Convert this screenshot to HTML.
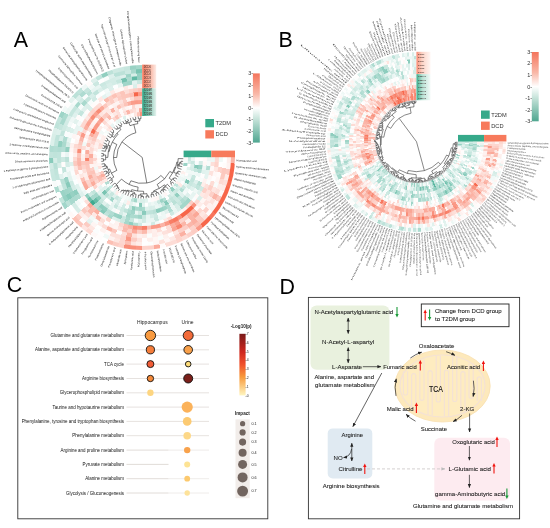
<!DOCTYPE html>
<html><head><meta charset="utf-8">
<style>
html,body{margin:0;padding:0;background:#fff;}
body{width:550px;height:528px;position:relative;overflow:hidden;font-family:"Liberation Sans",Arial,sans-serif;}
.rg{position:absolute;border-radius:50%;}
svg{position:absolute;left:0;top:0;}
</style></head><body>
<div class="rg" style="left:49.40px;top:64.60px;width:185.60px;height:185.60px;background:conic-gradient(#fff0 0deg 90.00deg,#fbb5a7 90.00deg 93.75deg,#f7664a 93.75deg 97.50deg,#f7664a 97.50deg 101.25deg,#f7664a 101.25deg 105.00deg,#f76e53 105.00deg 108.75deg,#f7664a 108.75deg 112.50deg,#f7664a 112.50deg 116.25deg,#f7674c 116.25deg 120.00deg,#f7664a 120.00deg 123.75deg,#f7664a 123.75deg 127.50deg,#f8765d 127.50deg 131.25deg,#f7664a 131.25deg 135.00deg,#f7664a 135.00deg 138.75deg,#fa9987 138.75deg 142.50deg,#fcccc3 142.50deg 146.25deg,#fdd0c8 146.25deg 150.00deg,#fddcd6 150.00deg 153.75deg,#fdd4cc 153.75deg 157.50deg,#fddcd6 157.50deg 161.25deg,#fddcd5 161.25deg 165.00deg,#fffbfa 165.00deg 168.75deg,#fbab9c 168.75deg 172.50deg,#fdd3cb 172.50deg 176.25deg,#fdd4cc 176.25deg 180.00deg,#fa9683 180.00deg 183.75deg,#f98f7b 183.75deg 187.50deg,#f98e79 187.50deg 191.25deg,#fdd3cb 191.25deg 195.00deg,#fcccc3 195.00deg 198.75deg,#fcbfb3 198.75deg 202.50deg,#ffffff 202.50deg 206.25deg,#fffdfc 206.25deg 210.00deg,#fff8f7 210.00deg 213.75deg,#fdd9d2 213.75deg 217.50deg,#fee5e1 217.50deg 221.25deg,#fcc7bd 221.25deg 225.00deg,#fcc1b5 225.00deg 228.75deg,#fff8f7 228.75deg 232.50deg,#f9fcfc 232.50deg 236.25deg,#a2d6ca 236.25deg 240.00deg,#c3e5dc 240.00deg 243.75deg,#fcfefe 243.75deg 247.50deg,#aedbd0 247.50deg 251.25deg,#f7fbfa 251.25deg 255.00deg,#c7e7df 255.00deg 258.75deg,#c9e7e0 258.75deg 262.50deg,#d2ebe5 262.50deg 266.25deg,#89cbbb 266.25deg 270.00deg,#c2e4dc 270.00deg 273.75deg,#b0dcd2 273.75deg 277.50deg,#dcf0eb 277.50deg 281.25deg,#d8eee8 281.25deg 285.00deg,#dbefea 285.00deg 288.75deg,#bfe3da 288.75deg 292.50deg,#c4e5dd 292.50deg 296.25deg,#9dd4c7 296.25deg 300.00deg,#f1f9f7 300.00deg 303.75deg,#fffdfd 303.75deg 307.50deg,#e4f3ef 307.50deg 311.25deg,#bbe1d8 311.25deg 315.00deg,#c0e3db 315.00deg 318.75deg,#eff8f6 318.75deg 322.50deg,#fffbfa 322.50deg 326.25deg,#def0ec 326.25deg 330.00deg,#c2e4dc 330.00deg 333.75deg,#91cfc0 333.75deg 337.50deg,#bde2d9 337.50deg 341.25deg,#cfeae3 341.25deg 345.00deg,#cde9e2 345.00deg 348.75deg,#c6e6de 348.75deg 352.50deg,#99d2c4 352.50deg 356.25deg,#a4d7ca 356.25deg 360.00deg)"></div>
<div class="rg" style="left:53.35px;top:68.55px;width:177.69px;height:177.69px;background:conic-gradient(#fff0 0deg 90.00deg,#feeeeb 90.00deg 93.75deg,#fef3f1 93.75deg 97.50deg,#fccbc2 97.50deg 101.25deg,#feebe7 101.25deg 105.00deg,#fddfda 105.00deg 108.75deg,#feeae7 108.75deg 112.50deg,#fff8f7 112.50deg 116.25deg,#fcc9c0 116.25deg 120.00deg,#fef4f2 120.00deg 123.75deg,#fef0ed 123.75deg 127.50deg,#fffbfb 127.50deg 131.25deg,#fddfda 131.25deg 135.00deg,#fcc8be 135.00deg 138.75deg,#fcc0b4 138.75deg 142.50deg,#fdd3cb 142.50deg 146.25deg,#fef1ef 146.25deg 150.00deg,#fbb0a2 150.00deg 153.75deg,#fdd2ca 153.75deg 157.50deg,#fee9e5 157.50deg 161.25deg,#fff6f5 161.25deg 165.00deg,#fde2dc 165.00deg 168.75deg,#fff6f4 168.75deg 172.50deg,#fcfefd 172.50deg 176.25deg,#fffefe 176.25deg 180.00deg,#feede9 180.00deg 183.75deg,#fee4df 183.75deg 187.50deg,#fcbfb3 187.50deg 191.25deg,#fdd7d0 191.25deg 195.00deg,#fee6e1 195.00deg 198.75deg,#fef2f0 198.75deg 202.50deg,#f1f9f7 202.50deg 206.25deg,#fffefe 206.25deg 210.00deg,#fbfdfd 210.00deg 213.75deg,#fee6e1 213.75deg 217.50deg,#fcccc3 217.50deg 221.25deg,#fffcfc 221.25deg 225.00deg,#fccec5 225.00deg 228.75deg,#fffdfd 228.75deg 232.50deg,#ffffff 232.50deg 236.25deg,#bce1d8 236.25deg 240.00deg,#96d1c3 240.00deg 243.75deg,#9bd3c6 243.75deg 247.50deg,#e5f4f0 247.50deg 251.25deg,#fbfdfd 251.25deg 255.00deg,#c3e5dd 255.00deg 258.75deg,#c1e4db 258.75deg 262.50deg,#b9e0d7 262.50deg 266.25deg,#d6ede7 266.25deg 270.00deg,#bfe3da 270.00deg 273.75deg,#b4ded4 273.75deg 277.50deg,#c3e5dd 277.50deg 281.25deg,#c0e3db 281.25deg 285.00deg,#ddf0ec 285.00deg 288.75deg,#c6e6de 288.75deg 292.50deg,#a9d9ce 292.50deg 296.25deg,#acdbcf 296.25deg 300.00deg,#ebf6f3 300.00deg 303.75deg,#eff8f6 303.75deg 307.50deg,#f6fbfa 307.50deg 311.25deg,#dcf0eb 311.25deg 315.00deg,#aedbd1 315.00deg 318.75deg,#c7e6df 318.75deg 322.50deg,#f1f9f7 322.50deg 326.25deg,#cce8e1 326.25deg 330.00deg,#fffefe 330.00deg 333.75deg,#f9fcfb 333.75deg 337.50deg,#ddf0ec 337.50deg 341.25deg,#bae1d8 341.25deg 345.00deg,#bce1d8 345.00deg 348.75deg,#cce9e2 348.75deg 352.50deg,#a9d9cd 352.50deg 356.25deg,#7ac4b2 356.25deg 360.00deg)"></div>
<div class="rg" style="left:57.31px;top:72.51px;width:169.78px;height:169.78px;background:conic-gradient(#fff0 0deg 90.00deg,#ffffff 90.00deg 93.75deg,#fffcfb 93.75deg 97.50deg,#fcc8be 97.50deg 101.25deg,#fccac0 101.25deg 105.00deg,#fdd9d2 105.00deg 108.75deg,#feece8 108.75deg 112.50deg,#fddfd9 112.50deg 116.25deg,#fbb5a8 116.25deg 120.00deg,#fde1dc 120.00deg 123.75deg,#fef1ef 123.75deg 127.50deg,#fdd1c9 127.50deg 131.25deg,#fee7e2 131.25deg 135.00deg,#fcccc3 135.00deg 138.75deg,#fbafa0 138.75deg 142.50deg,#fbb7aa 142.50deg 146.25deg,#fccec6 146.25deg 150.00deg,#fdcfc7 150.00deg 153.75deg,#fee5e0 153.75deg 157.50deg,#fffefe 157.50deg 161.25deg,#fef1ee 161.25deg 165.00deg,#f9fdfc 165.00deg 168.75deg,#fff7f5 168.75deg 172.50deg,#feefec 172.50deg 176.25deg,#fffdfd 176.25deg 180.00deg,#fde2dd 180.00deg 183.75deg,#fcccc3 183.75deg 187.50deg,#fa9885 187.50deg 191.25deg,#fdd7d0 191.25deg 195.00deg,#fde0da 195.00deg 198.75deg,#fde0db 198.75deg 202.50deg,#fffaf9 202.50deg 206.25deg,#fef3f0 206.25deg 210.00deg,#fefffe 210.00deg 213.75deg,#fef5f3 213.75deg 217.50deg,#e4f3f0 217.50deg 221.25deg,#fef3f1 221.25deg 225.00deg,#feeeeb 225.00deg 228.75deg,#d7ede8 228.75deg 232.50deg,#d4ece6 232.50deg 236.25deg,#a9d9ce 236.25deg 240.00deg,#86caba 240.00deg 243.75deg,#a0d5c8 243.75deg 247.50deg,#c0e3db 247.50deg 251.25deg,#bbe1d8 251.25deg 255.00deg,#e1f2ee 255.00deg 258.75deg,#feffff 258.75deg 262.50deg,#d6ede7 262.50deg 266.25deg,#c1e4db 266.25deg 270.00deg,#c1e4dc 270.00deg 273.75deg,#b0dcd2 273.75deg 277.50deg,#93d0c1 277.50deg 281.25deg,#d6ede8 281.25deg 285.00deg,#c2e4dc 285.00deg 288.75deg,#cfeae3 288.75deg 292.50deg,#d3ece6 292.50deg 296.25deg,#d7ede8 296.25deg 300.00deg,#c6e6de 300.00deg 303.75deg,#c5e6de 303.75deg 307.50deg,#a8d9cd 307.50deg 311.25deg,#d1ebe5 311.25deg 315.00deg,#f9fcfc 315.00deg 318.75deg,#bbe1d8 318.75deg 322.50deg,#e6f4f1 322.50deg 326.25deg,#e8f5f2 326.25deg 330.00deg,#cbe8e1 330.00deg 333.75deg,#d2ebe5 333.75deg 337.50deg,#d4ece6 337.50deg 341.25deg,#d6ede8 341.25deg 345.00deg,#def0ec 345.00deg 348.75deg,#9ed4c7 348.75deg 352.50deg,#d7eee8 352.50deg 356.25deg,#95d0c2 356.25deg 360.00deg)"></div>
<div class="rg" style="left:61.26px;top:76.46px;width:161.88px;height:161.88px;background:conic-gradient(#fff0 0deg 90.00deg,#f0f8f6 90.00deg 93.75deg,#ffffff 93.75deg 97.50deg,#fdd2ca 97.50deg 101.25deg,#fffbfa 101.25deg 105.00deg,#fff6f4 105.00deg 108.75deg,#f8fcfb 108.75deg 112.50deg,#fee5e1 112.50deg 116.25deg,#fdd0c8 116.25deg 120.00deg,#feedea 120.00deg 123.75deg,#fde2dd 123.75deg 127.50deg,#fffbfa 127.50deg 131.25deg,#fdd9d2 131.25deg 135.00deg,#faa797 135.00deg 138.75deg,#fbb4a6 138.75deg 142.50deg,#feeeeb 142.50deg 146.25deg,#fbb6a8 146.25deg 150.00deg,#f9856f 150.00deg 153.75deg,#faa493 153.75deg 157.50deg,#fdddd7 157.50deg 161.25deg,#fde1dc 161.25deg 165.00deg,#fef4f2 165.00deg 168.75deg,#feedea 168.75deg 172.50deg,#fbfdfc 172.50deg 176.25deg,#feebe7 176.25deg 180.00deg,#fef0ee 180.00deg 183.75deg,#fee3dd 183.75deg 187.50deg,#fbb2a4 187.50deg 191.25deg,#fddfda 191.25deg 195.00deg,#fdfefe 195.00deg 198.75deg,#fcc7bd 198.75deg 202.50deg,#fbb3a5 202.50deg 206.25deg,#fddcd6 206.25deg 210.00deg,#feebe7 210.00deg 213.75deg,#f9fcfb 213.75deg 217.50deg,#f1f9f7 217.50deg 221.25deg,#fdded8 221.25deg 225.00deg,#fcc9bf 225.00deg 228.75deg,#f8fcfb 228.75deg 232.50deg,#f0f9f7 232.50deg 236.25deg,#abdacf 236.25deg 240.00deg,#97d1c3 240.00deg 243.75deg,#a3d6ca 243.75deg 247.50deg,#87caba 247.50deg 251.25deg,#9bd3c6 251.25deg 255.00deg,#f0f9f7 255.00deg 258.75deg,#c4e5dd 258.75deg 262.50deg,#fffcfb 262.50deg 266.25deg,#cce9e2 266.25deg 270.00deg,#f6fbfa 270.00deg 273.75deg,#b5ded5 273.75deg 277.50deg,#abdace 277.50deg 281.25deg,#b0dcd2 281.25deg 285.00deg,#f9fcfc 285.00deg 288.75deg,#d7eee8 288.75deg 292.50deg,#f4faf9 292.50deg 296.25deg,#eef7f5 296.25deg 300.00deg,#dff1ed 300.00deg 303.75deg,#d8eee9 303.75deg 307.50deg,#f7fbfa 307.50deg 311.25deg,#a9d9cd 311.25deg 315.00deg,#c5e5dd 315.00deg 318.75deg,#d8eee9 318.75deg 322.50deg,#c2e4dc 322.50deg 326.25deg,#dbefea 326.25deg 330.00deg,#d0eae4 330.00deg 333.75deg,#d9eee9 333.75deg 337.50deg,#d3ece6 337.50deg 341.25deg,#c6e6de 341.25deg 345.00deg,#75c2b0 345.00deg 348.75deg,#addbd0 348.75deg 352.50deg,#62baa5 352.50deg 356.25deg,#93cfc1 356.25deg 360.00deg)"></div>
<div class="rg" style="left:65.22px;top:80.42px;width:153.97px;height:153.97px;background:conic-gradient(#fff0 0deg 90.00deg,#fddad3 90.00deg 93.75deg,#fdd3cb 93.75deg 97.50deg,#fee7e2 97.50deg 101.25deg,#fff8f7 101.25deg 105.00deg,#fffdfd 105.00deg 108.75deg,#fddcd5 108.75deg 112.50deg,#fdcfc6 112.50deg 116.25deg,#fee3de 116.25deg 120.00deg,#fee4df 120.00deg 123.75deg,#fff6f4 123.75deg 127.50deg,#feedea 127.50deg 131.25deg,#fff7f6 131.25deg 135.00deg,#fcbfb3 135.00deg 138.75deg,#fbb5a8 138.75deg 142.50deg,#fdd0c7 142.50deg 146.25deg,#fdd3cb 146.25deg 150.00deg,#fa9f8e 150.00deg 153.75deg,#fbafa0 153.75deg 157.50deg,#fdddd7 157.50deg 161.25deg,#fff8f6 161.25deg 165.00deg,#fdddd7 165.00deg 168.75deg,#feefec 168.75deg 172.50deg,#fee8e4 172.50deg 176.25deg,#fbb9ac 176.25deg 180.00deg,#fccec5 180.00deg 183.75deg,#fba99a 183.75deg 187.50deg,#fccec5 187.50deg 191.25deg,#fbb9ad 191.25deg 195.00deg,#fee3de 195.00deg 198.75deg,#fef4f2 198.75deg 202.50deg,#fef2f0 202.50deg 206.25deg,#fefefe 206.25deg 210.00deg,#fdddd6 210.00deg 213.75deg,#fbb7aa 213.75deg 217.50deg,#fee9e5 217.50deg 221.25deg,#fbbbae 221.25deg 225.00deg,#fdd8d1 225.00deg 228.75deg,#feffff 228.75deg 232.50deg,#fafdfc 232.50deg 236.25deg,#aedbd0 236.25deg 240.00deg,#8fcebf 240.00deg 243.75deg,#d4ece6 243.75deg 247.50deg,#ceeae3 247.50deg 251.25deg,#e3f3ef 251.25deg 255.00deg,#e6f4f0 255.00deg 258.75deg,#f4faf9 258.75deg 262.50deg,#d3ece6 262.50deg 266.25deg,#bce1d8 266.25deg 270.00deg,#e9f5f3 270.00deg 273.75deg,#94d0c1 273.75deg 277.50deg,#d8eee8 277.50deg 281.25deg,#e5f4f0 281.25deg 285.00deg,#f8fcfb 285.00deg 288.75deg,#dcf0eb 288.75deg 292.50deg,#fffefe 292.50deg 296.25deg,#e2f2ee 296.25deg 300.00deg,#fffbfa 300.00deg 303.75deg,#c4e5dd 303.75deg 307.50deg,#e0f1ed 307.50deg 311.25deg,#dbefea 311.25deg 315.00deg,#f7fcfb 315.00deg 318.75deg,#d0eae4 318.75deg 322.50deg,#fbfdfd 322.50deg 326.25deg,#fefffe 326.25deg 330.00deg,#f3faf8 330.00deg 333.75deg,#ddf0ec 333.75deg 337.50deg,#fdfefe 337.50deg 341.25deg,#e9f5f2 341.25deg 345.00deg,#a2d6ca 345.00deg 348.75deg,#9fd5c8 348.75deg 352.50deg,#e2f2ef 352.50deg 356.25deg,#c9e7e0 356.25deg 360.00deg)"></div>
<div class="rg" style="left:69.17px;top:84.37px;width:146.06px;height:146.06px;background:conic-gradient(#fff0 0deg 90.00deg,#eef7f5 90.00deg 93.75deg,#fddfd9 93.75deg 97.50deg,#fff8f7 97.50deg 101.25deg,#fde2dd 101.25deg 105.00deg,#fff7f6 105.00deg 108.75deg,#fafdfc 108.75deg 112.50deg,#fde0da 112.50deg 116.25deg,#fdd0c7 116.25deg 120.00deg,#fee9e5 120.00deg 123.75deg,#daefea 123.75deg 127.50deg,#fdd9d2 127.50deg 131.25deg,#f9927e 131.25deg 135.00deg,#f7664a 135.00deg 138.75deg,#f7664a 138.75deg 142.50deg,#f7664a 142.50deg 146.25deg,#f98b76 146.25deg 150.00deg,#f8775e 150.00deg 153.75deg,#f87e66 153.75deg 157.50deg,#fa9885 157.50deg 161.25deg,#fbb3a6 161.25deg 165.00deg,#fa9a87 165.00deg 168.75deg,#fa9a88 168.75deg 172.50deg,#fbbcb0 172.50deg 176.25deg,#f87e67 176.25deg 180.00deg,#f99682 180.00deg 183.75deg,#f98973 183.75deg 187.50deg,#fbafa0 187.50deg 191.25deg,#fcbfb3 191.25deg 195.00deg,#fdd6cf 195.00deg 198.75deg,#fef2ef 198.75deg 202.50deg,#fffdfd 202.50deg 206.25deg,#fdd4cc 206.25deg 210.00deg,#fef1ee 210.00deg 213.75deg,#fef2f0 213.75deg 217.50deg,#fbafa0 217.50deg 221.25deg,#fcbdb0 221.25deg 225.00deg,#fba999 225.00deg 228.75deg,#fdded8 228.75deg 232.50deg,#fef3f1 232.50deg 236.25deg,#def0ec 236.25deg 240.00deg,#e4f3f0 240.00deg 243.75deg,#e1f2ee 243.75deg 247.50deg,#fcfefe 247.50deg 251.25deg,#f6fbfa 251.25deg 255.00deg,#fbfdfd 255.00deg 258.75deg,#f8fcfb 258.75deg 262.50deg,#def1ec 262.50deg 266.25deg,#fafdfc 266.25deg 270.00deg,#fffcfb 270.00deg 273.75deg,#fff6f5 273.75deg 277.50deg,#fef1ef 277.50deg 281.25deg,#ffffff 281.25deg 285.00deg,#fef5f4 285.00deg 288.75deg,#e8f5f2 288.75deg 292.50deg,#e7f4f1 292.50deg 296.25deg,#f4faf9 296.25deg 300.00deg,#fdfefe 300.00deg 303.75deg,#f6fbfa 303.75deg 307.50deg,#fffcfb 307.50deg 311.25deg,#daefea 311.25deg 315.00deg,#fffbfa 315.00deg 318.75deg,#fffcfb 318.75deg 322.50deg,#fee8e4 322.50deg 326.25deg,#e4f3f0 326.25deg 330.00deg,#edf7f5 330.00deg 333.75deg,#fee9e5 333.75deg 337.50deg,#fff7f5 337.50deg 341.25deg,#fff9f7 341.25deg 345.00deg,#feeae6 345.00deg 348.75deg,#fff6f5 348.75deg 352.50deg,#daefea 352.50deg 356.25deg,#feedea 356.25deg 360.00deg)"></div>
<div class="rg" style="left:73.12px;top:88.32px;width:138.15px;height:138.15px;background:conic-gradient(#fff0 0deg 90.00deg,#ecf6f4 90.00deg 93.75deg,#f7fbfa 93.75deg 97.50deg,#b3ddd3 97.50deg 101.25deg,#e3f3ef 101.25deg 105.00deg,#e5f3f0 105.00deg 108.75deg,#fef2f0 108.75deg 112.50deg,#feeeea 112.50deg 116.25deg,#cfeae4 116.25deg 120.00deg,#e0f1ed 120.00deg 123.75deg,#fff9f8 123.75deg 127.50deg,#fbfdfd 127.50deg 131.25deg,#fccec5 131.25deg 135.00deg,#fddfd9 135.00deg 138.75deg,#fef0ed 138.75deg 142.50deg,#fff8f7 142.50deg 146.25deg,#fff6f4 146.25deg 150.00deg,#fbfdfd 150.00deg 153.75deg,#fdd9d2 153.75deg 157.50deg,#fee8e3 157.50deg 161.25deg,#ffffff 161.25deg 165.00deg,#f3faf8 165.00deg 168.75deg,#d2ebe5 168.75deg 172.50deg,#f2f9f8 172.50deg 176.25deg,#f6fbfa 176.25deg 180.00deg,#d0eae4 180.00deg 183.75deg,#b3ded3 183.75deg 187.50deg,#8fcebf 187.50deg 191.25deg,#a4d7cb 191.25deg 195.00deg,#cde9e2 195.00deg 198.75deg,#dbefea 198.75deg 202.50deg,#dff1ed 202.50deg 206.25deg,#a8d9cd 206.25deg 210.00deg,#c0e3db 210.00deg 213.75deg,#84c9b9 213.75deg 217.50deg,#a4d7cb 217.50deg 221.25deg,#b4ded4 221.25deg 225.00deg,#3eaa90 225.00deg 228.75deg,#6cbeaa 228.75deg 232.50deg,#90cebf 232.50deg 236.25deg,#edf7f5 236.25deg 240.00deg,#f3faf8 240.00deg 243.75deg,#fafdfc 243.75deg 247.50deg,#fff9f8 247.50deg 251.25deg,#fff6f4 251.25deg 255.00deg,#fdd7cf 255.00deg 258.75deg,#fee3de 258.75deg 262.50deg,#fccac0 262.50deg 266.25deg,#fdd9d2 266.25deg 270.00deg,#feefec 270.00deg 273.75deg,#fde2dd 273.75deg 277.50deg,#fdd8d1 277.50deg 281.25deg,#fef3f1 281.25deg 285.00deg,#fff8f7 285.00deg 288.75deg,#fdd4cc 288.75deg 292.50deg,#eaf6f3 292.50deg 296.25deg,#fdd8d1 296.25deg 300.00deg,#fdd9d2 300.00deg 303.75deg,#fee8e3 303.75deg 307.50deg,#fdd8d1 307.50deg 311.25deg,#fdd4cc 311.25deg 315.00deg,#fddbd4 315.00deg 318.75deg,#fdded8 318.75deg 322.50deg,#fffaf9 322.50deg 326.25deg,#fbbcaf 326.25deg 330.00deg,#fcccc3 330.00deg 333.75deg,#fcc2b6 333.75deg 337.50deg,#fdd0c7 337.50deg 341.25deg,#fcc5ba 341.25deg 345.00deg,#fddfd9 345.00deg 348.75deg,#fdd4cc 348.75deg 352.50deg,#fcccc3 352.50deg 356.25deg,#fcc2b7 356.25deg 360.00deg)"></div>
<div class="rg" style="left:77.08px;top:92.28px;width:130.25px;height:130.25px;background:conic-gradient(#fff0 0deg 90.00deg,#fffaf9 90.00deg 93.75deg,#fff7f6 93.75deg 97.50deg,#ecf6f4 97.50deg 101.25deg,#e1f2ee 101.25deg 105.00deg,#fffdfd 105.00deg 108.75deg,#f8fcfb 108.75deg 112.50deg,#b5ded4 112.50deg 116.25deg,#c1e4db 116.25deg 120.00deg,#f0f8f6 120.00deg 123.75deg,#e6f4f1 123.75deg 127.50deg,#e8f5f2 127.50deg 131.25deg,#a1d6c9 131.25deg 135.00deg,#a4d7ca 135.00deg 138.75deg,#a4d7ca 138.75deg 142.50deg,#d9eee9 142.50deg 146.25deg,#e8f5f2 146.25deg 150.00deg,#cee9e3 150.00deg 153.75deg,#fff8f7 153.75deg 157.50deg,#eff8f6 157.50deg 161.25deg,#ecf7f4 161.25deg 165.00deg,#c9e7e0 165.00deg 168.75deg,#eaf6f3 168.75deg 172.50deg,#eaf6f3 172.50deg 176.25deg,#d2ebe5 176.25deg 180.00deg,#e3f3ef 180.00deg 183.75deg,#f3faf8 183.75deg 187.50deg,#c8e7df 187.50deg 191.25deg,#aadace 191.25deg 195.00deg,#c9e7e0 195.00deg 198.75deg,#96d1c3 198.75deg 202.50deg,#9bd3c5 202.50deg 206.25deg,#b0dcd2 206.25deg 210.00deg,#b7dfd6 210.00deg 213.75deg,#91cec0 213.75deg 217.50deg,#8ecdbe 217.50deg 221.25deg,#b2ddd3 221.25deg 225.00deg,#66bca7 225.00deg 228.75deg,#a8d9cd 228.75deg 232.50deg,#cde9e2 232.50deg 236.25deg,#fffcfb 236.25deg 240.00deg,#faa898 240.00deg 243.75deg,#fbab9b 243.75deg 247.50deg,#fcbfb4 247.50deg 251.25deg,#fee7e2 251.25deg 255.00deg,#fff8f7 255.00deg 258.75deg,#fcc2b7 258.75deg 262.50deg,#fbb4a7 262.50deg 266.25deg,#fbb7aa 266.25deg 270.00deg,#fcc4b9 270.00deg 273.75deg,#f98b75 273.75deg 277.50deg,#fdd0c7 277.50deg 281.25deg,#fcc8bd 281.25deg 285.00deg,#fbb4a7 285.00deg 288.75deg,#fa9987 288.75deg 292.50deg,#fdd6cf 292.50deg 296.25deg,#fbae9f 296.25deg 300.00deg,#faa291 300.00deg 303.75deg,#faa999 303.75deg 307.50deg,#f98d78 307.50deg 311.25deg,#faa190 311.25deg 315.00deg,#f98c77 315.00deg 318.75deg,#fba999 318.75deg 322.50deg,#fcc8be 322.50deg 326.25deg,#fdd8d0 326.25deg 330.00deg,#fcccc2 330.00deg 333.75deg,#fee2dd 333.75deg 337.50deg,#fccbc2 337.50deg 341.25deg,#fcc6bb 341.25deg 345.00deg,#fcc6bb 345.00deg 348.75deg,#fcc1b6 348.75deg 352.50deg,#f7664a 352.50deg 356.25deg,#fa9a87 356.25deg 360.00deg)"></div>
<div class="rg" style="left:81.03px;top:96.23px;width:122.34px;height:122.34px;background:conic-gradient(#fff0 0deg 90.00deg,#fefefe 90.00deg 93.75deg,#d5ece7 93.75deg 97.50deg,#99d2c5 97.50deg 101.25deg,#b7dfd6 101.25deg 105.00deg,#eff8f6 105.00deg 108.75deg,#fcfefd 108.75deg 112.50deg,#dff1ed 112.50deg 116.25deg,#d0eae4 116.25deg 120.00deg,#e1f2ee 120.00deg 123.75deg,#fcfefd 123.75deg 127.50deg,#def0ec 127.50deg 131.25deg,#bce1d8 131.25deg 135.00deg,#b0dcd1 135.00deg 138.75deg,#c6e6de 138.75deg 142.50deg,#d7eee8 142.50deg 146.25deg,#edf7f4 146.25deg 150.00deg,#b2ddd3 150.00deg 153.75deg,#e0f1ed 153.75deg 157.50deg,#ecf7f4 157.50deg 161.25deg,#f6fbfa 161.25deg 165.00deg,#cee9e3 165.00deg 168.75deg,#d6ede8 168.75deg 172.50deg,#e9f5f2 172.50deg 176.25deg,#c8e7df 176.25deg 180.00deg,#9fd5c8 180.00deg 183.75deg,#aadace 183.75deg 187.50deg,#acdbcf 187.50deg 191.25deg,#a1d6c9 191.25deg 195.00deg,#e7f4f1 195.00deg 198.75deg,#d3ece6 198.75deg 202.50deg,#fffaf9 202.50deg 206.25deg,#f4faf9 206.25deg 210.00deg,#e5f4f0 210.00deg 213.75deg,#d0eae4 213.75deg 217.50deg,#e0f1ed 217.50deg 221.25deg,#c6e6de 221.25deg 225.00deg,#88cbba 225.00deg 228.75deg,#a6d8cc 228.75deg 232.50deg,#c1e4db 232.50deg 236.25deg,#f8fcfb 236.25deg 240.00deg,#fdd2c9 240.00deg 243.75deg,#fdd6cf 243.75deg 247.50deg,#feebe7 247.50deg 251.25deg,#feefec 251.25deg 255.00deg,#fddfd9 255.00deg 258.75deg,#fdd3cb 258.75deg 262.50deg,#fcc7bd 262.50deg 266.25deg,#feedea 266.25deg 270.00deg,#fef0ed 270.00deg 273.75deg,#fdfefe 273.75deg 277.50deg,#fdddd7 277.50deg 281.25deg,#f1f9f7 281.25deg 285.00deg,#fffafa 285.00deg 288.75deg,#feeeeb 288.75deg 292.50deg,#fffafa 292.50deg 296.25deg,#fde0da 296.25deg 300.00deg,#feefed 300.00deg 303.75deg,#fef2f0 303.75deg 307.50deg,#fff7f5 307.50deg 311.25deg,#fcccc2 311.25deg 315.00deg,#fee4df 315.00deg 318.75deg,#feebe7 318.75deg 322.50deg,#fee9e5 322.50deg 326.25deg,#fff9f8 326.25deg 330.00deg,#fef2f0 330.00deg 333.75deg,#fef4f2 333.75deg 337.50deg,#fde1dc 337.50deg 341.25deg,#fccdc4 341.25deg 345.00deg,#fef1ee 345.00deg 348.75deg,#fdddd6 348.75deg 352.50deg,#fcc4b9 352.50deg 356.25deg,#fcc5bb 356.25deg 360.00deg)"></div>
<div class="rg" style="left:84.98px;top:100.18px;width:114.43px;height:114.43px;background:conic-gradient(#fff0 0deg 90.00deg,#fffefe 90.00deg 93.75deg,#f9fcfc 93.75deg 97.50deg,#88caba 97.50deg 101.25deg,#c5e6de 101.25deg 105.00deg,#f1f9f7 105.00deg 108.75deg,#c8e7df 108.75deg 112.50deg,#c2e4dc 112.50deg 116.25deg,#c8e7df 116.25deg 120.00deg,#d6ede7 120.00deg 123.75deg,#f1f9f7 123.75deg 127.50deg,#f5faf9 127.50deg 131.25deg,#e0f1ed 131.25deg 135.00deg,#c2e4dc 135.00deg 138.75deg,#cde9e2 138.75deg 142.50deg,#bae1d7 142.50deg 146.25deg,#ebf6f4 146.25deg 150.00deg,#addbd0 150.00deg 153.75deg,#9dd4c7 153.75deg 157.50deg,#96d1c3 157.50deg 161.25deg,#8accbc 161.25deg 165.00deg,#bae0d7 165.00deg 168.75deg,#c0e3db 168.75deg 172.50deg,#c2e4dc 172.50deg 176.25deg,#8acbbc 176.25deg 180.00deg,#d3ebe5 180.00deg 183.75deg,#ebf6f3 183.75deg 187.50deg,#a2d6ca 187.50deg 191.25deg,#addbd0 191.25deg 195.00deg,#bfe3da 195.00deg 198.75deg,#ceeae3 198.75deg 202.50deg,#e0f1ed 202.50deg 206.25deg,#c4e5dd 206.25deg 210.00deg,#e7f4f1 210.00deg 213.75deg,#f9fdfc 213.75deg 217.50deg,#ffffff 217.50deg 221.25deg,#d3ece6 221.25deg 225.00deg,#d1ebe5 225.00deg 228.75deg,#e4f3ef 228.75deg 232.50deg,#fff7f6 232.50deg 236.25deg,#fdd3ca 236.25deg 240.00deg,#fbac9c 240.00deg 243.75deg,#fcc3b8 243.75deg 247.50deg,#fbac9d 247.50deg 251.25deg,#fcc5ba 251.25deg 255.00deg,#fcc9bf 255.00deg 258.75deg,#fcc7bd 258.75deg 262.50deg,#fcc3b8 262.50deg 266.25deg,#f8826b 266.25deg 270.00deg,#fccdc4 270.00deg 273.75deg,#fbad9e 273.75deg 277.50deg,#fef0ee 277.50deg 281.25deg,#fcc7bd 281.25deg 285.00deg,#fde1db 285.00deg 288.75deg,#fdd4cc 288.75deg 292.50deg,#fbab9b 292.50deg 296.25deg,#f76e54 296.25deg 300.00deg,#fa9a87 300.00deg 303.75deg,#fa9986 303.75deg 307.50deg,#faa696 307.50deg 311.25deg,#fa9986 311.25deg 315.00deg,#fccdc4 315.00deg 318.75deg,#fcc9bf 318.75deg 322.50deg,#feeae6 322.50deg 326.25deg,#fbb1a3 326.25deg 330.00deg,#fee9e5 330.00deg 333.75deg,#fcc1b5 333.75deg 337.50deg,#fdd6ce 337.50deg 341.25deg,#fcc4b9 341.25deg 345.00deg,#fbae9f 345.00deg 348.75deg,#fa9d8b 348.75deg 352.50deg,#fa9a88 352.50deg 356.25deg,#fa9e8c 356.25deg 360.00deg)"></div>
<div class="rg" style="left:88.94px;top:104.14px;width:106.52px;height:106.52px;background:conic-gradient(#fff0 0deg 90.00deg,#e9f5f2 90.00deg 93.75deg,#c9e7e0 93.75deg 97.50deg,#daefea 97.50deg 101.25deg,#d8eee9 101.25deg 105.00deg,#f1f9f7 105.00deg 108.75deg,#ebf6f4 108.75deg 112.50deg,#eff8f6 112.50deg 116.25deg,#80c7b6 116.25deg 120.00deg,#e6f4f0 120.00deg 123.75deg,#cbe8e1 123.75deg 127.50deg,#b1ddd2 127.50deg 131.25deg,#e1f2ee 131.25deg 135.00deg,#92cfc0 135.00deg 138.75deg,#cbe8e1 138.75deg 142.50deg,#c3e4dc 142.50deg 146.25deg,#cde9e2 146.25deg 150.00deg,#84c9b9 150.00deg 153.75deg,#c9e7e0 153.75deg 157.50deg,#e6f4f1 157.50deg 161.25deg,#ecf7f4 161.25deg 165.00deg,#dbefea 165.00deg 168.75deg,#d8eee9 168.75deg 172.50deg,#def1ec 172.50deg 176.25deg,#aadace 176.25deg 180.00deg,#a4d7cb 180.00deg 183.75deg,#aadace 183.75deg 187.50deg,#8fcebe 187.50deg 191.25deg,#c6e6de 191.25deg 195.00deg,#f8fcfb 195.00deg 198.75deg,#d2ebe5 198.75deg 202.50deg,#f2f9f8 202.50deg 206.25deg,#d7ede8 206.25deg 210.00deg,#e9f5f2 210.00deg 213.75deg,#a0d5c9 213.75deg 217.50deg,#cce9e2 217.50deg 221.25deg,#b8e0d6 221.25deg 225.00deg,#79c4b2 225.00deg 228.75deg,#def1ec 228.75deg 232.50deg,#e6f4f1 232.50deg 236.25deg,#fef3f1 236.25deg 240.00deg,#fdd5cd 240.00deg 243.75deg,#fccbc2 243.75deg 247.50deg,#fccdc4 247.50deg 251.25deg,#fcc3b8 251.25deg 255.00deg,#fdcfc7 255.00deg 258.75deg,#fef5f3 258.75deg 262.50deg,#fcc9bf 262.50deg 266.25deg,#fcc8be 266.25deg 270.00deg,#fbad9e 270.00deg 273.75deg,#fdddd6 273.75deg 277.50deg,#fdd9d2 277.50deg 281.25deg,#fee6e2 281.25deg 285.00deg,#fdd5ce 285.00deg 288.75deg,#fcc8be 288.75deg 292.50deg,#fcc2b7 292.50deg 296.25deg,#fcbeb2 296.25deg 300.00deg,#feeae6 300.00deg 303.75deg,#feede9 303.75deg 307.50deg,#ffffff 307.50deg 311.25deg,#fddad4 311.25deg 315.00deg,#feedea 315.00deg 318.75deg,#fbbaad 318.75deg 322.50deg,#fef4f2 322.50deg 326.25deg,#fee9e5 326.25deg 330.00deg,#fde0db 330.00deg 333.75deg,#fffaf9 333.75deg 337.50deg,#feebe7 337.50deg 341.25deg,#fef5f3 341.25deg 345.00deg,#fffafa 345.00deg 348.75deg,#fdd6cf 348.75deg 352.50deg,#feefec 352.50deg 356.25deg,#feefec 356.25deg 360.00deg)"></div>
<div class="rg" style="left:92.89px;top:108.09px;width:98.62px;height:98.62px;background:conic-gradient(#fff0 0deg 90.00deg,#c7e6df 90.00deg 93.75deg,#d7ede8 93.75deg 97.50deg,#fffefe 97.50deg 101.25deg,#e3f3ef 101.25deg 105.00deg,#f3faf8 105.00deg 108.75deg,#fffcfc 108.75deg 112.50deg,#f0f8f6 112.50deg 116.25deg,#eaf6f3 116.25deg 120.00deg,#fbfdfd 120.00deg 123.75deg,#fee9e5 123.75deg 127.50deg,#daefea 127.50deg 131.25deg,#cfeae3 131.25deg 135.00deg,#cfeae3 135.00deg 138.75deg,#daefea 138.75deg 142.50deg,#cde9e2 142.50deg 146.25deg,#fcfefd 146.25deg 150.00deg,#b4ded4 150.00deg 153.75deg,#9ed4c7 153.75deg 157.50deg,#c9e7e0 157.50deg 161.25deg,#e6f4f1 161.25deg 165.00deg,#eef8f5 165.00deg 168.75deg,#e6f4f1 168.75deg 172.50deg,#fefffe 172.50deg 176.25deg,#e6f4f1 176.25deg 180.00deg,#8accbc 180.00deg 183.75deg,#fafdfc 183.75deg 187.50deg,#f0f8f6 187.50deg 191.25deg,#e2f2ee 191.25deg 195.00deg,#feece8 195.00deg 198.75deg,#eef7f5 198.75deg 202.50deg,#fbfdfd 202.50deg 206.25deg,#d5ede7 206.25deg 210.00deg,#c9e7e0 210.00deg 213.75deg,#dff1ed 213.75deg 217.50deg,#c7e6df 217.50deg 221.25deg,#ddf0eb 221.25deg 225.00deg,#abdacf 225.00deg 228.75deg,#def0ec 228.75deg 232.50deg,#fffefd 232.50deg 236.25deg,#fee6e2 236.25deg 240.00deg,#fcbfb4 240.00deg 243.75deg,#fbbcaf 243.75deg 247.50deg,#fde2dd 247.50deg 251.25deg,#fef2f0 251.25deg 255.00deg,#f0f8f6 255.00deg 258.75deg,#fef3f1 258.75deg 262.50deg,#feede9 262.50deg 266.25deg,#fdd4cd 266.25deg 270.00deg,#fef1ee 270.00deg 273.75deg,#fffefe 273.75deg 277.50deg,#feece9 277.50deg 281.25deg,#fef3f1 281.25deg 285.00deg,#fef0ee 285.00deg 288.75deg,#fee8e3 288.75deg 292.50deg,#f9fcfc 292.50deg 296.25deg,#fef5f3 296.25deg 300.00deg,#f2f9f7 300.00deg 303.75deg,#ffffff 303.75deg 307.50deg,#fef4f2 307.50deg 311.25deg,#fee6e1 311.25deg 315.00deg,#fff7f5 315.00deg 318.75deg,#fffcfc 318.75deg 322.50deg,#fdd6cf 322.50deg 326.25deg,#fcc3b8 326.25deg 330.00deg,#fdded8 330.00deg 333.75deg,#fffaf9 333.75deg 337.50deg,#fddfda 337.50deg 341.25deg,#fbb4a7 341.25deg 345.00deg,#fdd7d0 345.00deg 348.75deg,#fddfd9 348.75deg 352.50deg,#feedea 352.50deg 356.25deg,#fbad9e 356.25deg 360.00deg)"></div>
<div class="rg" style="left:96.85px;top:112.05px;width:90.71px;height:90.71px;background:conic-gradient(#fff0 0deg 90.00deg,#fff9f8 90.00deg 93.75deg,#f6fbfa 93.75deg 97.50deg,#9bd3c6 97.50deg 101.25deg,#fdfefe 101.25deg 105.00deg,#fafdfc 105.00deg 108.75deg,#fef0ed 108.75deg 112.50deg,#f6fbfa 112.50deg 116.25deg,#eef7f5 116.25deg 120.00deg,#f0f8f6 120.00deg 123.75deg,#fef0ed 123.75deg 127.50deg,#c2e4dc 127.50deg 131.25deg,#ecf7f4 131.25deg 135.00deg,#92cfc0 135.00deg 138.75deg,#d7ede8 138.75deg 142.50deg,#fefefe 142.50deg 146.25deg,#fff6f5 146.25deg 150.00deg,#f5fbfa 150.00deg 153.75deg,#dcefeb 153.75deg 157.50deg,#fef5f3 157.50deg 161.25deg,#fff8f7 161.25deg 165.00deg,#fffaf9 165.00deg 168.75deg,#fbfdfd 168.75deg 172.50deg,#e4f3ef 172.50deg 176.25deg,#daefea 176.25deg 180.00deg,#dbefea 180.00deg 183.75deg,#e4f3f0 183.75deg 187.50deg,#a4d7ca 187.50deg 191.25deg,#bfe3da 191.25deg 195.00deg,#eef8f5 195.00deg 198.75deg,#f3faf8 198.75deg 202.50deg,#f7fcfb 202.50deg 206.25deg,#edf7f5 206.25deg 210.00deg,#fffcfb 210.00deg 213.75deg,#feeeeb 213.75deg 217.50deg,#edf7f5 217.50deg 221.25deg,#fffcfc 221.25deg 225.00deg,#c6e6de 225.00deg 228.75deg,#f8fcfb 228.75deg 232.50deg,#b3ddd3 232.50deg 236.25deg,#feece8 236.25deg 240.00deg,#fccdc4 240.00deg 243.75deg,#fbae9f 243.75deg 247.50deg,#fccbc2 247.50deg 251.25deg,#fcfefd 251.25deg 255.00deg,#fee3de 255.00deg 258.75deg,#fff6f4 258.75deg 262.50deg,#fffcfb 262.50deg 266.25deg,#fff9f7 266.25deg 270.00deg,#fdfefe 270.00deg 273.75deg,#fefffe 273.75deg 277.50deg,#f7fcfa 277.50deg 281.25deg,#fde0da 281.25deg 285.00deg,#fddad3 285.00deg 288.75deg,#feece9 288.75deg 292.50deg,#feeeeb 292.50deg 296.25deg,#feeeeb 296.25deg 300.00deg,#fcfefd 300.00deg 303.75deg,#f5fbf9 303.75deg 307.50deg,#fee9e5 307.50deg 311.25deg,#fddbd4 311.25deg 315.00deg,#e9f5f3 315.00deg 318.75deg,#feffff 318.75deg 322.50deg,#eef8f5 322.50deg 326.25deg,#e7f5f1 326.25deg 330.00deg,#ffffff 330.00deg 333.75deg,#dff1ed 333.75deg 337.50deg,#fefffe 337.50deg 341.25deg,#fef5f3 341.25deg 345.00deg,#fffcfb 345.00deg 348.75deg,#fee6e1 348.75deg 352.50deg,#fcc4b9 352.50deg 356.25deg,#f9917c 356.25deg 360.00deg)"></div>
<div class="rg" style="left:100.80px;top:116.00px;width:82.80px;height:82.80px;background:#fff"></div>
<div class="rg" style="left:326.60px;top:51.80px;width:179.80px;height:179.80px;background:conic-gradient(#fff0 0deg 90.00deg,#feeae6 90.00deg 91.59deg,#fffbfb 91.59deg 93.18deg,#fef4f2 93.18deg 94.76deg,#fdded8 94.76deg 96.35deg,#fee8e4 96.35deg 97.94deg,#fffefe 97.94deg 99.53deg,#feffff 99.53deg 101.12deg,#fff9f8 101.12deg 102.71deg,#fef4f2 102.71deg 104.29deg,#e7f4f1 104.29deg 105.88deg,#feeeea 105.88deg 107.47deg,#fffefe 107.47deg 109.06deg,#edf7f4 109.06deg 110.65deg,#fef3f1 110.65deg 112.24deg,#eaf6f3 112.24deg 113.82deg,#f7fbfa 113.82deg 115.41deg,#fef4f2 115.41deg 117.00deg,#f5fbf9 117.00deg 118.59deg,#fffaf9 118.59deg 120.18deg,#edf7f5 120.18deg 121.76deg,#feedea 121.76deg 123.35deg,#fff7f6 123.35deg 124.94deg,#feeae7 124.94deg 126.53deg,#fffbfa 126.53deg 128.12deg,#fddad3 128.12deg 129.71deg,#fcccc3 129.71deg 131.29deg,#fddad3 131.29deg 132.88deg,#feebe7 132.88deg 134.47deg,#fffdfd 134.47deg 136.06deg,#fffbfa 136.06deg 137.65deg,#f8fcfb 137.65deg 139.24deg,#fefefe 139.24deg 140.82deg,#d6ede7 140.82deg 142.41deg,#f9fcfc 142.41deg 144.00deg,#fee6e1 144.00deg 145.59deg,#fafdfc 145.59deg 147.18deg,#fff9f8 147.18deg 148.76deg,#fff9f8 148.76deg 150.35deg,#fde0da 150.35deg 151.94deg,#fefefe 151.94deg 153.53deg,#f7fbfa 153.53deg 155.12deg,#eef8f5 155.12deg 156.71deg,#fffdfd 156.71deg 158.29deg,#f8fcfb 158.29deg 159.88deg,#e3f3ef 159.88deg 161.47deg,#fbfdfd 161.47deg 163.06deg,#d1ebe5 163.06deg 164.65deg,#f9fcfc 164.65deg 166.24deg,#fafdfc 166.24deg 167.82deg,#fffefe 167.82deg 169.41deg,#e0f1ed 169.41deg 171.00deg,#eaf6f3 171.00deg 172.59deg,#def0ec 172.59deg 174.18deg,#f5fbf9 174.18deg 175.76deg,#f6fbfa 175.76deg 177.35deg,#acdbd0 177.35deg 178.94deg,#e7f4f1 178.94deg 180.53deg,#c5e5de 180.53deg 182.12deg,#f5faf9 182.12deg 183.71deg,#cce9e2 183.71deg 185.29deg,#f7fcfb 185.29deg 186.88deg,#d8eee9 186.88deg 188.47deg,#b2ddd3 188.47deg 190.06deg,#bee2da 190.06deg 191.65deg,#fafdfc 191.65deg 193.24deg,#edf7f5 193.24deg 194.82deg,#e3f2ef 194.82deg 196.41deg,#bde2d9 196.41deg 198.00deg,#d8eee8 198.00deg 199.59deg,#d0eae4 199.59deg 201.18deg,#bee2da 201.18deg 202.76deg,#cce8e1 202.76deg 204.35deg,#b0dcd1 204.35deg 205.94deg,#f0f8f6 205.94deg 207.53deg,#eef8f5 207.53deg 209.12deg,#e6f4f1 209.12deg 210.71deg,#c6e6de 210.71deg 212.29deg,#fefefe 212.29deg 213.88deg,#d7ede8 213.88deg 215.47deg,#f0f8f6 215.47deg 217.06deg,#e2f2ee 217.06deg 218.65deg,#f9fcfc 218.65deg 220.24deg,#f3faf8 220.24deg 221.82deg,#e6f4f1 221.82deg 223.41deg,#ddf0ec 223.41deg 225.00deg,#fffdfc 225.00deg 226.59deg,#fafdfc 226.59deg 228.18deg,#fffbfa 228.18deg 229.76deg,#c0e3db 229.76deg 231.35deg,#c1e4dc 231.35deg 232.94deg,#e7f4f1 232.94deg 234.53deg,#fdfefe 234.53deg 236.12deg,#d2ebe5 236.12deg 237.71deg,#e9f6f3 237.71deg 239.29deg,#fffefd 239.29deg 240.88deg,#ebf6f3 240.88deg 242.47deg,#f8fcfb 242.47deg 244.06deg,#e7f4f1 244.06deg 245.65deg,#eef8f5 245.65deg 247.24deg,#e7f5f1 247.24deg 248.82deg,#fff7f5 248.82deg 250.41deg,#fcfefd 250.41deg 252.00deg,#fff8f7 252.00deg 253.59deg,#ebf6f3 253.59deg 255.18deg,#fff7f6 255.18deg 256.76deg,#feeae6 256.76deg 258.35deg,#fef2f0 258.35deg 259.94deg,#f8fcfb 259.94deg 261.53deg,#fff6f4 261.53deg 263.12deg,#fee7e2 263.12deg 264.71deg,#ebf6f3 264.71deg 266.29deg,#fff8f6 266.29deg 267.88deg,#e7f5f1 267.88deg 269.47deg,#fff7f5 269.47deg 271.06deg,#fff8f7 271.06deg 272.65deg,#fafdfc 272.65deg 274.24deg,#f5fbf9 274.24deg 275.82deg,#fdfefe 275.82deg 277.41deg,#feefec 277.41deg 279.00deg,#fefffe 279.00deg 280.59deg,#fdfefe 280.59deg 282.18deg,#fef1ee 282.18deg 283.76deg,#fddcd5 283.76deg 285.35deg,#f8fcfb 285.35deg 286.94deg,#fffdfd 286.94deg 288.53deg,#fff9f8 288.53deg 290.12deg,#fafdfc 290.12deg 291.71deg,#e3f3ef 291.71deg 293.29deg,#f3faf8 293.29deg 294.88deg,#fdfefe 294.88deg 296.47deg,#ecf7f4 296.47deg 298.06deg,#ffffff 298.06deg 299.65deg,#fff6f5 299.65deg 301.24deg,#f6fbfa 301.24deg 302.82deg,#eff8f6 302.82deg 304.41deg,#fefefe 304.41deg 306.00deg,#f2f9f8 306.00deg 307.59deg,#fffefe 307.59deg 309.18deg,#feebe8 309.18deg 310.76deg,#f4faf9 310.76deg 312.35deg,#fef4f2 312.35deg 313.94deg,#f4faf9 313.94deg 315.53deg,#fcfefd 315.53deg 317.12deg,#fffdfd 317.12deg 318.71deg,#d8eee9 318.71deg 320.29deg,#e8f5f2 320.29deg 321.88deg,#e1f2ee 321.88deg 323.47deg,#dff1ec 323.47deg 325.06deg,#ecf6f4 325.06deg 326.65deg,#f2f9f8 326.65deg 328.24deg,#cee9e3 328.24deg 329.82deg,#aedbd0 329.82deg 331.41deg,#e5f3f0 331.41deg 333.00deg,#b9e0d7 333.00deg 334.59deg,#b7dfd6 334.59deg 336.18deg,#d9eee9 336.18deg 337.76deg,#f0f9f7 337.76deg 339.35deg,#f1f9f7 339.35deg 340.94deg,#e7f5f1 340.94deg 342.53deg,#e8f5f2 342.53deg 344.12deg,#bde2d9 344.12deg 345.71deg,#dcefeb 345.71deg 347.29deg,#d9eee9 347.29deg 348.88deg,#fefffe 348.88deg 350.47deg,#dff1ed 350.47deg 352.06deg,#eef8f5 352.06deg 353.65deg,#d2ebe5 353.65deg 355.24deg,#fafdfc 355.24deg 356.82deg,#d9eee9 356.82deg 358.41deg,#f7fbfa 358.41deg 360.00deg)"></div>
<div class="rg" style="left:330.32px;top:55.52px;width:172.35px;height:172.35px;background:conic-gradient(#fff0 0deg 90.00deg,#fdd8d0 90.00deg 91.59deg,#fddfd9 91.59deg 93.18deg,#fee5e0 93.18deg 94.76deg,#fffaf9 94.76deg 96.35deg,#fffdfd 96.35deg 97.94deg,#fef0ee 97.94deg 99.53deg,#feefec 99.53deg 101.12deg,#fbfdfd 101.12deg 102.71deg,#fffcfb 102.71deg 104.29deg,#fef0ed 104.29deg 105.88deg,#fffbfa 105.88deg 107.47deg,#fef0ee 107.47deg 109.06deg,#fbfdfd 109.06deg 110.65deg,#d5ede7 110.65deg 112.24deg,#dbefea 112.24deg 113.82deg,#f0f9f7 113.82deg 115.41deg,#f2f9f8 115.41deg 117.00deg,#fff8f7 117.00deg 118.59deg,#fdd3cb 118.59deg 120.18deg,#feede9 120.18deg 121.76deg,#fdd1c8 121.76deg 123.35deg,#feece8 123.35deg 124.94deg,#fdd4cc 124.94deg 126.53deg,#feefec 126.53deg 128.12deg,#fccfc6 128.12deg 129.71deg,#feece8 129.71deg 131.29deg,#fdded8 131.29deg 132.88deg,#fddfd9 132.88deg 134.47deg,#fef5f3 134.47deg 136.06deg,#fff9f8 136.06deg 137.65deg,#daefea 137.65deg 139.24deg,#fffbfa 139.24deg 140.82deg,#fdddd6 140.82deg 142.41deg,#fee6e1 142.41deg 144.00deg,#feffff 144.00deg 145.59deg,#fff7f6 145.59deg 147.18deg,#fef2f0 147.18deg 148.76deg,#def0ec 148.76deg 150.35deg,#fff9f8 150.35deg 151.94deg,#feedea 151.94deg 153.53deg,#f9fcfb 153.53deg 155.12deg,#feefec 155.12deg 156.71deg,#feeae6 156.71deg 158.29deg,#fffefe 158.29deg 159.88deg,#e1f2ee 159.88deg 161.47deg,#ffffff 161.47deg 163.06deg,#f0f8f6 163.06deg 164.65deg,#ffffff 164.65deg 166.24deg,#fef2f0 166.24deg 167.82deg,#e0f1ed 167.82deg 169.41deg,#f6fbfa 169.41deg 171.00deg,#fee9e4 171.00deg 172.59deg,#f6fbfa 172.59deg 174.18deg,#fffefe 174.18deg 175.76deg,#f0f8f6 175.76deg 177.35deg,#e6f4f1 177.35deg 178.94deg,#fdfefe 178.94deg 180.53deg,#e3f3ef 180.53deg 182.12deg,#fee5e0 182.12deg 183.71deg,#fffcfc 183.71deg 185.29deg,#fff8f6 185.29deg 186.88deg,#feedea 186.88deg 188.47deg,#ffffff 188.47deg 190.06deg,#fdddd6 190.06deg 191.65deg,#fef0ed 191.65deg 193.24deg,#f5fbf9 193.24deg 194.82deg,#fffefd 194.82deg 196.41deg,#fffefe 196.41deg 198.00deg,#fef1ee 198.00deg 199.59deg,#fee8e4 199.59deg 201.18deg,#fbfdfd 201.18deg 202.76deg,#eef7f5 202.76deg 204.35deg,#fff5f4 204.35deg 205.94deg,#feefec 205.94deg 207.53deg,#fdd3cb 207.53deg 209.12deg,#f9fdfc 209.12deg 210.71deg,#d1ebe5 210.71deg 212.29deg,#fffefe 212.29deg 213.88deg,#fffefe 213.88deg 215.47deg,#fffcfb 215.47deg 217.06deg,#fffcfc 217.06deg 218.65deg,#feffff 218.65deg 220.24deg,#eef7f5 220.24deg 221.82deg,#f5fbf9 221.82deg 223.41deg,#fef5f3 223.41deg 225.00deg,#e9f5f2 225.00deg 226.59deg,#eef8f5 226.59deg 228.18deg,#fffbfa 228.18deg 229.76deg,#fdfefe 229.76deg 231.35deg,#f3faf8 231.35deg 232.94deg,#fff7f6 232.94deg 234.53deg,#fef3f1 234.53deg 236.12deg,#f5faf9 236.12deg 237.71deg,#fffdfd 237.71deg 239.29deg,#fee4df 239.29deg 240.88deg,#fef5f3 240.88deg 242.47deg,#ffffff 242.47deg 244.06deg,#9fd5c8 244.06deg 245.65deg,#a1d6c9 245.65deg 247.24deg,#b9e0d7 247.24deg 248.82deg,#a7d8cc 248.82deg 250.41deg,#bbe1d8 250.41deg 252.00deg,#cde9e2 252.00deg 253.59deg,#f2f9f7 253.59deg 255.18deg,#ebf6f4 255.18deg 256.76deg,#fafdfc 256.76deg 258.35deg,#c7e6df 258.35deg 259.94deg,#e5f4f0 259.94deg 261.53deg,#f2f9f7 261.53deg 263.12deg,#e8f5f2 263.12deg 264.71deg,#ecf6f4 264.71deg 266.29deg,#bbe1d8 266.29deg 267.88deg,#c3e5dd 267.88deg 269.47deg,#c0e3db 269.47deg 271.06deg,#cee9e3 271.06deg 272.65deg,#aedbd0 272.65deg 274.24deg,#8fcdbe 274.24deg 275.82deg,#f3faf8 275.82deg 277.41deg,#fffdfc 277.41deg 279.00deg,#f1f9f7 279.00deg 280.59deg,#fffdfd 280.59deg 282.18deg,#f8fcfb 282.18deg 283.76deg,#fcfefd 283.76deg 285.35deg,#eef7f5 285.35deg 286.94deg,#fff6f4 286.94deg 288.53deg,#fdfefe 288.53deg 290.12deg,#f7fbfa 290.12deg 291.71deg,#e6f4f1 291.71deg 293.29deg,#cfeae3 293.29deg 294.88deg,#cbe8e1 294.88deg 296.47deg,#bee2da 296.47deg 298.06deg,#e6f4f1 298.06deg 299.65deg,#c9e7e0 299.65deg 301.24deg,#dbefea 301.24deg 302.82deg,#fefefe 302.82deg 304.41deg,#f4faf9 304.41deg 306.00deg,#fcfefd 306.00deg 307.59deg,#ffffff 307.59deg 309.18deg,#e2f2ee 309.18deg 310.76deg,#fef1ee 310.76deg 312.35deg,#f3faf8 312.35deg 313.94deg,#d7eee8 313.94deg 315.53deg,#f6fbfa 315.53deg 317.12deg,#f0f8f6 317.12deg 318.71deg,#fffefe 318.71deg 320.29deg,#f2f9f7 320.29deg 321.88deg,#fef2f0 321.88deg 323.47deg,#f9fcfb 323.47deg 325.06deg,#fff9f8 325.06deg 326.65deg,#feedea 326.65deg 328.24deg,#dcf0eb 328.24deg 329.82deg,#eff8f6 329.82deg 331.41deg,#fffdfd 331.41deg 333.00deg,#e9f5f2 333.00deg 334.59deg,#fafdfc 334.59deg 336.18deg,#f6fbfa 336.18deg 337.76deg,#fff7f5 337.76deg 339.35deg,#fee4df 339.35deg 340.94deg,#f7fbfa 340.94deg 342.53deg,#e5f4f0 342.53deg 344.12deg,#f3faf8 344.12deg 345.71deg,#dcefeb 345.71deg 347.29deg,#fffbfa 347.29deg 348.88deg,#fffbfa 348.88deg 350.47deg,#ffffff 350.47deg 352.06deg,#e5f3f0 352.06deg 353.65deg,#eff8f6 353.65deg 355.24deg,#edf7f5 355.24deg 356.82deg,#e7f5f1 356.82deg 358.41deg,#bee2d9 358.41deg 360.00deg)"></div>
<div class="rg" style="left:334.05px;top:59.25px;width:164.91px;height:164.91px;background:conic-gradient(#fff0 0deg 90.00deg,#fef2ef 90.00deg 91.59deg,#fdd6cf 91.59deg 93.18deg,#fccdc4 93.18deg 94.76deg,#fcbdb1 94.76deg 96.35deg,#fee8e4 96.35deg 97.94deg,#fcbfb3 97.94deg 99.53deg,#fbbcb0 99.53deg 101.12deg,#fff7f5 101.12deg 102.71deg,#fbae9f 102.71deg 104.29deg,#fde0da 104.29deg 105.88deg,#fbad9e 105.88deg 107.47deg,#fddbd5 107.47deg 109.06deg,#feedea 109.06deg 110.65deg,#fffbfb 110.65deg 112.24deg,#fff9f8 112.24deg 113.82deg,#fdd8d1 113.82deg 115.41deg,#fcbeb2 115.41deg 117.00deg,#feefec 117.00deg 118.59deg,#fbb9ac 118.59deg 120.18deg,#fbb0a2 120.18deg 121.76deg,#fdd9d2 121.76deg 123.35deg,#fdded8 123.35deg 124.94deg,#fdd1c9 124.94deg 126.53deg,#fcc0b4 126.53deg 128.12deg,#fa9885 128.12deg 129.71deg,#fcc8be 129.71deg 131.29deg,#fcc6bc 131.29deg 132.88deg,#fbb8ab 132.88deg 134.47deg,#fcbfb4 134.47deg 136.06deg,#fffefd 136.06deg 137.65deg,#fdd2ca 137.65deg 139.24deg,#fcbfb3 139.24deg 140.82deg,#fbbcb0 140.82deg 142.41deg,#fbbaad 142.41deg 144.00deg,#fdd4cc 144.00deg 145.59deg,#fee3de 145.59deg 147.18deg,#fcc7bc 147.18deg 148.76deg,#fcc0b4 148.76deg 150.35deg,#fde0da 150.35deg 151.94deg,#fdded8 151.94deg 153.53deg,#fdd7d0 153.53deg 155.12deg,#fccbc1 155.12deg 156.71deg,#fee3dd 156.71deg 158.29deg,#fbae9f 158.29deg 159.88deg,#fdd1c9 159.88deg 161.47deg,#feece9 161.47deg 163.06deg,#fee2dd 163.06deg 164.65deg,#fdd9d2 164.65deg 166.24deg,#fcc0b4 166.24deg 167.82deg,#fff6f4 167.82deg 169.41deg,#fef0ed 169.41deg 171.00deg,#fccdc4 171.00deg 172.59deg,#fdd4cc 172.59deg 174.18deg,#fbab9b 174.18deg 175.76deg,#fdd6ce 175.76deg 177.35deg,#fbac9d 177.35deg 178.94deg,#fdd9d2 178.94deg 180.53deg,#fee6e2 180.53deg 182.12deg,#fcbeb2 182.12deg 183.71deg,#faa493 183.71deg 185.29deg,#fef4f2 185.29deg 186.88deg,#fcc7bd 186.88deg 188.47deg,#fcc9bf 188.47deg 190.06deg,#fee4df 190.06deg 191.65deg,#fcbdb1 191.65deg 193.24deg,#fddbd5 193.24deg 194.82deg,#fee3dd 194.82deg 196.41deg,#fddad3 196.41deg 198.00deg,#fef2f0 198.00deg 199.59deg,#feefec 199.59deg 201.18deg,#ffffff 201.18deg 202.76deg,#f0f8f6 202.76deg 204.35deg,#fffaf9 204.35deg 205.94deg,#fbb9ac 205.94deg 207.53deg,#fde1dc 207.53deg 209.12deg,#fee5e0 209.12deg 210.71deg,#fdd1c9 210.71deg 212.29deg,#fee9e5 212.29deg 213.88deg,#fee9e5 213.88deg 215.47deg,#fcc0b4 215.47deg 217.06deg,#fcc1b6 217.06deg 218.65deg,#fee4e0 218.65deg 220.24deg,#fafdfc 220.24deg 221.82deg,#fddad3 221.82deg 223.41deg,#fee7e3 223.41deg 225.00deg,#fee3de 225.00deg 226.59deg,#fddfd9 226.59deg 228.18deg,#fee9e5 228.18deg 229.76deg,#feebe7 229.76deg 231.35deg,#fff7f6 231.35deg 232.94deg,#fcc9bf 232.94deg 234.53deg,#fde0da 234.53deg 236.12deg,#fee2dd 236.12deg 237.71deg,#fba99a 237.71deg 239.29deg,#fee4df 239.29deg 240.88deg,#feebe8 240.88deg 242.47deg,#fde2dd 242.47deg 244.06deg,#feffff 244.06deg 245.65deg,#c4e5dd 245.65deg 247.24deg,#acdacf 247.24deg 248.82deg,#c2e4dc 248.82deg 250.41deg,#c9e7e0 250.41deg 252.00deg,#b2ddd3 252.00deg 253.59deg,#b6dfd5 253.59deg 255.18deg,#9dd4c6 255.18deg 256.76deg,#b5dfd5 256.76deg 258.35deg,#b0dcd1 258.35deg 259.94deg,#e4f3f0 259.94deg 261.53deg,#f1f9f7 261.53deg 263.12deg,#e4f3ef 263.12deg 264.71deg,#fafdfc 264.71deg 266.29deg,#9ad2c5 266.29deg 267.88deg,#cfeae3 267.88deg 269.47deg,#bde2d9 269.47deg 271.06deg,#bee2d9 271.06deg 272.65deg,#92cfc0 272.65deg 274.24deg,#c5e5de 274.24deg 275.82deg,#d2ebe5 275.82deg 277.41deg,#cbe8e1 277.41deg 279.00deg,#f0f8f6 279.00deg 280.59deg,#f6fbfa 280.59deg 282.18deg,#e4f3f0 282.18deg 283.76deg,#b8e0d6 283.76deg 285.35deg,#bae1d7 285.35deg 286.94deg,#d1ebe4 286.94deg 288.53deg,#d4ece6 288.53deg 290.12deg,#a3d7ca 290.12deg 291.71deg,#eef7f5 291.71deg 293.29deg,#e9f5f3 293.29deg 294.88deg,#f2f9f7 294.88deg 296.47deg,#eaf6f3 296.47deg 298.06deg,#cbe8e1 298.06deg 299.65deg,#c2e4dc 299.65deg 301.24deg,#c6e6de 301.24deg 302.82deg,#fbfdfd 302.82deg 304.41deg,#f1f9f7 304.41deg 306.00deg,#d0eae4 306.00deg 307.59deg,#e2f2ee 307.59deg 309.18deg,#cfeae3 309.18deg 310.76deg,#d3ece6 310.76deg 312.35deg,#def0ec 312.35deg 313.94deg,#dbefea 313.94deg 315.53deg,#fbfdfd 315.53deg 317.12deg,#b7dfd6 317.12deg 318.71deg,#d3ece6 318.71deg 320.29deg,#f6fbfa 320.29deg 321.88deg,#c9e7e0 321.88deg 323.47deg,#ddf0ec 323.47deg 325.06deg,#e7f4f1 325.06deg 326.65deg,#e3f3ef 326.65deg 328.24deg,#d0eae4 328.24deg 329.82deg,#cde9e2 329.82deg 331.41deg,#b3ded3 331.41deg 333.00deg,#a3d6ca 333.00deg 334.59deg,#8ecdbe 334.59deg 336.18deg,#c6e6de 336.18deg 337.76deg,#c9e7e0 337.76deg 339.35deg,#fcfefd 339.35deg 340.94deg,#f1f9f7 340.94deg 342.53deg,#fffcfc 342.53deg 344.12deg,#eaf6f3 344.12deg 345.71deg,#d1ebe5 345.71deg 347.29deg,#e5f4f0 347.29deg 348.88deg,#fefefe 348.88deg 350.47deg,#fff8f6 350.47deg 352.06deg,#fafdfc 352.06deg 353.65deg,#8accbc 353.65deg 355.24deg,#f7fcfb 355.24deg 356.82deg,#e5f4f0 356.82deg 358.41deg,#e4f3f0 358.41deg 360.00deg)"></div>
<div class="rg" style="left:337.77px;top:62.97px;width:157.46px;height:157.46px;background:conic-gradient(#fff0 0deg 90.00deg,#fddfda 90.00deg 91.59deg,#fdd7d0 91.59deg 93.18deg,#fdd1c9 93.18deg 94.76deg,#fcc1b6 94.76deg 96.35deg,#fcc0b4 96.35deg 97.94deg,#fba999 97.94deg 99.53deg,#feedea 99.53deg 101.12deg,#fde0da 101.12deg 102.71deg,#fee9e5 102.71deg 104.29deg,#feeeeb 104.29deg 105.88deg,#fcccc3 105.88deg 107.47deg,#faa594 107.47deg 109.06deg,#fffbfa 109.06deg 110.65deg,#fffcfc 110.65deg 112.24deg,#fdddd6 112.24deg 113.82deg,#fdded8 113.82deg 115.41deg,#fdd2c9 115.41deg 117.00deg,#fde1dc 117.00deg 118.59deg,#fdddd7 118.59deg 120.18deg,#fdded8 120.18deg 121.76deg,#fdd0c7 121.76deg 123.35deg,#fdd4cd 123.35deg 124.94deg,#fef3f1 124.94deg 126.53deg,#fccdc4 126.53deg 128.12deg,#fa9d8b 128.12deg 129.71deg,#fccdc3 129.71deg 131.29deg,#fcbdb0 131.29deg 132.88deg,#fbb2a4 132.88deg 134.47deg,#fbb2a4 134.47deg 136.06deg,#faa797 136.06deg 137.65deg,#faa08e 137.65deg 139.24deg,#fbb5a7 139.24deg 140.82deg,#faa393 140.82deg 142.41deg,#fbb3a5 142.41deg 144.00deg,#fcbeb2 144.00deg 145.59deg,#fee5e0 145.59deg 147.18deg,#faa291 147.18deg 148.76deg,#f98f7b 148.76deg 150.35deg,#fbafa0 150.35deg 151.94deg,#fbb1a3 151.94deg 153.53deg,#f98f7a 153.53deg 155.12deg,#f8826b 155.12deg 156.71deg,#f87e66 156.71deg 158.29deg,#fa9c8a 158.29deg 159.88deg,#f98d78 159.88deg 161.47deg,#f98772 161.47deg 163.06deg,#faa999 163.06deg 164.65deg,#f98d79 164.65deg 166.24deg,#f88069 166.24deg 167.82deg,#faa190 167.82deg 169.41deg,#fcc3b8 169.41deg 171.00deg,#fa9f8d 171.00deg 172.59deg,#fa9f8e 172.59deg 174.18deg,#f87258 174.18deg 175.76deg,#faa898 175.76deg 177.35deg,#f8816a 177.35deg 178.94deg,#faa08e 178.94deg 180.53deg,#fbad9f 180.53deg 182.12deg,#fbae9f 182.12deg 183.71deg,#fbac9d 183.71deg 185.29deg,#fdd7d0 185.29deg 186.88deg,#fcc1b6 186.88deg 188.47deg,#fbbaae 188.47deg 190.06deg,#fbbaad 190.06deg 191.65deg,#fbac9d 191.65deg 193.24deg,#fdd5cd 193.24deg 194.82deg,#fbb8ab 194.82deg 196.41deg,#fcccc2 196.41deg 198.00deg,#fdd0c8 198.00deg 199.59deg,#fde2dd 199.59deg 201.18deg,#fbb4a6 201.18deg 202.76deg,#fcc4b9 202.76deg 204.35deg,#fba99a 204.35deg 205.94deg,#faa898 205.94deg 207.53deg,#faa696 207.53deg 209.12deg,#fbaa9b 209.12deg 210.71deg,#faa999 210.71deg 212.29deg,#f98b76 212.29deg 213.88deg,#f98e7a 213.88deg 215.47deg,#faa898 215.47deg 217.06deg,#f9917d 217.06deg 218.65deg,#f9846e 218.65deg 220.24deg,#fcc3b8 220.24deg 221.82deg,#fdd2ca 221.82deg 223.41deg,#fbac9d 223.41deg 225.00deg,#faa898 225.00deg 226.59deg,#faa190 226.59deg 228.18deg,#faa695 228.18deg 229.76deg,#fcc5ba 229.76deg 231.35deg,#fcc7bd 231.35deg 232.94deg,#fcc1b6 232.94deg 234.53deg,#faa898 234.53deg 236.12deg,#fccec5 236.12deg 237.71deg,#fa9d8b 237.71deg 239.29deg,#fcc7bd 239.29deg 240.88deg,#fef4f2 240.88deg 242.47deg,#fef2ef 242.47deg 244.06deg,#fcfefd 244.06deg 245.65deg,#e1f2ee 245.65deg 247.24deg,#d4ece6 247.24deg 248.82deg,#fafdfc 248.82deg 250.41deg,#e8f5f2 250.41deg 252.00deg,#d0eae4 252.00deg 253.59deg,#f2f9f7 253.59deg 255.18deg,#fffefe 255.18deg 256.76deg,#eff8f6 256.76deg 258.35deg,#fbfdfc 258.35deg 259.94deg,#e1f2ee 259.94deg 261.53deg,#f1f9f7 261.53deg 263.12deg,#fee5e1 263.12deg 264.71deg,#fefefe 264.71deg 266.29deg,#e1f2ee 266.29deg 267.88deg,#e3f3ef 267.88deg 269.47deg,#d8eee9 269.47deg 271.06deg,#cae8e1 271.06deg 272.65deg,#d1ebe4 272.65deg 274.24deg,#d2ebe5 274.24deg 275.82deg,#daefea 275.82deg 277.41deg,#d7ede8 277.41deg 279.00deg,#bae1d7 279.00deg 280.59deg,#d0eae4 280.59deg 282.18deg,#ffffff 282.18deg 283.76deg,#d2ebe5 283.76deg 285.35deg,#e7f5f1 285.35deg 286.94deg,#fffbfb 286.94deg 288.53deg,#e4f3f0 288.53deg 290.12deg,#c2e4dc 290.12deg 291.71deg,#c9e7e0 291.71deg 293.29deg,#afdcd1 293.29deg 294.88deg,#e2f2ee 294.88deg 296.47deg,#86cab9 296.47deg 298.06deg,#c4e5dd 298.06deg 299.65deg,#a1d6c9 299.65deg 301.24deg,#e9f5f2 301.24deg 302.82deg,#b1ddd2 302.82deg 304.41deg,#aedbd1 304.41deg 306.00deg,#dcf0eb 306.00deg 307.59deg,#e6f4f1 307.59deg 309.18deg,#f8fcfb 309.18deg 310.76deg,#e6f4f1 310.76deg 312.35deg,#cde9e2 312.35deg 313.94deg,#c3e5dd 313.94deg 315.53deg,#dff1ec 315.53deg 317.12deg,#ebf6f3 317.12deg 318.71deg,#edf7f5 318.71deg 320.29deg,#c9e7e0 320.29deg 321.88deg,#9dd4c7 321.88deg 323.47deg,#daefea 323.47deg 325.06deg,#c0e3db 325.06deg 326.65deg,#9bd3c5 326.65deg 328.24deg,#abdacf 328.24deg 329.82deg,#a1d5c9 329.82deg 331.41deg,#dff1ec 331.41deg 333.00deg,#c1e4db 333.00deg 334.59deg,#8ecdbe 334.59deg 336.18deg,#8accbc 336.18deg 337.76deg,#c1e4db 337.76deg 339.35deg,#e7f4f1 339.35deg 340.94deg,#ceeae3 340.94deg 342.53deg,#fffefe 342.53deg 344.12deg,#e1f2ee 344.12deg 345.71deg,#e8f5f2 345.71deg 347.29deg,#fef5f3 347.29deg 348.88deg,#e5f4f0 348.88deg 350.47deg,#fafdfc 350.47deg 352.06deg,#e1f2ee 352.06deg 353.65deg,#dbefea 353.65deg 355.24deg,#fcfefe 355.24deg 356.82deg,#ddf0ec 356.82deg 358.41deg,#e4f3f0 358.41deg 360.00deg)"></div>
<div class="rg" style="left:341.49px;top:66.69px;width:150.02px;height:150.02px;background:conic-gradient(#fff0 0deg 90.00deg,#fee8e3 90.00deg 91.59deg,#fdd0c7 91.59deg 93.18deg,#fa9886 93.18deg 94.76deg,#fcc8be 94.76deg 96.35deg,#fcbfb4 96.35deg 97.94deg,#fbad9e 97.94deg 99.53deg,#fdd0c7 99.53deg 101.12deg,#feece9 101.12deg 102.71deg,#fa9885 102.71deg 104.29deg,#fdd3cb 104.29deg 105.88deg,#fcc2b7 105.88deg 107.47deg,#fdd9d2 107.47deg 109.06deg,#fff6f4 109.06deg 110.65deg,#fee7e3 110.65deg 112.24deg,#fcc0b5 112.24deg 113.82deg,#fde1db 113.82deg 115.41deg,#fddcd5 115.41deg 117.00deg,#fcc9c0 117.00deg 118.59deg,#fddcd5 118.59deg 120.18deg,#fbac9d 120.18deg 121.76deg,#fcc3b9 121.76deg 123.35deg,#fcc8be 123.35deg 124.94deg,#f76b50 124.94deg 126.53deg,#f99682 126.53deg 128.12deg,#f99581 128.12deg 129.71deg,#fbb2a4 129.71deg 131.29deg,#fbb4a6 131.29deg 132.88deg,#fcc8be 132.88deg 134.47deg,#fbab9c 134.47deg 136.06deg,#fcc9bf 136.06deg 137.65deg,#fcc0b5 137.65deg 139.24deg,#fdd2c9 139.24deg 140.82deg,#fee8e4 140.82deg 142.41deg,#fbac9d 142.41deg 144.00deg,#fbb6a8 144.00deg 145.59deg,#fee3de 145.59deg 147.18deg,#fa9986 147.18deg 148.76deg,#fa9784 148.76deg 150.35deg,#fddad3 150.35deg 151.94deg,#fdd9d2 151.94deg 153.53deg,#fdd3cb 153.53deg 155.12deg,#fef4f1 155.12deg 156.71deg,#fbad9e 156.71deg 158.29deg,#fbad9e 158.29deg 159.88deg,#fdd6ce 159.88deg 161.47deg,#fdd6cf 161.47deg 163.06deg,#fffdfd 163.06deg 164.65deg,#fcbcb0 164.65deg 166.24deg,#f9917d 166.24deg 167.82deg,#fdd2ca 167.82deg 169.41deg,#fccdc4 169.41deg 171.00deg,#fdd0c8 171.00deg 172.59deg,#fdd5cd 172.59deg 174.18deg,#fbb1a2 174.18deg 175.76deg,#fcc7bc 175.76deg 177.35deg,#fbb2a4 177.35deg 178.94deg,#fcc5bb 178.94deg 180.53deg,#fef2ef 180.53deg 182.12deg,#fccac0 182.12deg 183.71deg,#fbb2a4 183.71deg 185.29deg,#fbb1a3 185.29deg 186.88deg,#f98f7b 186.88deg 188.47deg,#fee8e3 188.47deg 190.06deg,#feece9 190.06deg 191.65deg,#fbb3a5 191.65deg 193.24deg,#fff8f6 193.24deg 194.82deg,#fee7e2 194.82deg 196.41deg,#fddcd5 196.41deg 198.00deg,#fdd7d0 198.00deg 199.59deg,#feedea 199.59deg 201.18deg,#fee8e4 201.18deg 202.76deg,#fccec5 202.76deg 204.35deg,#fccfc6 204.35deg 205.94deg,#fbaa9b 205.94deg 207.53deg,#fcbeb2 207.53deg 209.12deg,#fddbd4 209.12deg 210.71deg,#fff9f8 210.71deg 212.29deg,#fdd6cf 212.29deg 213.88deg,#fdd3ca 213.88deg 215.47deg,#fccec5 215.47deg 217.06deg,#fcc3b8 217.06deg 218.65deg,#fdd7d0 218.65deg 220.24deg,#fbac9d 220.24deg 221.82deg,#fcc0b4 221.82deg 223.41deg,#fbbcaf 223.41deg 225.00deg,#fdd1c9 225.00deg 226.59deg,#faa796 226.59deg 228.18deg,#feeeeb 228.18deg 229.76deg,#fcbfb3 229.76deg 231.35deg,#fdddd7 231.35deg 232.94deg,#fbb6a9 232.94deg 234.53deg,#faa392 234.53deg 236.12deg,#fcbdb1 236.12deg 237.71deg,#fbb3a5 237.71deg 239.29deg,#fcc7bc 239.29deg 240.88deg,#fefefe 240.88deg 242.47deg,#fdded8 242.47deg 244.06deg,#f7fbfa 244.06deg 245.65deg,#e6f4f1 245.65deg 247.24deg,#cfeae3 247.24deg 248.82deg,#bde2d9 248.82deg 250.41deg,#e7f5f1 250.41deg 252.00deg,#bee2da 252.00deg 253.59deg,#a8d9cd 253.59deg 255.18deg,#cee9e3 255.18deg 256.76deg,#fef4f2 256.76deg 258.35deg,#c4e5dd 258.35deg 259.94deg,#e2f2ee 259.94deg 261.53deg,#edf7f4 261.53deg 263.12deg,#f4faf9 263.12deg 264.71deg,#ddf0ec 264.71deg 266.29deg,#fbfdfd 266.29deg 267.88deg,#f9fdfc 267.88deg 269.47deg,#fafdfc 269.47deg 271.06deg,#fef5f3 271.06deg 272.65deg,#d6ede8 272.65deg 274.24deg,#b5dfd5 274.24deg 275.82deg,#f2f9f7 275.82deg 277.41deg,#ecf7f4 277.41deg 279.00deg,#d4ece6 279.00deg 280.59deg,#ecf6f4 280.59deg 282.18deg,#aadace 282.18deg 283.76deg,#cde9e2 283.76deg 285.35deg,#d6ede7 285.35deg 286.94deg,#dbefea 286.94deg 288.53deg,#f1f9f7 288.53deg 290.12deg,#f4faf9 290.12deg 291.71deg,#cce9e2 291.71deg 293.29deg,#d9eee9 293.29deg 294.88deg,#e5f4f0 294.88deg 296.47deg,#f8fcfb 296.47deg 298.06deg,#def0ec 298.06deg 299.65deg,#fefefe 299.65deg 301.24deg,#edf7f5 301.24deg 302.82deg,#fff9f8 302.82deg 304.41deg,#dbefea 304.41deg 306.00deg,#bee3da 306.00deg 307.59deg,#f6fbfa 307.59deg 309.18deg,#dff1ec 309.18deg 310.76deg,#b0dcd2 310.76deg 312.35deg,#b6dfd5 312.35deg 313.94deg,#d7ede8 313.94deg 315.53deg,#e0f1ed 315.53deg 317.12deg,#bfe3da 317.12deg 318.71deg,#d5ede7 318.71deg 320.29deg,#bee3da 320.29deg 321.88deg,#abdacf 321.88deg 323.47deg,#f0f8f6 323.47deg 325.06deg,#cde9e2 325.06deg 326.65deg,#eaf6f3 326.65deg 328.24deg,#aedbd0 328.24deg 329.82deg,#a3d7ca 329.82deg 331.41deg,#b7dfd6 331.41deg 333.00deg,#cde9e2 333.00deg 334.59deg,#ddf0ec 334.59deg 336.18deg,#e3f3ef 336.18deg 337.76deg,#eef7f5 337.76deg 339.35deg,#c7e6df 339.35deg 340.94deg,#cce8e1 340.94deg 342.53deg,#eaf6f3 342.53deg 344.12deg,#a8d9cd 344.12deg 345.71deg,#cce9e2 345.71deg 347.29deg,#fffefd 347.29deg 348.88deg,#ebf6f3 348.88deg 350.47deg,#e9f5f2 350.47deg 352.06deg,#ffffff 352.06deg 353.65deg,#dbefeb 353.65deg 355.24deg,#fffbfa 355.24deg 356.82deg,#f2f9f8 356.82deg 358.41deg,#d3ece6 358.41deg 360.00deg)"></div>
<div class="rg" style="left:345.22px;top:70.42px;width:142.57px;height:142.57px;background:conic-gradient(#fff0 0deg 90.00deg,#fde1dc 90.00deg 91.59deg,#fff8f7 91.59deg 93.18deg,#fcc2b7 93.18deg 94.76deg,#fee8e4 94.76deg 96.35deg,#fccbc2 96.35deg 97.94deg,#fef0ee 97.94deg 99.53deg,#fef1ef 99.53deg 101.12deg,#fee9e5 101.12deg 102.71deg,#fff9f8 102.71deg 104.29deg,#fef5f3 104.29deg 105.88deg,#feece9 105.88deg 107.47deg,#fff8f7 107.47deg 109.06deg,#fef0ee 109.06deg 110.65deg,#fee5e1 110.65deg 112.24deg,#fdd2c9 112.24deg 113.82deg,#fef4f2 113.82deg 115.41deg,#fef1ee 115.41deg 117.00deg,#fddfd9 117.00deg 118.59deg,#faa797 118.59deg 120.18deg,#fdd8d1 120.18deg 121.76deg,#fccdc4 121.76deg 123.35deg,#fdd5cd 123.35deg 124.94deg,#fcc9bf 124.94deg 126.53deg,#fff7f5 126.53deg 128.12deg,#fcbeb2 128.12deg 129.71deg,#fde2dc 129.71deg 131.29deg,#fddfd9 131.29deg 132.88deg,#fdd4cc 132.88deg 134.47deg,#fff7f5 134.47deg 136.06deg,#ffffff 136.06deg 137.65deg,#fee9e5 137.65deg 139.24deg,#fde0db 139.24deg 140.82deg,#fee3de 140.82deg 142.41deg,#fcc8be 142.41deg 144.00deg,#fddad3 144.00deg 145.59deg,#fccac1 145.59deg 147.18deg,#fbb8ab 147.18deg 148.76deg,#faa797 148.76deg 150.35deg,#fee3dd 150.35deg 151.94deg,#fbad9e 151.94deg 153.53deg,#fcbeb3 153.53deg 155.12deg,#fbafa0 155.12deg 156.71deg,#f87359 156.71deg 158.29deg,#fcc4b9 158.29deg 159.88deg,#faa898 159.88deg 161.47deg,#fcc8be 161.47deg 163.06deg,#fcfefe 163.06deg 164.65deg,#fbb0a1 164.65deg 166.24deg,#fbad9e 166.24deg 167.82deg,#faa898 167.82deg 169.41deg,#fcbfb3 169.41deg 171.00deg,#fbab9c 171.00deg 172.59deg,#fba99a 172.59deg 174.18deg,#fdd6cf 174.18deg 175.76deg,#fdd2ca 175.76deg 177.35deg,#fdd1c8 177.35deg 178.94deg,#fccdc4 178.94deg 180.53deg,#fdd5cd 180.53deg 182.12deg,#fcbdb0 182.12deg 183.71deg,#faa695 183.71deg 185.29deg,#fbaa9b 185.29deg 186.88deg,#faa18f 186.88deg 188.47deg,#fcc9bf 188.47deg 190.06deg,#fbaea0 190.06deg 191.65deg,#fbab9b 191.65deg 193.24deg,#faa291 193.24deg 194.82deg,#faa18f 194.82deg 196.41deg,#faa190 196.41deg 198.00deg,#fcc3b8 198.00deg 199.59deg,#fbb9ad 199.59deg 201.18deg,#fccac0 201.18deg 202.76deg,#fccec5 202.76deg 204.35deg,#feefec 204.35deg 205.94deg,#f98c76 205.94deg 207.53deg,#faa291 207.53deg 209.12deg,#f87960 209.12deg 210.71deg,#fcc9bf 210.71deg 212.29deg,#faa594 212.29deg 213.88deg,#faa696 213.88deg 215.47deg,#fbb4a6 215.47deg 217.06deg,#faa695 217.06deg 218.65deg,#f98a75 218.65deg 220.24deg,#faa595 220.24deg 221.82deg,#f99682 221.82deg 223.41deg,#faa898 223.41deg 225.00deg,#fcc4b9 225.00deg 226.59deg,#fbb2a4 226.59deg 228.18deg,#fee5e0 228.18deg 229.76deg,#feedea 229.76deg 231.35deg,#fdd3cb 231.35deg 232.94deg,#fcbdb1 232.94deg 234.53deg,#fcc9c0 234.53deg 236.12deg,#fddfd9 236.12deg 237.71deg,#fbb3a6 237.71deg 239.29deg,#faa797 239.29deg 240.88deg,#fddfd9 240.88deg 242.47deg,#fddad3 242.47deg 244.06deg,#ffffff 244.06deg 245.65deg,#fafdfc 245.65deg 247.24deg,#d8eee8 247.24deg 248.82deg,#def1ec 248.82deg 250.41deg,#edf7f5 250.41deg 252.00deg,#e6f4f1 252.00deg 253.59deg,#c5e5dd 253.59deg 255.18deg,#eff8f6 255.18deg 256.76deg,#e1f2ee 256.76deg 258.35deg,#eaf6f3 258.35deg 259.94deg,#fefefe 259.94deg 261.53deg,#fef2f0 261.53deg 263.12deg,#f1f9f7 263.12deg 264.71deg,#d8eee9 264.71deg 266.29deg,#e3f3ef 266.29deg 267.88deg,#addbd0 267.88deg 269.47deg,#9ed4c7 269.47deg 271.06deg,#fdfefe 271.06deg 272.65deg,#e5f3f0 272.65deg 274.24deg,#fffdfd 274.24deg 275.82deg,#e4f3f0 275.82deg 277.41deg,#bde2d9 277.41deg 279.00deg,#cfeae4 279.00deg 280.59deg,#b3ddd3 280.59deg 282.18deg,#cfeae3 282.18deg 283.76deg,#d8eee8 283.76deg 285.35deg,#fefffe 285.35deg 286.94deg,#fff8f6 286.94deg 288.53deg,#d1ebe5 288.53deg 290.12deg,#d9eee9 290.12deg 291.71deg,#c4e5dd 291.71deg 293.29deg,#d0ebe4 293.29deg 294.88deg,#d4ece6 294.88deg 296.47deg,#ceeae3 296.47deg 298.06deg,#daefea 298.06deg 299.65deg,#c4e5dd 299.65deg 301.24deg,#d5ede7 301.24deg 302.82deg,#e1f2ee 302.82deg 304.41deg,#e7f5f1 304.41deg 306.00deg,#d6ede7 306.00deg 307.59deg,#e5f4f0 307.59deg 309.18deg,#c0e3db 309.18deg 310.76deg,#bde2d9 310.76deg 312.35deg,#eff8f6 312.35deg 313.94deg,#b0dcd2 313.94deg 315.53deg,#8dcdbe 315.53deg 317.12deg,#edf7f5 317.12deg 318.71deg,#f4faf9 318.71deg 320.29deg,#edf7f5 320.29deg 321.88deg,#dbefea 321.88deg 323.47deg,#eef7f5 323.47deg 325.06deg,#f4faf9 325.06deg 326.65deg,#edf7f5 326.65deg 328.24deg,#bde2d9 328.24deg 329.82deg,#a4d7ca 329.82deg 331.41deg,#9cd3c6 331.41deg 333.00deg,#bbe1d8 333.00deg 334.59deg,#b4ded4 334.59deg 336.18deg,#daefea 336.18deg 337.76deg,#cfeae3 337.76deg 339.35deg,#e9f5f3 339.35deg 340.94deg,#edf7f5 340.94deg 342.53deg,#d3ece6 342.53deg 344.12deg,#c3e5dc 344.12deg 345.71deg,#f5fbf9 345.71deg 347.29deg,#b7dfd6 347.29deg 348.88deg,#f5fbf9 348.88deg 350.47deg,#fffdfd 350.47deg 352.06deg,#e7f5f1 352.06deg 353.65deg,#fbfdfd 353.65deg 355.24deg,#fff7f5 355.24deg 356.82deg,#d4ece6 356.82deg 358.41deg,#d3ece6 358.41deg 360.00deg)"></div>
<div class="rg" style="left:348.94px;top:74.14px;width:135.12px;height:135.12px;background:conic-gradient(#fff0 0deg 90.00deg,#fff6f4 90.00deg 91.59deg,#eaf6f3 91.59deg 93.18deg,#d5ede7 93.18deg 94.76deg,#fff6f5 94.76deg 96.35deg,#eff8f6 96.35deg 97.94deg,#fefffe 97.94deg 99.53deg,#fff7f5 99.53deg 101.12deg,#ffffff 101.12deg 102.71deg,#fffefd 102.71deg 104.29deg,#ffffff 104.29deg 105.88deg,#f7fcfb 105.88deg 107.47deg,#eff8f6 107.47deg 109.06deg,#f3faf8 109.06deg 110.65deg,#fef4f2 110.65deg 112.24deg,#fffefe 112.24deg 113.82deg,#ffffff 113.82deg 115.41deg,#def0ec 115.41deg 117.00deg,#d8eee8 117.00deg 118.59deg,#e5f4f0 118.59deg 120.18deg,#ffffff 120.18deg 121.76deg,#fcfefd 121.76deg 123.35deg,#e7f4f1 123.35deg 124.94deg,#d4ece6 124.94deg 126.53deg,#e7f4f1 126.53deg 128.12deg,#ddf0eb 128.12deg 129.71deg,#f3faf8 129.71deg 131.29deg,#abdacf 131.29deg 132.88deg,#dbefea 132.88deg 134.47deg,#e9f5f2 134.47deg 136.06deg,#fef4f2 136.06deg 137.65deg,#feeae6 137.65deg 139.24deg,#e5f4f0 139.24deg 140.82deg,#fcfefd 140.82deg 142.41deg,#fffcfc 142.41deg 144.00deg,#feefec 144.00deg 145.59deg,#fffdfc 145.59deg 147.18deg,#fbfdfc 147.18deg 148.76deg,#ffffff 148.76deg 150.35deg,#fbfdfd 150.35deg 151.94deg,#feece8 151.94deg 153.53deg,#fefffe 153.53deg 155.12deg,#fcfefd 155.12deg 156.71deg,#ddf0eb 156.71deg 158.29deg,#ddf0ec 158.29deg 159.88deg,#fff8f7 159.88deg 161.47deg,#f9fcfc 161.47deg 163.06deg,#feefec 163.06deg 164.65deg,#fff9f8 164.65deg 166.24deg,#f7fbfa 166.24deg 167.82deg,#feece9 167.82deg 169.41deg,#fccdc4 169.41deg 171.00deg,#fdded8 171.00deg 172.59deg,#feefec 172.59deg 174.18deg,#fffbfb 174.18deg 175.76deg,#fffffe 175.76deg 177.35deg,#fdddd7 177.35deg 178.94deg,#fef1ef 178.94deg 180.53deg,#feebe8 180.53deg 182.12deg,#fcfefd 182.12deg 183.71deg,#f1f9f7 183.71deg 185.29deg,#fdfefe 185.29deg 186.88deg,#f2f9f8 186.88deg 188.47deg,#fee5e1 188.47deg 190.06deg,#f8fcfb 190.06deg 191.65deg,#e1f2ee 191.65deg 193.24deg,#fffaf9 193.24deg 194.82deg,#feeae6 194.82deg 196.41deg,#feede9 196.41deg 198.00deg,#fff7f5 198.00deg 199.59deg,#fdd5ce 199.59deg 201.18deg,#fffcfb 201.18deg 202.76deg,#fee4de 202.76deg 204.35deg,#feedea 204.35deg 205.94deg,#fbfdfd 205.94deg 207.53deg,#f5fbf9 207.53deg 209.12deg,#fffcfc 209.12deg 210.71deg,#fee9e5 210.71deg 212.29deg,#fffaf9 212.29deg 213.88deg,#fef3f1 213.88deg 215.47deg,#fdd8d1 215.47deg 217.06deg,#fee6e1 217.06deg 218.65deg,#fcccc3 218.65deg 220.24deg,#fef0ed 220.24deg 221.82deg,#fee3dd 221.82deg 223.41deg,#f5fbf9 223.41deg 225.00deg,#e6f4f1 225.00deg 226.59deg,#fef3f1 226.59deg 228.18deg,#fee7e2 228.18deg 229.76deg,#fef3f1 229.76deg 231.35deg,#feeae6 231.35deg 232.94deg,#f5fbf9 232.94deg 234.53deg,#feeeeb 234.53deg 236.12deg,#fffefd 236.12deg 237.71deg,#eaf6f3 237.71deg 239.29deg,#fffefe 239.29deg 240.88deg,#ffffff 240.88deg 242.47deg,#fffefe 242.47deg 244.06deg,#ffffff 244.06deg 245.65deg,#e8f5f2 245.65deg 247.24deg,#fdd8d1 247.24deg 248.82deg,#fee5e0 248.82deg 250.41deg,#fef4f1 250.41deg 252.00deg,#fffafa 252.00deg 253.59deg,#fdd8d1 253.59deg 255.18deg,#fef5f3 255.18deg 256.76deg,#fee4df 256.76deg 258.35deg,#fddcd6 258.35deg 259.94deg,#fdddd7 259.94deg 261.53deg,#fff6f4 261.53deg 263.12deg,#fee5e0 263.12deg 264.71deg,#feefec 264.71deg 266.29deg,#fdd0c7 266.29deg 267.88deg,#fff7f6 267.88deg 269.47deg,#feedea 269.47deg 271.06deg,#fddcd6 271.06deg 272.65deg,#fffcfc 272.65deg 274.24deg,#fddad3 274.24deg 275.82deg,#e5f4f0 275.82deg 277.41deg,#fdfefe 277.41deg 279.00deg,#fdfefe 279.00deg 280.59deg,#fff6f4 280.59deg 282.18deg,#fbfdfd 282.18deg 283.76deg,#fddbd4 283.76deg 285.35deg,#fef4f2 285.35deg 286.94deg,#f8fcfb 286.94deg 288.53deg,#fee5e0 288.53deg 290.12deg,#fef4f1 290.12deg 291.71deg,#fcfefd 291.71deg 293.29deg,#fffbfa 293.29deg 294.88deg,#fee5e0 294.88deg 296.47deg,#fcc8be 296.47deg 298.06deg,#fdded8 298.06deg 299.65deg,#fcc0b5 299.65deg 301.24deg,#fee4e0 301.24deg 302.82deg,#fcc7bd 302.82deg 304.41deg,#ffffff 304.41deg 306.00deg,#fffbfb 306.00deg 307.59deg,#feebe8 307.59deg 309.18deg,#fffcfc 309.18deg 310.76deg,#fef5f3 310.76deg 312.35deg,#fffffe 312.35deg 313.94deg,#fdd8d1 313.94deg 315.53deg,#fffefe 315.53deg 317.12deg,#fee7e2 317.12deg 318.71deg,#e8f5f2 318.71deg 320.29deg,#f6fbfa 320.29deg 321.88deg,#fff9f8 321.88deg 323.47deg,#fffaf9 323.47deg 325.06deg,#fcfefd 325.06deg 326.65deg,#eef8f5 326.65deg 328.24deg,#fffaf9 328.24deg 329.82deg,#fffbfa 329.82deg 331.41deg,#fbfdfd 331.41deg 333.00deg,#f5fbf9 333.00deg 334.59deg,#fffdfd 334.59deg 336.18deg,#f9fcfc 336.18deg 337.76deg,#ffffff 337.76deg 339.35deg,#fbfdfd 339.35deg 340.94deg,#fffcfc 340.94deg 342.53deg,#ffffff 342.53deg 344.12deg,#ecf7f4 344.12deg 345.71deg,#dbefea 345.71deg 347.29deg,#b7dfd6 347.29deg 348.88deg,#eaf6f3 348.88deg 350.47deg,#e9f5f3 350.47deg 352.06deg,#fffefe 352.06deg 353.65deg,#fef5f3 353.65deg 355.24deg,#eff8f6 355.24deg 356.82deg,#eef8f5 356.82deg 358.41deg,#eaf6f3 358.41deg 360.00deg)"></div>
<div class="rg" style="left:352.66px;top:77.86px;width:127.68px;height:127.68px;background:conic-gradient(#fff0 0deg 90.00deg,#fef1ee 90.00deg 91.59deg,#f0f8f6 91.59deg 93.18deg,#b8e0d6 93.18deg 94.76deg,#f5fbf9 94.76deg 96.35deg,#fffcfb 96.35deg 97.94deg,#e3f3ef 97.94deg 99.53deg,#fefefe 99.53deg 101.12deg,#f5fbf9 101.12deg 102.71deg,#f2f9f8 102.71deg 104.29deg,#d8eee9 104.29deg 105.88deg,#daefea 105.88deg 107.47deg,#bee2d9 107.47deg 109.06deg,#f5fbfa 109.06deg 110.65deg,#e6f4f1 110.65deg 112.24deg,#fdfefe 112.24deg 113.82deg,#9fd5c8 113.82deg 115.41deg,#ffffff 115.41deg 117.00deg,#d3ece6 117.00deg 118.59deg,#b6dfd5 118.59deg 120.18deg,#c7e6df 120.18deg 121.76deg,#f3faf8 121.76deg 123.35deg,#def1ec 123.35deg 124.94deg,#afdcd1 124.94deg 126.53deg,#ddf0ec 126.53deg 128.12deg,#f3faf8 128.12deg 129.71deg,#f2f9f8 129.71deg 131.29deg,#ebf6f4 131.29deg 132.88deg,#e3f3ef 132.88deg 134.47deg,#fffaf9 134.47deg 136.06deg,#feeeea 136.06deg 137.65deg,#fefffe 137.65deg 139.24deg,#fef5f4 139.24deg 140.82deg,#fef1ee 140.82deg 142.41deg,#ffffff 142.41deg 144.00deg,#d6ede8 144.00deg 145.59deg,#eff8f6 145.59deg 147.18deg,#dff1ed 147.18deg 148.76deg,#dff1ed 148.76deg 150.35deg,#fff6f5 150.35deg 151.94deg,#fff6f4 151.94deg 153.53deg,#eef7f5 153.53deg 155.12deg,#d1ebe4 155.12deg 156.71deg,#c3e5dd 156.71deg 158.29deg,#d6ede8 158.29deg 159.88deg,#feffff 159.88deg 161.47deg,#fef0ee 161.47deg 163.06deg,#fffdfd 163.06deg 164.65deg,#fafdfc 164.65deg 166.24deg,#e6f4f0 166.24deg 167.82deg,#fef1ef 167.82deg 169.41deg,#fcbdb1 169.41deg 171.00deg,#fff9f7 171.00deg 172.59deg,#feeeeb 172.59deg 174.18deg,#fcfefd 174.18deg 175.76deg,#fffefd 175.76deg 177.35deg,#f6fbfa 177.35deg 178.94deg,#feefed 178.94deg 180.53deg,#fffcfc 180.53deg 182.12deg,#e8f5f2 182.12deg 183.71deg,#9fd5c8 183.71deg 185.29deg,#f6fbfa 185.29deg 186.88deg,#fdfefe 186.88deg 188.47deg,#c7e6df 188.47deg 190.06deg,#f2f9f8 190.06deg 191.65deg,#d6ede7 191.65deg 193.24deg,#eef8f5 193.24deg 194.82deg,#f2f9f8 194.82deg 196.41deg,#fdd6cf 196.41deg 198.00deg,#ffffff 198.00deg 199.59deg,#fffdfd 199.59deg 201.18deg,#fffefe 201.18deg 202.76deg,#fffefe 202.76deg 204.35deg,#fbfdfd 204.35deg 205.94deg,#e6f4f1 205.94deg 207.53deg,#fffcfb 207.53deg 209.12deg,#cde9e2 209.12deg 210.71deg,#fff5f4 210.71deg 212.29deg,#f4faf9 212.29deg 213.88deg,#eaf6f3 213.88deg 215.47deg,#fcfefd 215.47deg 217.06deg,#e8f5f2 217.06deg 218.65deg,#eff8f6 218.65deg 220.24deg,#fff7f5 220.24deg 221.82deg,#fbfdfd 221.82deg 223.41deg,#ffffff 223.41deg 225.00deg,#ffffff 225.00deg 226.59deg,#fef2f0 226.59deg 228.18deg,#fee8e4 228.18deg 229.76deg,#fff9f8 229.76deg 231.35deg,#fddcd5 231.35deg 232.94deg,#d0eae4 232.94deg 234.53deg,#eef8f5 234.53deg 236.12deg,#fdfefe 236.12deg 237.71deg,#c3e5dd 237.71deg 239.29deg,#daefea 239.29deg 240.88deg,#fff7f6 240.88deg 242.47deg,#feedea 242.47deg 244.06deg,#fddfd9 244.06deg 245.65deg,#fcc3b8 245.65deg 247.24deg,#fde1dc 247.24deg 248.82deg,#fef1ee 248.82deg 250.41deg,#ffffff 250.41deg 252.00deg,#fdfefe 252.00deg 253.59deg,#fde1dc 253.59deg 255.18deg,#fccfc6 255.18deg 256.76deg,#feedea 256.76deg 258.35deg,#fdd3cb 258.35deg 259.94deg,#fef0ed 259.94deg 261.53deg,#f8fcfb 261.53deg 263.12deg,#fdfefe 263.12deg 264.71deg,#feece9 264.71deg 266.29deg,#fee8e3 266.29deg 267.88deg,#fef4f2 267.88deg 269.47deg,#fdd0c7 269.47deg 271.06deg,#fffaf9 271.06deg 272.65deg,#fffefe 272.65deg 274.24deg,#fee8e3 274.24deg 275.82deg,#ffffff 275.82deg 277.41deg,#fde0da 277.41deg 279.00deg,#fddfda 279.00deg 280.59deg,#fccac0 280.59deg 282.18deg,#fde2dc 282.18deg 283.76deg,#feedea 283.76deg 285.35deg,#fee6e1 285.35deg 286.94deg,#fde2dd 286.94deg 288.53deg,#fddad4 288.53deg 290.12deg,#fdd5cd 290.12deg 291.71deg,#fee8e4 291.71deg 293.29deg,#fdd2ca 293.29deg 294.88deg,#fdd1c9 294.88deg 296.47deg,#fcc1b5 296.47deg 298.06deg,#fddbd5 298.06deg 299.65deg,#fcc2b7 299.65deg 301.24deg,#fcc8be 301.24deg 302.82deg,#fcc7bd 302.82deg 304.41deg,#fee9e6 304.41deg 306.00deg,#fee5e0 306.00deg 307.59deg,#fff9f8 307.59deg 309.18deg,#fde2dd 309.18deg 310.76deg,#fddfd9 310.76deg 312.35deg,#fbb7aa 312.35deg 313.94deg,#fddad3 313.94deg 315.53deg,#e6f4f1 315.53deg 317.12deg,#feece9 317.12deg 318.71deg,#fef4f2 318.71deg 320.29deg,#fff6f5 320.29deg 321.88deg,#fee9e6 321.88deg 323.47deg,#fee2dd 323.47deg 325.06deg,#fff7f5 325.06deg 326.65deg,#fafdfc 326.65deg 328.24deg,#fef1ee 328.24deg 329.82deg,#fddfd9 329.82deg 331.41deg,#fffdfd 331.41deg 333.00deg,#fffdfd 333.00deg 334.59deg,#fef4f3 334.59deg 336.18deg,#fee9e5 336.18deg 337.76deg,#f2f9f7 337.76deg 339.35deg,#e4f3ef 339.35deg 340.94deg,#fffaf9 340.94deg 342.53deg,#ecf7f4 342.53deg 344.12deg,#fffbfb 344.12deg 345.71deg,#fef1ee 345.71deg 347.29deg,#fff8f7 347.29deg 348.88deg,#fef4f2 348.88deg 350.47deg,#f1f9f7 350.47deg 352.06deg,#ffffff 352.06deg 353.65deg,#fcc0b4 353.65deg 355.24deg,#fccec5 355.24deg 356.82deg,#fde2dd 356.82deg 358.41deg,#fdd5cd 358.41deg 360.00deg)"></div>
<div class="rg" style="left:356.38px;top:81.58px;width:120.23px;height:120.23px;background:conic-gradient(#fff0 0deg 90.00deg,#d3ece6 90.00deg 91.59deg,#9fd5c8 91.59deg 93.18deg,#b9e0d7 93.18deg 94.76deg,#abdacf 94.76deg 96.35deg,#a1d5c9 96.35deg 97.94deg,#cce8e2 97.94deg 99.53deg,#e9f5f2 99.53deg 101.12deg,#e9f5f2 101.12deg 102.71deg,#d6ede8 102.71deg 104.29deg,#eff8f6 104.29deg 105.88deg,#e0f2ed 105.88deg 107.47deg,#d2ebe5 107.47deg 109.06deg,#e1f2ee 109.06deg 110.65deg,#fffffe 110.65deg 112.24deg,#fffcfb 112.24deg 113.82deg,#feece8 113.82deg 115.41deg,#fffdfc 115.41deg 117.00deg,#d2ebe5 117.00deg 118.59deg,#cbe8e1 118.59deg 120.18deg,#cfeae4 120.18deg 121.76deg,#9cd3c6 121.76deg 123.35deg,#8bccbd 123.35deg 124.94deg,#e2f2ee 124.94deg 126.53deg,#def1ec 126.53deg 128.12deg,#daefea 128.12deg 129.71deg,#f8fcfb 129.71deg 131.29deg,#e9f6f3 131.29deg 132.88deg,#bee2da 132.88deg 134.47deg,#d8eee8 134.47deg 136.06deg,#f1f9f7 136.06deg 137.65deg,#e7f5f1 137.65deg 139.24deg,#b5ded4 139.24deg 140.82deg,#d4ece6 140.82deg 142.41deg,#a4d7cb 142.41deg 144.00deg,#7fc7b6 144.00deg 145.59deg,#b1ddd2 145.59deg 147.18deg,#9fd5c8 147.18deg 148.76deg,#7bc5b3 148.76deg 150.35deg,#a2d6ca 150.35deg 151.94deg,#bee3da 151.94deg 153.53deg,#b4ded4 153.53deg 155.12deg,#a6d8cc 155.12deg 156.71deg,#a0d5c9 156.71deg 158.29deg,#e7f5f1 158.29deg 159.88deg,#f6fbfa 159.88deg 161.47deg,#e2f2ee 161.47deg 163.06deg,#feffff 163.06deg 164.65deg,#bce1d8 164.65deg 166.24deg,#daefea 166.24deg 167.82deg,#b0dcd1 167.82deg 169.41deg,#c2e4dc 169.41deg 171.00deg,#acdbcf 171.00deg 172.59deg,#b1ddd2 172.59deg 174.18deg,#c0e3db 174.18deg 175.76deg,#a4d7cb 175.76deg 177.35deg,#b0dcd2 177.35deg 178.94deg,#fefffe 178.94deg 180.53deg,#fffbfa 180.53deg 182.12deg,#ebf6f3 182.12deg 183.71deg,#d2ebe5 183.71deg 185.29deg,#e7f4f1 185.29deg 186.88deg,#bae1d7 186.88deg 188.47deg,#f3faf8 188.47deg 190.06deg,#bce2d9 190.06deg 191.65deg,#a4d7ca 191.65deg 193.24deg,#95d0c2 193.24deg 194.82deg,#cfeae3 194.82deg 196.41deg,#d2ebe5 196.41deg 198.00deg,#def0ec 198.00deg 199.59deg,#f0f8f6 199.59deg 201.18deg,#edf7f5 201.18deg 202.76deg,#f4faf9 202.76deg 204.35deg,#f2f9f7 204.35deg 205.94deg,#fbfdfd 205.94deg 207.53deg,#c9e7e0 207.53deg 209.12deg,#cde9e2 209.12deg 210.71deg,#fafdfc 210.71deg 212.29deg,#f9fcfc 212.29deg 213.88deg,#aedbd0 213.88deg 215.47deg,#cde9e2 215.47deg 217.06deg,#bee3da 217.06deg 218.65deg,#fef4f2 218.65deg 220.24deg,#fffbfa 220.24deg 221.82deg,#e4f3ef 221.82deg 223.41deg,#fef4f2 223.41deg 225.00deg,#e2f2ef 225.00deg 226.59deg,#eef8f5 226.59deg 228.18deg,#e9f5f2 228.18deg 229.76deg,#e7f4f1 229.76deg 231.35deg,#c4e5dd 231.35deg 232.94deg,#a9d9ce 232.94deg 234.53deg,#9bd3c5 234.53deg 236.12deg,#cbe8e1 236.12deg 237.71deg,#c1e4dc 237.71deg 239.29deg,#daefea 239.29deg 240.88deg,#ceeae3 240.88deg 242.47deg,#fafdfc 242.47deg 244.06deg,#ecf7f4 244.06deg 245.65deg,#ffffff 245.65deg 247.24deg,#fffcfc 247.24deg 248.82deg,#feebe8 248.82deg 250.41deg,#feedea 250.41deg 252.00deg,#fff5f4 252.00deg 253.59deg,#fdd7cf 253.59deg 255.18deg,#fcc4b9 255.18deg 256.76deg,#fdd9d2 256.76deg 258.35deg,#fee9e5 258.35deg 259.94deg,#feebe7 259.94deg 261.53deg,#fdded8 261.53deg 263.12deg,#f7fcfa 263.12deg 264.71deg,#fdd1c8 264.71deg 266.29deg,#fdd6ce 266.29deg 267.88deg,#fff9f8 267.88deg 269.47deg,#feebe7 269.47deg 271.06deg,#feece8 271.06deg 272.65deg,#fee9e5 272.65deg 274.24deg,#fef2ef 274.24deg 275.82deg,#fdd6ce 275.82deg 277.41deg,#feeeeb 277.41deg 279.00deg,#feebe7 279.00deg 280.59deg,#fbb5a8 280.59deg 282.18deg,#fee6e2 282.18deg 283.76deg,#fee5e0 283.76deg 285.35deg,#fffcfb 285.35deg 286.94deg,#fffffe 286.94deg 288.53deg,#f9fcfb 288.53deg 290.12deg,#e9f5f2 290.12deg 291.71deg,#fffcfc 291.71deg 293.29deg,#feeae6 293.29deg 294.88deg,#fafdfc 294.88deg 296.47deg,#f0f8f6 296.47deg 298.06deg,#fffbfa 298.06deg 299.65deg,#feebe7 299.65deg 301.24deg,#fbb0a2 301.24deg 302.82deg,#feebe8 302.82deg 304.41deg,#fee4df 304.41deg 306.00deg,#fdd8d1 306.00deg 307.59deg,#feece8 307.59deg 309.18deg,#fdd1c8 309.18deg 310.76deg,#fdd7d0 310.76deg 312.35deg,#fee5e1 312.35deg 313.94deg,#fcccc2 313.94deg 315.53deg,#feeae6 315.53deg 317.12deg,#feece8 317.12deg 318.71deg,#fbb2a4 318.71deg 320.29deg,#fddfd9 320.29deg 321.88deg,#feedea 321.88deg 323.47deg,#fff8f6 323.47deg 325.06deg,#feedea 325.06deg 326.65deg,#fddfd9 326.65deg 328.24deg,#fddbd5 328.24deg 329.82deg,#fdd0c8 329.82deg 331.41deg,#fccbc1 331.41deg 333.00deg,#fccbc2 333.00deg 334.59deg,#fde2dd 334.59deg 336.18deg,#fccbc2 336.18deg 337.76deg,#fdd4cc 337.76deg 339.35deg,#fffefe 339.35deg 340.94deg,#fef2f0 340.94deg 342.53deg,#fffbfb 342.53deg 344.12deg,#fef1ee 344.12deg 345.71deg,#fee3de 345.71deg 347.29deg,#fef1ee 347.29deg 348.88deg,#fffaf9 348.88deg 350.47deg,#ddf0eb 350.47deg 352.06deg,#fff7f6 352.06deg 353.65deg,#fddad3 353.65deg 355.24deg,#fffaf9 355.24deg 356.82deg,#fef3f1 356.82deg 358.41deg,#f3faf8 358.41deg 360.00deg)"></div>
<div class="rg" style="left:360.11px;top:85.31px;width:112.78px;height:112.78px;background:conic-gradient(#fff0 0deg 90.00deg,#d2ebe5 90.00deg 91.59deg,#bbe1d8 91.59deg 93.18deg,#97d1c3 93.18deg 94.76deg,#cfeae3 94.76deg 96.35deg,#c3e5dc 96.35deg 97.94deg,#d7ede8 97.94deg 99.53deg,#d1ebe5 99.53deg 101.12deg,#c7e6df 101.12deg 102.71deg,#c3e5dd 102.71deg 104.29deg,#a8d9cd 104.29deg 105.88deg,#c9e7e0 105.88deg 107.47deg,#ddf0eb 107.47deg 109.06deg,#fcfefd 109.06deg 110.65deg,#daefea 110.65deg 112.24deg,#f0f8f6 112.24deg 113.82deg,#fefffe 113.82deg 115.41deg,#c3e5dd 115.41deg 117.00deg,#f6fbfa 117.00deg 118.59deg,#bde2d9 118.59deg 120.18deg,#fbfdfc 120.18deg 121.76deg,#fffaf9 121.76deg 123.35deg,#c7e6df 123.35deg 124.94deg,#a6d8cc 124.94deg 126.53deg,#fff7f6 126.53deg 128.12deg,#d5ede7 128.12deg 129.71deg,#ffffff 129.71deg 131.29deg,#e6f4f0 131.29deg 132.88deg,#e6f4f0 132.88deg 134.47deg,#c4e5dd 134.47deg 136.06deg,#bfe3da 136.06deg 137.65deg,#ebf6f3 137.65deg 139.24deg,#aadace 139.24deg 140.82deg,#88cbba 140.82deg 142.41deg,#c1e4dc 142.41deg 144.00deg,#9dd4c7 144.00deg 145.59deg,#c6e6de 145.59deg 147.18deg,#bde2d9 147.18deg 148.76deg,#dcf0eb 148.76deg 150.35deg,#c7e6df 150.35deg 151.94deg,#d7ede8 151.94deg 153.53deg,#c9e7e0 153.53deg 155.12deg,#c4e5dd 155.12deg 156.71deg,#c8e7df 156.71deg 158.29deg,#d9eee9 158.29deg 159.88deg,#eff8f6 159.88deg 161.47deg,#f1f9f7 161.47deg 163.06deg,#fffbfa 163.06deg 164.65deg,#d1ebe5 164.65deg 166.24deg,#d3ebe6 166.24deg 167.82deg,#d5ece7 167.82deg 169.41deg,#f7fbfa 169.41deg 171.00deg,#b5dfd5 171.00deg 172.59deg,#d0eae4 172.59deg 174.18deg,#a6d8cc 174.18deg 175.76deg,#d6ede7 175.76deg 177.35deg,#bee2d9 177.35deg 178.94deg,#bae1d7 178.94deg 180.53deg,#c3e4dc 180.53deg 182.12deg,#a5d7cb 182.12deg 183.71deg,#96d1c3 183.71deg 185.29deg,#ebf6f3 185.29deg 186.88deg,#ecf6f4 186.88deg 188.47deg,#d8eee9 188.47deg 190.06deg,#c1e4dc 190.06deg 191.65deg,#d3ece6 191.65deg 193.24deg,#fbfdfd 193.24deg 194.82deg,#d5ece7 194.82deg 196.41deg,#d2ebe5 196.41deg 198.00deg,#addbd0 198.00deg 199.59deg,#a5d7cb 199.59deg 201.18deg,#85c9b9 201.18deg 202.76deg,#c1e4db 202.76deg 204.35deg,#cde9e2 204.35deg 205.94deg,#b8e0d6 205.94deg 207.53deg,#9dd4c7 207.53deg 209.12deg,#ebf6f3 209.12deg 210.71deg,#eff8f6 210.71deg 212.29deg,#fafdfc 212.29deg 213.88deg,#c1e4db 213.88deg 215.47deg,#c3e5dd 215.47deg 217.06deg,#d3ece6 217.06deg 218.65deg,#c1e4db 218.65deg 220.24deg,#eff8f6 220.24deg 221.82deg,#a8d9cd 221.82deg 223.41deg,#b1dcd2 223.41deg 225.00deg,#fafdfc 225.00deg 226.59deg,#f1f9f7 226.59deg 228.18deg,#f2f9f8 228.18deg 229.76deg,#f2f9f7 229.76deg 231.35deg,#c4e5dd 231.35deg 232.94deg,#bfe3da 232.94deg 234.53deg,#eff8f6 234.53deg 236.12deg,#f1f9f7 236.12deg 237.71deg,#e3f3ef 237.71deg 239.29deg,#cbe8e1 239.29deg 240.88deg,#f9fcfb 240.88deg 242.47deg,#fffefe 242.47deg 244.06deg,#fcc8be 244.06deg 245.65deg,#fbac9d 245.65deg 247.24deg,#fbbcb0 247.24deg 248.82deg,#fdddd7 248.82deg 250.41deg,#fcc5ba 250.41deg 252.00deg,#fbbaae 252.00deg 253.59deg,#faa898 253.59deg 255.18deg,#fbafa0 255.18deg 256.76deg,#fcc9c0 256.76deg 258.35deg,#fbab9b 258.35deg 259.94deg,#fcc4b9 259.94deg 261.53deg,#fde1db 261.53deg 263.12deg,#fee3de 263.12deg 264.71deg,#fde0db 264.71deg 266.29deg,#fddad4 266.29deg 267.88deg,#fffafa 267.88deg 269.47deg,#fee5e1 269.47deg 271.06deg,#fffffe 271.06deg 272.65deg,#fee2dd 272.65deg 274.24deg,#fccbc1 274.24deg 275.82deg,#fef1ee 275.82deg 277.41deg,#fcc0b5 277.41deg 279.00deg,#faa898 279.00deg 280.59deg,#fdd1c8 280.59deg 282.18deg,#fcc6bc 282.18deg 283.76deg,#fdddd6 283.76deg 285.35deg,#fbb3a5 285.35deg 286.94deg,#fcc0b4 286.94deg 288.53deg,#fbb6a9 288.53deg 290.12deg,#fbb4a6 290.12deg 291.71deg,#fbad9e 291.71deg 293.29deg,#fbb7aa 293.29deg 294.88deg,#fddfd9 294.88deg 296.47deg,#fba99a 296.47deg 298.06deg,#feede9 298.06deg 299.65deg,#fff9f8 299.65deg 301.24deg,#fddcd5 301.24deg 302.82deg,#feebe7 302.82deg 304.41deg,#fdddd7 304.41deg 306.00deg,#fdd0c7 306.00deg 307.59deg,#fcc2b7 307.59deg 309.18deg,#fef4f2 309.18deg 310.76deg,#fccac0 310.76deg 312.35deg,#fddcd6 312.35deg 313.94deg,#fbb7aa 313.94deg 315.53deg,#fbbaad 315.53deg 317.12deg,#fddcd5 317.12deg 318.71deg,#fbb9ac 318.71deg 320.29deg,#faa190 320.29deg 321.88deg,#fccdc3 321.88deg 323.47deg,#fcccc3 323.47deg 325.06deg,#fdd9d3 325.06deg 326.65deg,#fee6e1 326.65deg 328.24deg,#fee5e0 328.24deg 329.82deg,#fcc1b5 329.82deg 331.41deg,#fcc2b7 331.41deg 333.00deg,#fcc1b6 333.00deg 334.59deg,#fddbd5 334.59deg 336.18deg,#faa999 336.18deg 337.76deg,#fcc0b5 337.76deg 339.35deg,#fbb9ac 339.35deg 340.94deg,#fcbdb1 340.94deg 342.53deg,#fdd4cc 342.53deg 344.12deg,#fcccc3 344.12deg 345.71deg,#fdd1c8 345.71deg 347.29deg,#fcc7bc 347.29deg 348.88deg,#fef4f2 348.88deg 350.47deg,#feeae6 350.47deg 352.06deg,#fbb8ab 352.06deg 353.65deg,#fee9e5 353.65deg 355.24deg,#fbb0a1 355.24deg 356.82deg,#fdd9d2 356.82deg 358.41deg,#fdd6ce 358.41deg 360.00deg)"></div>
<div class="rg" style="left:363.83px;top:89.03px;width:105.34px;height:105.34px;background:conic-gradient(#fff0 0deg 90.00deg,#c5e5dd 90.00deg 91.59deg,#fdfefe 91.59deg 93.18deg,#c7e6df 93.18deg 94.76deg,#cfeae4 94.76deg 96.35deg,#c1e4db 96.35deg 97.94deg,#f4faf9 97.94deg 99.53deg,#e8f5f2 99.53deg 101.12deg,#d4ece6 101.12deg 102.71deg,#e0f2ed 102.71deg 104.29deg,#ffffff 104.29deg 105.88deg,#c0e3db 105.88deg 107.47deg,#d5ece7 107.47deg 109.06deg,#fcfefd 109.06deg 110.65deg,#fffdfd 110.65deg 112.24deg,#edf7f5 112.24deg 113.82deg,#e8f5f2 113.82deg 115.41deg,#d8eee9 115.41deg 117.00deg,#c0e3db 117.00deg 118.59deg,#e5f4f0 118.59deg 120.18deg,#e4f3ef 120.18deg 121.76deg,#daefea 121.76deg 123.35deg,#bae1d7 123.35deg 124.94deg,#d7ede8 124.94deg 126.53deg,#ecf7f4 126.53deg 128.12deg,#e1f2ee 128.12deg 129.71deg,#eff8f6 129.71deg 131.29deg,#cce9e2 131.29deg 132.88deg,#b7dfd6 132.88deg 134.47deg,#e8f5f2 134.47deg 136.06deg,#f6fbfa 136.06deg 137.65deg,#e4f3f0 137.65deg 139.24deg,#b2ddd3 139.24deg 140.82deg,#b8e0d6 140.82deg 142.41deg,#87caba 142.41deg 144.00deg,#74c2af 144.00deg 145.59deg,#d6ede8 145.59deg 147.18deg,#99d2c5 147.18deg 148.76deg,#abdacf 148.76deg 150.35deg,#b7dfd6 150.35deg 151.94deg,#81c8b7 151.94deg 153.53deg,#b1ddd2 153.53deg 155.12deg,#acdacf 155.12deg 156.71deg,#8bccbc 156.71deg 158.29deg,#8fcebf 158.29deg 159.88deg,#9fd5c8 159.88deg 161.47deg,#daefea 161.47deg 163.06deg,#cce9e2 163.06deg 164.65deg,#a7d8cc 164.65deg 166.24deg,#a0d5c8 166.24deg 167.82deg,#f1f9f7 167.82deg 169.41deg,#e3f3ef 169.41deg 171.00deg,#e3f3ef 171.00deg 172.59deg,#e2f2ee 172.59deg 174.18deg,#e6f4f1 174.18deg 175.76deg,#f8fcfb 175.76deg 177.35deg,#c7e6df 177.35deg 178.94deg,#fff8f6 178.94deg 180.53deg,#fafdfc 180.53deg 182.12deg,#eff8f6 182.12deg 183.71deg,#9fd5c8 183.71deg 185.29deg,#b8e0d6 185.29deg 186.88deg,#daefea 186.88deg 188.47deg,#e2f2ee 188.47deg 190.06deg,#d5ece7 190.06deg 191.65deg,#e2f2ef 191.65deg 193.24deg,#f7fbfa 193.24deg 194.82deg,#fafdfc 194.82deg 196.41deg,#fffefe 196.41deg 198.00deg,#d9eee9 198.00deg 199.59deg,#e5f3f0 199.59deg 201.18deg,#f7fcfb 201.18deg 202.76deg,#d3ece6 202.76deg 204.35deg,#d8eee9 204.35deg 205.94deg,#bae1d8 205.94deg 207.53deg,#aad9ce 207.53deg 209.12deg,#cde9e2 209.12deg 210.71deg,#b0dcd1 210.71deg 212.29deg,#e0f2ed 212.29deg 213.88deg,#daefea 213.88deg 215.47deg,#f5fbf9 215.47deg 217.06deg,#d6ede8 217.06deg 218.65deg,#afdcd1 218.65deg 220.24deg,#aadace 220.24deg 221.82deg,#d1ebe4 221.82deg 223.41deg,#a6d8cc 223.41deg 225.00deg,#bae1d7 225.00deg 226.59deg,#dbefea 226.59deg 228.18deg,#aedbd0 228.18deg 229.76deg,#d9eee9 229.76deg 231.35deg,#e2f2ee 231.35deg 232.94deg,#cee9e3 232.94deg 234.53deg,#e5f4f0 234.53deg 236.12deg,#d9eee9 236.12deg 237.71deg,#ecf6f4 237.71deg 239.29deg,#c7e6df 239.29deg 240.88deg,#fef2f0 240.88deg 242.47deg,#feeae6 242.47deg 244.06deg,#fccdc3 244.06deg 245.65deg,#f9927e 245.65deg 247.24deg,#fcc0b4 247.24deg 248.82deg,#fbb9ad 248.82deg 250.41deg,#f98872 250.41deg 252.00deg,#f98a74 252.00deg 253.59deg,#fbafa0 253.59deg 255.18deg,#f98a75 255.18deg 256.76deg,#fde0db 256.76deg 258.35deg,#fdd0c8 258.35deg 259.94deg,#fbb4a7 259.94deg 261.53deg,#feffff 261.53deg 263.12deg,#fde2dd 263.12deg 264.71deg,#fcbeb2 264.71deg 266.29deg,#fdddd7 266.29deg 267.88deg,#faa594 267.88deg 269.47deg,#fbb9ac 269.47deg 271.06deg,#f99581 271.06deg 272.65deg,#f87b63 272.65deg 274.24deg,#f98e7a 274.24deg 275.82deg,#f87b63 275.82deg 277.41deg,#fbad9e 277.41deg 279.00deg,#fbbcaf 279.00deg 280.59deg,#fcbcb0 280.59deg 282.18deg,#fba99a 282.18deg 283.76deg,#fdd3cb 283.76deg 285.35deg,#fcc8be 285.35deg 286.94deg,#fbaa9b 286.94deg 288.53deg,#fccfc6 288.53deg 290.12deg,#fbae9f 290.12deg 291.71deg,#fa9b89 291.71deg 293.29deg,#f98b76 293.29deg 294.88deg,#fdd8d1 294.88deg 296.47deg,#faa392 296.47deg 298.06deg,#faa291 298.06deg 299.65deg,#f9927e 299.65deg 301.24deg,#faa08e 301.24deg 302.82deg,#fdd7cf 302.82deg 304.41deg,#fbab9b 304.41deg 306.00deg,#fbb4a7 306.00deg 307.59deg,#fccbc1 307.59deg 309.18deg,#faa696 309.18deg 310.76deg,#f8755b 310.76deg 312.35deg,#fcc6bb 312.35deg 313.94deg,#fcc1b6 313.94deg 315.53deg,#fbbcaf 315.53deg 317.12deg,#fbb4a6 317.12deg 318.71deg,#fbafa0 318.71deg 320.29deg,#fcc1b5 320.29deg 321.88deg,#fbb8ab 321.88deg 323.47deg,#fcc3b9 323.47deg 325.06deg,#fa9d8b 325.06deg 326.65deg,#fbbaad 326.65deg 328.24deg,#fa9e8c 328.24deg 329.82deg,#f87860 329.82deg 331.41deg,#f9937f 331.41deg 333.00deg,#f98a75 333.00deg 334.59deg,#f88169 334.59deg 336.18deg,#f9917d 336.18deg 337.76deg,#faa190 337.76deg 339.35deg,#f98f7a 339.35deg 340.94deg,#f9917d 340.94deg 342.53deg,#f98973 342.53deg 344.12deg,#f7694e 344.12deg 345.71deg,#fa9683 345.71deg 347.29deg,#f98d78 347.29deg 348.88deg,#fcc0b4 348.88deg 350.47deg,#fcc3b8 350.47deg 352.06deg,#fbbcb0 352.06deg 353.65deg,#fa9e8c 353.65deg 355.24deg,#faa595 355.24deg 356.82deg,#f98d78 356.82deg 358.41deg,#faa392 358.41deg 360.00deg)"></div>
<div class="rg" style="left:367.55px;top:92.75px;width:97.89px;height:97.89px;background:conic-gradient(#fff0 0deg 90.00deg,#d1ebe4 90.00deg 91.59deg,#d3ece6 91.59deg 93.18deg,#e3f2ef 93.18deg 94.76deg,#dcf0eb 94.76deg 96.35deg,#cee9e3 96.35deg 97.94deg,#e2f2ef 97.94deg 99.53deg,#fffbfa 99.53deg 101.12deg,#fffdfd 101.12deg 102.71deg,#fcfefd 102.71deg 104.29deg,#fffbfa 104.29deg 105.88deg,#f3faf8 105.88deg 107.47deg,#fff8f6 107.47deg 109.06deg,#fff9f8 109.06deg 110.65deg,#f7fcfa 110.65deg 112.24deg,#fefffe 112.24deg 113.82deg,#fef1ee 113.82deg 115.41deg,#f9fdfc 115.41deg 117.00deg,#fde1dc 117.00deg 118.59deg,#f8fcfb 118.59deg 120.18deg,#fcfefd 120.18deg 121.76deg,#fffcfc 121.76deg 123.35deg,#e0f1ed 123.35deg 124.94deg,#c5e6de 124.94deg 126.53deg,#cfeae3 126.53deg 128.12deg,#ebf6f3 128.12deg 129.71deg,#d8eee8 129.71deg 131.29deg,#aedbd0 131.29deg 132.88deg,#d9eee9 132.88deg 134.47deg,#c7e6df 134.47deg 136.06deg,#f3f9f8 136.06deg 137.65deg,#edf7f5 137.65deg 139.24deg,#d9eee9 139.24deg 140.82deg,#fffefe 140.82deg 142.41deg,#cbe8e1 142.41deg 144.00deg,#8dcdbe 144.00deg 145.59deg,#dff1ed 145.59deg 147.18deg,#c1e4db 147.18deg 148.76deg,#c7e6df 148.76deg 150.35deg,#b5dfd5 150.35deg 151.94deg,#d5ede7 151.94deg 153.53deg,#a9d9ce 153.53deg 155.12deg,#bae1d7 155.12deg 156.71deg,#5bb7a1 156.71deg 158.29deg,#acdacf 158.29deg 159.88deg,#d4ece7 159.88deg 161.47deg,#cfeae3 161.47deg 163.06deg,#fffefe 163.06deg 164.65deg,#bde2d9 164.65deg 166.24deg,#90cebf 166.24deg 167.82deg,#b0dcd2 167.82deg 169.41deg,#c5e6de 169.41deg 171.00deg,#80c7b6 171.00deg 172.59deg,#a1d5c9 172.59deg 174.18deg,#71c1ad 174.18deg 175.76deg,#aadace 175.76deg 177.35deg,#c0e3db 177.35deg 178.94deg,#a8d9cd 178.94deg 180.53deg,#e1f2ee 180.53deg 182.12deg,#cbe8e1 182.12deg 183.71deg,#e8f5f2 183.71deg 185.29deg,#dff1ed 185.29deg 186.88deg,#e9f5f2 186.88deg 188.47deg,#f7fbfa 188.47deg 190.06deg,#fef3f1 190.06deg 191.65deg,#8acbbc 191.65deg 193.24deg,#b3ddd3 193.24deg 194.82deg,#dbefea 194.82deg 196.41deg,#e4f3ef 196.41deg 198.00deg,#def0ec 198.00deg 199.59deg,#d6ede7 199.59deg 201.18deg,#fafdfc 201.18deg 202.76deg,#d7ede8 202.76deg 204.35deg,#c6e6de 204.35deg 205.94deg,#b2ddd3 205.94deg 207.53deg,#daefea 207.53deg 209.12deg,#e7f4f1 209.12deg 210.71deg,#fdfefe 210.71deg 212.29deg,#fef2ef 212.29deg 213.88deg,#c6e6de 213.88deg 215.47deg,#dbefea 215.47deg 217.06deg,#edf7f4 217.06deg 218.65deg,#e0f1ed 218.65deg 220.24deg,#daefe9 220.24deg 221.82deg,#fdfefe 221.82deg 223.41deg,#d0eae4 223.41deg 225.00deg,#d7eee8 225.00deg 226.59deg,#d1ebe5 226.59deg 228.18deg,#dcefeb 228.18deg 229.76deg,#daefea 229.76deg 231.35deg,#c1e4db 231.35deg 232.94deg,#8cccbd 232.94deg 234.53deg,#e5f4f0 234.53deg 236.12deg,#f1f9f7 236.12deg 237.71deg,#cae8e1 237.71deg 239.29deg,#e8f5f1 239.29deg 240.88deg,#fdfefe 240.88deg 242.47deg,#fff7f6 242.47deg 244.06deg,#fddcd6 244.06deg 245.65deg,#fee3de 245.65deg 247.24deg,#fcccc2 247.24deg 248.82deg,#fbb4a7 248.82deg 250.41deg,#fcc5ba 250.41deg 252.00deg,#fcc2b7 252.00deg 253.59deg,#fa9986 253.59deg 255.18deg,#fdd0c7 255.18deg 256.76deg,#fcccc2 256.76deg 258.35deg,#fdd0c8 258.35deg 259.94deg,#fef2f0 259.94deg 261.53deg,#fccac1 261.53deg 263.12deg,#fff6f4 263.12deg 264.71deg,#fef1ee 264.71deg 266.29deg,#fccfc6 266.29deg 267.88deg,#fcc8be 267.88deg 269.47deg,#fddbd5 269.47deg 271.06deg,#fba999 271.06deg 272.65deg,#fcc6bc 272.65deg 274.24deg,#fbb7aa 274.24deg 275.82deg,#fdded8 275.82deg 277.41deg,#fdd7d0 277.41deg 279.00deg,#fbbcaf 279.00deg 280.59deg,#fccfc6 280.59deg 282.18deg,#fddad4 282.18deg 283.76deg,#fee8e3 283.76deg 285.35deg,#fdd0c7 285.35deg 286.94deg,#ffffff 286.94deg 288.53deg,#feffff 288.53deg 290.12deg,#fef2f0 290.12deg 291.71deg,#fccac1 291.71deg 293.29deg,#feedea 293.29deg 294.88deg,#feeeeb 294.88deg 296.47deg,#fef1ee 296.47deg 298.06deg,#feedea 298.06deg 299.65deg,#fff6f4 299.65deg 301.24deg,#fdd3cb 301.24deg 302.82deg,#feeae6 302.82deg 304.41deg,#fee8e4 304.41deg 306.00deg,#fbb1a3 306.00deg 307.59deg,#fdd6cf 307.59deg 309.18deg,#fcccc3 309.18deg 310.76deg,#fddbd4 310.76deg 312.35deg,#fbae9f 312.35deg 313.94deg,#faa393 313.94deg 315.53deg,#fa9c8a 315.53deg 317.12deg,#fbae9f 317.12deg 318.71deg,#fbb8ab 318.71deg 320.29deg,#fde1dc 320.29deg 321.88deg,#fcc5bb 321.88deg 323.47deg,#fcbdb1 323.47deg 325.06deg,#fbb9ac 325.06deg 326.65deg,#fbb1a2 326.65deg 328.24deg,#fbb0a1 328.24deg 329.82deg,#f9907b 329.82deg 331.41deg,#fbb0a2 331.41deg 333.00deg,#fa9e8c 333.00deg 334.59deg,#fbb8ac 334.59deg 336.18deg,#f76c51 336.18deg 337.76deg,#f87b62 337.76deg 339.35deg,#f9927f 339.35deg 340.94deg,#fa9e8c 340.94deg 342.53deg,#fbbbae 342.53deg 344.12deg,#faa08e 344.12deg 345.71deg,#f98974 345.71deg 347.29deg,#f99682 347.29deg 348.88deg,#faa696 348.88deg 350.47deg,#fcc6bb 350.47deg 352.06deg,#fbb5a7 352.06deg 353.65deg,#f98973 353.65deg 355.24deg,#fdd4cd 355.24deg 356.82deg,#f9917d 356.82deg 358.41deg,#f8826b 358.41deg 360.00deg)"></div>
<div class="rg" style="left:371.28px;top:96.48px;width:90.45px;height:90.45px;background:conic-gradient(#fff0 0deg 90.00deg,#cee9e3 90.00deg 91.59deg,#cde9e2 91.59deg 93.18deg,#96d1c3 93.18deg 94.76deg,#c5e5de 94.76deg 96.35deg,#f3faf8 96.35deg 97.94deg,#fffefe 97.94deg 99.53deg,#fffaf9 99.53deg 101.12deg,#fff7f6 101.12deg 102.71deg,#fef4f2 102.71deg 104.29deg,#fee8e3 104.29deg 105.88deg,#ffffff 105.88deg 107.47deg,#9ed4c7 107.47deg 109.06deg,#eaf6f3 109.06deg 110.65deg,#b3ded3 110.65deg 112.24deg,#ebf6f3 112.24deg 113.82deg,#fcfefd 113.82deg 115.41deg,#cde9e2 115.41deg 117.00deg,#edf7f5 117.00deg 118.59deg,#d5ece7 118.59deg 120.18deg,#fffafa 120.18deg 121.76deg,#f5fbf9 121.76deg 123.35deg,#d8eee9 123.35deg 124.94deg,#edf7f5 124.94deg 126.53deg,#f2f9f7 126.53deg 128.12deg,#feffff 128.12deg 129.71deg,#c8e7df 129.71deg 131.29deg,#d2ebe5 131.29deg 132.88deg,#d4ece6 132.88deg 134.47deg,#edf7f5 134.47deg 136.06deg,#fdfefe 136.06deg 137.65deg,#fdfefe 137.65deg 139.24deg,#fafdfc 139.24deg 140.82deg,#fef4f2 140.82deg 142.41deg,#cae8e1 142.41deg 144.00deg,#f4faf9 144.00deg 145.59deg,#eff8f6 145.59deg 147.18deg,#d8eee9 147.18deg 148.76deg,#abdace 148.76deg 150.35deg,#ddf0eb 150.35deg 151.94deg,#fbfdfd 151.94deg 153.53deg,#d5ede7 153.53deg 155.12deg,#cce9e2 155.12deg 156.71deg,#65bba6 156.71deg 158.29deg,#a2d6c9 158.29deg 159.88deg,#cce8e1 159.88deg 161.47deg,#cae8e1 161.47deg 163.06deg,#e7f4f1 163.06deg 164.65deg,#ffffff 164.65deg 166.24deg,#dbefea 166.24deg 167.82deg,#edf7f5 167.82deg 169.41deg,#f5fbf9 169.41deg 171.00deg,#cbe8e1 171.00deg 172.59deg,#e0f1ed 172.59deg 174.18deg,#f3faf8 174.18deg 175.76deg,#c7e6df 175.76deg 177.35deg,#aadace 177.35deg 178.94deg,#bae0d7 178.94deg 180.53deg,#e5f3f0 180.53deg 182.12deg,#96d1c3 182.12deg 183.71deg,#d5ede7 183.71deg 185.29deg,#a7d8cc 185.29deg 186.88deg,#f2f9f8 186.88deg 188.47deg,#fff7f6 188.47deg 190.06deg,#f1f9f7 190.06deg 191.65deg,#ceeae3 191.65deg 193.24deg,#cee9e3 193.24deg 194.82deg,#e7f4f1 194.82deg 196.41deg,#d4ece6 196.41deg 198.00deg,#e2f2ee 198.00deg 199.59deg,#fdfefe 199.59deg 201.18deg,#ddf0eb 201.18deg 202.76deg,#fffefe 202.76deg 204.35deg,#edf7f5 204.35deg 205.94deg,#fdfefe 205.94deg 207.53deg,#eff8f6 207.53deg 209.12deg,#d1ebe5 209.12deg 210.71deg,#e2f2ef 210.71deg 212.29deg,#dff1ed 212.29deg 213.88deg,#d8eee9 213.88deg 215.47deg,#dcf0eb 215.47deg 217.06deg,#cbe8e1 217.06deg 218.65deg,#c5e5de 218.65deg 220.24deg,#f4faf9 220.24deg 221.82deg,#c0e3db 221.82deg 223.41deg,#c5e5dd 223.41deg 225.00deg,#b1ddd2 225.00deg 226.59deg,#bde2d9 226.59deg 228.18deg,#afdcd1 228.18deg 229.76deg,#edf7f5 229.76deg 231.35deg,#cbe8e1 231.35deg 232.94deg,#9cd4c6 232.94deg 234.53deg,#d8eee9 234.53deg 236.12deg,#d8eee8 236.12deg 237.71deg,#f5fbf9 237.71deg 239.29deg,#d1ebe4 239.29deg 240.88deg,#d8eee9 240.88deg 242.47deg,#fcfefe 242.47deg 244.06deg,#fee4df 244.06deg 245.65deg,#fff9f8 245.65deg 247.24deg,#feece8 247.24deg 248.82deg,#fffaf9 248.82deg 250.41deg,#fcc4b9 250.41deg 252.00deg,#fdd6cf 252.00deg 253.59deg,#fddad3 253.59deg 255.18deg,#fdd7d0 255.18deg 256.76deg,#fdd2ca 256.76deg 258.35deg,#fff9f8 258.35deg 259.94deg,#fde0db 259.94deg 261.53deg,#fef2f0 261.53deg 263.12deg,#fde0db 263.12deg 264.71deg,#fef0ee 264.71deg 266.29deg,#fddcd6 266.29deg 267.88deg,#fff8f7 267.88deg 269.47deg,#feefec 269.47deg 271.06deg,#fffaf9 271.06deg 272.65deg,#fcc1b6 272.65deg 274.24deg,#fbb5a8 274.24deg 275.82deg,#feeae6 275.82deg 277.41deg,#fee3de 277.41deg 279.00deg,#fcc7bd 279.00deg 280.59deg,#ffffff 280.59deg 282.18deg,#eef8f5 282.18deg 283.76deg,#fefefe 283.76deg 285.35deg,#fefefe 285.35deg 286.94deg,#fcc7bd 286.94deg 288.53deg,#fccfc6 288.53deg 290.12deg,#fee9e6 290.12deg 291.71deg,#fde1dc 291.71deg 293.29deg,#fee8e4 293.29deg 294.88deg,#fffaf9 294.88deg 296.47deg,#fef4f2 296.47deg 298.06deg,#fde2dd 298.06deg 299.65deg,#fdd7d0 299.65deg 301.24deg,#fdd5cd 301.24deg 302.82deg,#feeae6 302.82deg 304.41deg,#fef1ee 304.41deg 306.00deg,#fdfefe 306.00deg 307.59deg,#fffdfc 307.59deg 309.18deg,#fef2ef 309.18deg 310.76deg,#fddcd5 310.76deg 312.35deg,#fdd4cd 312.35deg 313.94deg,#fef5f3 313.94deg 315.53deg,#ffffff 315.53deg 317.12deg,#fee8e4 317.12deg 318.71deg,#feebe8 318.71deg 320.29deg,#fee9e5 320.29deg 321.88deg,#fee4df 321.88deg 323.47deg,#fddfd9 323.47deg 325.06deg,#fddbd4 325.06deg 326.65deg,#fccac1 326.65deg 328.24deg,#fa9c8a 328.24deg 329.82deg,#f76a4f 329.82deg 331.41deg,#fa9a88 331.41deg 333.00deg,#f9836d 333.00deg 334.59deg,#f76b4f 334.59deg 336.18deg,#f87b63 336.18deg 337.76deg,#f7664a 337.76deg 339.35deg,#f8826b 339.35deg 340.94deg,#faa08f 340.94deg 342.53deg,#f87e67 342.53deg 344.12deg,#f99582 344.12deg 345.71deg,#fa9e8d 345.71deg 347.29deg,#fbb8ab 347.29deg 348.88deg,#f9856f 348.88deg 350.47deg,#fbb6a8 350.47deg 352.06deg,#f98873 352.06deg 353.65deg,#f8816a 353.65deg 355.24deg,#fbaa9a 355.24deg 356.82deg,#f98d79 356.82deg 358.41deg,#f98f7b 358.41deg 360.00deg)"></div>
<div class="rg" style="left:375.00px;top:100.20px;width:83.00px;height:83.00px;background:#fff"></div>
<svg width="550" height="528" viewBox="0 0 550 528" font-family="Liberation Sans, Arial, sans-serif">
<g font-size="2.50" fill="#000">
<text x="236.6" y="157.4" dy=".35em" textLength="20.4" lengthAdjust="spacingAndGlyphs" transform="rotate(1.88 142.2 157.4)">Homogentisic acid</text>
<text x="236.6" y="157.4" dy=".35em" textLength="33.1" lengthAdjust="spacingAndGlyphs" transform="rotate(5.62 142.2 157.4)">Hydroxy acids and derivatives</text>
<text x="236.6" y="157.4" dy=".35em" textLength="31.5" lengthAdjust="spacingAndGlyphs" transform="rotate(9.38 142.2 157.4)">Quaternary ammonium salts</text>
<text x="236.6" y="157.4" dy=".35em" textLength="22.3" lengthAdjust="spacingAndGlyphs" transform="rotate(13.12 142.2 157.4)">Ribose 5-phosphate</text>
<text x="236.6" y="157.4" dy=".35em" textLength="26.5" lengthAdjust="spacingAndGlyphs" transform="rotate(16.88 142.2 157.4)">N-Acetyl-L-aspartic acid</text>
<text x="236.6" y="157.4" dy=".35em" textLength="25.6" lengthAdjust="spacingAndGlyphs" transform="rotate(20.62 142.2 157.4)">Indoles and derivatives</text>
<text x="236.6" y="157.4" dy=".35em" textLength="29.1" lengthAdjust="spacingAndGlyphs" transform="rotate(24.38 142.2 157.4)">Keto acids and derivatives</text>
<text x="236.6" y="157.4" dy=".35em" textLength="31.4" lengthAdjust="spacingAndGlyphs" transform="rotate(28.12 142.2 157.4)">Uridine diphosphate glucose</text>
<text x="236.6" y="157.4" dy=".35em" textLength="19.1" lengthAdjust="spacingAndGlyphs" transform="rotate(31.88 142.2 157.4)">Thromboxane B2</text>
<text x="236.6" y="157.4" dy=".35em" textLength="17.9" lengthAdjust="spacingAndGlyphs" transform="rotate(35.62 142.2 157.4)">Oxoglutaric acid</text>
<text x="236.6" y="157.4" dy=".35em" textLength="31.8" lengthAdjust="spacingAndGlyphs" transform="rotate(39.38 142.2 157.4)">Lysophosphatidic acid (18:1)</text>
<text x="236.6" y="157.4" dy=".35em" textLength="24.8" lengthAdjust="spacingAndGlyphs" transform="rotate(43.12 142.2 157.4)">Pyridoxal 5-phosphate</text>
<text x="236.6" y="157.4" dy=".35em" textLength="30.3" lengthAdjust="spacingAndGlyphs" transform="rotate(46.88 142.2 157.4)">Flavin adenine dinucleotide</text>
<text x="236.6" y="157.4" dy=".35em" textLength="17.2" lengthAdjust="spacingAndGlyphs" transform="rotate(50.62 142.2 157.4)">Glucuronic acid</text>
<text x="236.6" y="157.4" dy=".35em" textLength="24.7" lengthAdjust="spacingAndGlyphs" transform="rotate(54.38 142.2 157.4)">Carbamoyl phosphate</text>
<text x="236.6" y="157.4" dy=".35em" textLength="29.3" lengthAdjust="spacingAndGlyphs" transform="rotate(58.12 142.2 157.4)">Phosphatidylinositol (38:4)</text>
<text x="236.6" y="157.4" dy=".35em" textLength="20.5" lengthAdjust="spacingAndGlyphs" transform="rotate(61.88 142.2 157.4)">Cholesterol sulfate</text>
<text x="236.6" y="157.4" dy=".35em" textLength="31.4" lengthAdjust="spacingAndGlyphs" transform="rotate(65.62 142.2 157.4)">Benzoic acid and derivatives</text>
<text x="236.6" y="157.4" dy=".35em" textLength="29.7" lengthAdjust="spacingAndGlyphs" transform="rotate(69.38 142.2 157.4)">Fructose 1,6-bisphosphate</text>
<text x="236.6" y="157.4" dy=".35em" textLength="15.5" lengthAdjust="spacingAndGlyphs" transform="rotate(73.12 142.2 157.4)">PE(18:0/22:6)</text>
<text x="236.6" y="157.4" dy=".35em" textLength="14.8" lengthAdjust="spacingAndGlyphs" transform="rotate(76.88 142.2 157.4)">Ascorbic acid</text>
<text x="236.6" y="157.4" dy=".35em" textLength="21.4" lengthAdjust="spacingAndGlyphs" transform="rotate(80.62 142.2 157.4)">Imidazopyrimidines</text>
<text x="236.6" y="157.4" dy=".35em" textLength="25.9" lengthAdjust="spacingAndGlyphs" transform="rotate(84.38 142.2 157.4)">Glycerophosphoinositol</text>
<text x="236.6" y="157.4" dy=".35em" textLength="17.7" lengthAdjust="spacingAndGlyphs" transform="rotate(88.12 142.2 157.4)">4-Pyridoxic acid</text>
<text x="47.8" y="157.4" dy=".35em" text-anchor="end" textLength="15.5" lengthAdjust="spacingAndGlyphs" transform="rotate(271.88 142.2 157.4)">PC(16:0/18:1)</text>
<text x="47.8" y="157.4" dy=".35em" text-anchor="end" textLength="18.7" lengthAdjust="spacingAndGlyphs" transform="rotate(275.62 142.2 157.4)">Xanthurenic acid</text>
<text x="47.8" y="157.4" dy=".35em" text-anchor="end" textLength="13.9" lengthAdjust="spacingAndGlyphs" transform="rotate(279.38 142.2 157.4)">Sphinganine</text>
<text x="47.8" y="157.4" dy=".35em" text-anchor="end" textLength="17.1" lengthAdjust="spacingAndGlyphs" transform="rotate(283.12 142.2 157.4)">Lithocholic acid</text>
<text x="47.8" y="157.4" dy=".35em" text-anchor="end" textLength="20.7" lengthAdjust="spacingAndGlyphs" transform="rotate(286.88 142.2 157.4)">Phenylpyruvic acid</text>
<text x="47.8" y="157.4" dy=".35em" text-anchor="end" textLength="22.2" lengthAdjust="spacingAndGlyphs" transform="rotate(290.62 142.2 157.4)">Oleoylethanolamide</text>
<text x="47.8" y="157.4" dy=".35em" text-anchor="end" textLength="18.8" lengthAdjust="spacingAndGlyphs" transform="rotate(294.38 142.2 157.4)">Phosphocreatine</text>
<text x="47.8" y="157.4" dy=".35em" text-anchor="end" textLength="19.3" lengthAdjust="spacingAndGlyphs" transform="rotate(298.12 142.2 157.4)">Normetanephrine</text>
<text x="47.8" y="157.4" dy=".35em" text-anchor="end" textLength="19.6" lengthAdjust="spacingAndGlyphs" transform="rotate(301.88 142.2 157.4)">Pyroglutamic acid</text>
<text x="47.8" y="157.4" dy=".35em" text-anchor="end" textLength="24.1" lengthAdjust="spacingAndGlyphs" transform="rotate(305.62 142.2 157.4)">3-Hydroxybutyric acid</text>
<text x="47.8" y="157.4" dy=".35em" text-anchor="end" textLength="21.8" lengthAdjust="spacingAndGlyphs" transform="rotate(309.38 142.2 157.4)">Phenylacetylglycine</text>
<text x="47.8" y="157.4" dy=".35em" text-anchor="end" textLength="17.8" lengthAdjust="spacingAndGlyphs" transform="rotate(313.12 142.2 157.4)">Phosphocholine</text>
<text x="47.8" y="157.4" dy=".35em" text-anchor="end" textLength="33.1" lengthAdjust="spacingAndGlyphs" transform="rotate(316.88 142.2 157.4)">N-Acetylaspartylglutamic acid</text>
<text x="47.8" y="157.4" dy=".35em" text-anchor="end" textLength="28.9" lengthAdjust="spacingAndGlyphs" transform="rotate(320.62 142.2 157.4)">gamma-Aminobutyric acid</text>
<text x="47.8" y="157.4" dy=".35em" text-anchor="end" textLength="31.5" lengthAdjust="spacingAndGlyphs" transform="rotate(324.38 142.2 157.4)">4-Hydroxyphenylpyruvic acid</text>
<text x="47.8" y="157.4" dy=".35em" text-anchor="end" textLength="23.4" lengthAdjust="spacingAndGlyphs" transform="rotate(328.12 142.2 157.4)">Argininosuccinic acid</text>
<text x="47.8" y="157.4" dy=".35em" text-anchor="end" textLength="40.4" lengthAdjust="spacingAndGlyphs" transform="rotate(331.88 142.2 157.4)">N-Methyl-2-pyridone-5-carboxamide</text>
<text x="47.8" y="157.4" dy=".35em" text-anchor="end" textLength="38.8" lengthAdjust="spacingAndGlyphs" transform="rotate(335.62 142.2 157.4)">Purine nucleosides and analogues</text>
<text x="47.8" y="157.4" dy=".35em" text-anchor="end" textLength="24.0" lengthAdjust="spacingAndGlyphs" transform="rotate(339.38 142.2 157.4)">2-Hydroxybutyric acid</text>
<text x="47.8" y="157.4" dy=".35em" text-anchor="end" textLength="29.3" lengthAdjust="spacingAndGlyphs" transform="rotate(343.12 142.2 157.4)">Fatty acids and conjugates</text>
<text x="47.8" y="157.4" dy=".35em" text-anchor="end" textLength="38.8" lengthAdjust="spacingAndGlyphs" transform="rotate(346.88 142.2 157.4)">3-(4-Hydroxyphenyl)propionic acid</text>
<text x="47.8" y="157.4" dy=".35em" text-anchor="end" textLength="39.4" lengthAdjust="spacingAndGlyphs" transform="rotate(350.62 142.2 157.4)">Tricarboxylic acids and derivatives</text>
<text x="47.8" y="157.4" dy=".35em" text-anchor="end" textLength="44.7" lengthAdjust="spacingAndGlyphs" transform="rotate(354.38 142.2 157.4)">1-Palmitoyl-sn-glycero-3-phosphocholine</text>
<text x="47.8" y="157.4" dy=".35em" text-anchor="end" textLength="32.9" lengthAdjust="spacingAndGlyphs" transform="rotate(358.12 142.2 157.4)">Dihydroxyacetone phosphate</text>
<text x="47.8" y="157.4" dy=".35em" text-anchor="end" textLength="42.5" lengthAdjust="spacingAndGlyphs" transform="rotate(361.88 142.2 157.4)">Amino acids, peptides, and analogues</text>
<text x="47.8" y="157.4" dy=".35em" text-anchor="end" textLength="38.9" lengthAdjust="spacingAndGlyphs" transform="rotate(365.62 142.2 157.4)">2-Hydroxy-4-methylpentanoic acid</text>
<text x="47.8" y="157.4" dy=".35em" text-anchor="end" textLength="30.4" lengthAdjust="spacingAndGlyphs" transform="rotate(369.38 142.2 157.4)">Sphingomyelin (d18:1/16:0)</text>
<text x="47.8" y="157.4" dy=".35em" text-anchor="end" textLength="37.1" lengthAdjust="spacingAndGlyphs" transform="rotate(373.12 142.2 157.4)">Deoxyguanosine monophosphate</text>
<text x="47.8" y="157.4" dy=".35em" text-anchor="end" textLength="44.1" lengthAdjust="spacingAndGlyphs" transform="rotate(376.88 142.2 157.4)">N-Acetyl-D-glucosamine 6-phosphate</text>
<text x="47.8" y="157.4" dy=".35em" text-anchor="end" textLength="43.4" lengthAdjust="spacingAndGlyphs" transform="rotate(380.62 142.2 157.4)">1-Stearoyl-2-arachidonoyl-sn-glycerol</text>
<text x="47.8" y="157.4" dy=".35em" text-anchor="end" textLength="35.5" lengthAdjust="spacingAndGlyphs" transform="rotate(384.38 142.2 157.4)">L-gamma-Glutamyl-L-isoleucine</text>
<text x="47.8" y="157.4" dy=".35em" text-anchor="end" textLength="37.6" lengthAdjust="spacingAndGlyphs" transform="rotate(388.12 142.2 157.4)">Dicarboxylic acids and derivatives</text>
<text x="47.8" y="157.4" dy=".35em" text-anchor="end" textLength="24.5" lengthAdjust="spacingAndGlyphs" transform="rotate(391.88 142.2 157.4)">Ceramide (d18:1/16:0)</text>
<text x="47.8" y="157.4" dy=".35em" text-anchor="end" textLength="29.5" lengthAdjust="spacingAndGlyphs" transform="rotate(395.62 142.2 157.4)">5-Hydroxyindoleacetic acid</text>
<text x="47.8" y="157.4" dy=".35em" text-anchor="end" textLength="42.8" lengthAdjust="spacingAndGlyphs" transform="rotate(399.38 142.2 157.4)">Lysophosphatidylethanolamine (18:1)</text>
<text x="47.8" y="157.4" dy=".35em" text-anchor="end" textLength="33.8" lengthAdjust="spacingAndGlyphs" transform="rotate(403.12 142.2 157.4)">Phosphatidylserine (18:0/20:4)</text>
<text x="47.8" y="157.4" dy=".35em" text-anchor="end" textLength="28.1" lengthAdjust="spacingAndGlyphs" transform="rotate(406.88 142.2 157.4)">3-Hydroxyanthranilic acid</text>
<text x="47.8" y="157.4" dy=".35em" text-anchor="end" textLength="37.2" lengthAdjust="spacingAndGlyphs" transform="rotate(410.62 142.2 157.4)">Guanosine diphosphate mannose</text>
<text x="47.8" y="157.4" dy=".35em" text-anchor="end" textLength="41.2" lengthAdjust="spacingAndGlyphs" transform="rotate(414.38 142.2 157.4)">Ceramide phosphoethanolamine</text>
<text x="47.8" y="157.4" dy=".35em" text-anchor="end" textLength="40.9" lengthAdjust="spacingAndGlyphs" transform="rotate(418.12 142.2 157.4)">Carboxylic acids and derivatives</text>
<text x="47.8" y="157.4" dy=".35em" text-anchor="end" textLength="33.8" lengthAdjust="spacingAndGlyphs" transform="rotate(421.88 142.2 157.4)">Glycerophosphoethanolamines</text>
<text x="47.8" y="157.4" dy=".35em" text-anchor="end" textLength="35.7" lengthAdjust="spacingAndGlyphs" transform="rotate(425.62 142.2 157.4)">Phosphatidylcholine (16:0/18:2)</text>
<text x="47.8" y="157.4" dy=".35em" text-anchor="end" textLength="37.7" lengthAdjust="spacingAndGlyphs" transform="rotate(429.38 142.2 157.4)">Steroids and steroid derivatives</text>
<text x="47.8" y="157.4" dy=".35em" text-anchor="end" textLength="44.7" lengthAdjust="spacingAndGlyphs" transform="rotate(433.12 142.2 157.4)">Sugar acids and Sugar alcohols and derivatives</text>
<text x="47.8" y="157.4" dy=".35em" text-anchor="end" textLength="50.0" lengthAdjust="spacingAndGlyphs" transform="rotate(436.88 142.2 157.4)">Organic nitrogen compounds</text>
<text x="47.8" y="157.4" dy=".35em" text-anchor="end" textLength="35.6" lengthAdjust="spacingAndGlyphs" transform="rotate(440.62 142.2 157.4)">Cytidine diphosphate choline</text>
<text x="47.8" y="157.4" dy=".35em" text-anchor="end" textLength="53.0" lengthAdjust="spacingAndGlyphs" transform="rotate(444.38 142.2 157.4)">Organooxygen compounds</text>
<text x="47.8" y="157.4" dy=".35em" text-anchor="end" textLength="26.7" lengthAdjust="spacingAndGlyphs" transform="rotate(448.12 142.2 157.4)">Platelet-activating factor</text>
</g>
<g font-size="2.20" fill="#333">
<text x="507.6" y="141.7" dy=".35em" textLength="40.9" lengthAdjust="spacingAndGlyphs" transform="rotate(0.79 416.5 141.7)">1-Palmitoyl-sn-glycero-3-phosphocholine</text>
<text x="507.6" y="141.7" dy=".35em" textLength="40.7" lengthAdjust="spacingAndGlyphs" transform="rotate(2.38 416.5 141.7)">Amino acids, peptides, and analogues</text>
<text x="507.6" y="141.7" dy=".35em" textLength="18.2" lengthAdjust="spacingAndGlyphs" transform="rotate(3.97 416.5 141.7)">Cholesterol sulfate</text>
<text x="507.6" y="141.7" dy=".35em" textLength="18.9" lengthAdjust="spacingAndGlyphs" transform="rotate(5.56 416.5 141.7)">Imidazopyrimidines</text>
<text x="507.6" y="141.7" dy=".35em" textLength="37.9" lengthAdjust="spacingAndGlyphs" transform="rotate(7.15 416.5 141.7)">N-Acetyl-D-glucosamine 6-phosphate</text>
<text x="507.6" y="141.7" dy=".35em" textLength="35.3" lengthAdjust="spacingAndGlyphs" transform="rotate(8.74 416.5 141.7)">N-Methyl-2-pyridone-5-carboxamide</text>
<text x="507.6" y="141.7" dy=".35em" textLength="33.7" lengthAdjust="spacingAndGlyphs" transform="rotate(10.32 416.5 141.7)">Purine nucleosides and analogues</text>
<text x="507.6" y="141.7" dy=".35em" textLength="24.6" lengthAdjust="spacingAndGlyphs" transform="rotate(11.91 416.5 141.7)">alpha-Ketoisovaleric acid</text>
<text x="507.6" y="141.7" dy=".35em" textLength="32.1" lengthAdjust="spacingAndGlyphs" transform="rotate(13.50 416.5 141.7)">Ceramide phosphoethanolamine</text>
<text x="507.6" y="141.7" dy=".35em" textLength="32.1" lengthAdjust="spacingAndGlyphs" transform="rotate(15.09 416.5 141.7)">Carboxylic acids and derivatives</text>
<text x="507.6" y="141.7" dy=".35em" textLength="31.4" lengthAdjust="spacingAndGlyphs" transform="rotate(16.68 416.5 141.7)">L-gamma-Glutamyl-L-isoleucine</text>
<text x="507.6" y="141.7" dy=".35em" textLength="20.8" lengthAdjust="spacingAndGlyphs" transform="rotate(18.26 416.5 141.7)">7-Dehydrocholesterol</text>
<text x="507.6" y="141.7" dy=".35em" textLength="27.7" lengthAdjust="spacingAndGlyphs" transform="rotate(19.85 416.5 141.7)">Quaternary ammonium salts</text>
<text x="507.6" y="141.7" dy=".35em" textLength="26.7" lengthAdjust="spacingAndGlyphs" transform="rotate(21.44 416.5 141.7)">Flavin adenine dinucleotide</text>
<text x="507.6" y="141.7" dy=".35em" textLength="35.0" lengthAdjust="spacingAndGlyphs" transform="rotate(23.03 416.5 141.7)">Lysophosphatidylethanolamine (18:1)</text>
<text x="507.6" y="141.7" dy=".35em" textLength="41.9" lengthAdjust="spacingAndGlyphs" transform="rotate(24.62 416.5 141.7)">Sugar acids and Sugar alcohols and derivatives</text>
<text x="507.6" y="141.7" dy=".35em" textLength="40.7" lengthAdjust="spacingAndGlyphs" transform="rotate(26.21 416.5 141.7)">1-Stearoyl-2-arachidonoyl-sn-glycerol</text>
<text x="507.6" y="141.7" dy=".35em" textLength="30.5" lengthAdjust="spacingAndGlyphs" transform="rotate(27.79 416.5 141.7)">Steroids and steroid derivatives</text>
<text x="507.6" y="141.7" dy=".35em" textLength="28.0" lengthAdjust="spacingAndGlyphs" transform="rotate(29.38 416.5 141.7)">Lysophosphatidic acid (18:1)</text>
<text x="507.6" y="141.7" dy=".35em" textLength="23.6" lengthAdjust="spacingAndGlyphs" transform="rotate(30.97 416.5 141.7)">Platelet-activating factor</text>
<text x="507.6" y="141.7" dy=".35em" textLength="17.7" lengthAdjust="spacingAndGlyphs" transform="rotate(32.56 416.5 141.7)">Dihydroorotic acid</text>
<text x="507.6" y="141.7" dy=".35em" textLength="17.5" lengthAdjust="spacingAndGlyphs" transform="rotate(34.15 416.5 141.7)">Propionylcarnitine</text>
<text x="507.6" y="141.7" dy=".35em" textLength="28.5" lengthAdjust="spacingAndGlyphs" transform="rotate(35.74 416.5 141.7)">Dihydroxyacetone phosphate</text>
<text x="507.6" y="141.7" dy=".35em" textLength="24.8" lengthAdjust="spacingAndGlyphs" transform="rotate(37.32 416.5 141.7)">S-Adenosylhomocysteine</text>
<text x="507.6" y="141.7" dy=".35em" textLength="26.4" lengthAdjust="spacingAndGlyphs" transform="rotate(38.91 416.5 141.7)">gamma-Glutamyl-L-leucine</text>
<text x="507.6" y="141.7" dy=".35em" textLength="39.3" lengthAdjust="spacingAndGlyphs" transform="rotate(40.50 416.5 141.7)">3-(4-Hydroxyphenyl)propionic acid</text>
<text x="507.6" y="141.7" dy=".35em" textLength="30.0" lengthAdjust="spacingAndGlyphs" transform="rotate(42.09 416.5 141.7)">Phosphatidylserine (18:0/20:4)</text>
<text x="507.6" y="141.7" dy=".35em" textLength="30.9" lengthAdjust="spacingAndGlyphs" transform="rotate(43.68 416.5 141.7)">Phosphatidylcholine (16:0/18:2)</text>
<text x="507.6" y="141.7" dy=".35em" textLength="22.8" lengthAdjust="spacingAndGlyphs" transform="rotate(45.26 416.5 141.7)">Glycerophosphoinositol</text>
<text x="507.6" y="141.7" dy=".35em" textLength="17.4" lengthAdjust="spacingAndGlyphs" transform="rotate(46.85 416.5 141.7)">Phenylethylamine</text>
<text x="507.6" y="141.7" dy=".35em" textLength="25.0" lengthAdjust="spacingAndGlyphs" transform="rotate(48.44 416.5 141.7)">Sphingosine 1-phosphate</text>
<text x="507.6" y="141.7" dy=".35em" textLength="20.2" lengthAdjust="spacingAndGlyphs" transform="rotate(50.03 416.5 141.7)">Vanillylmandelic acid</text>
<text x="507.6" y="141.7" dy=".35em" textLength="29.7" lengthAdjust="spacingAndGlyphs" transform="rotate(51.62 416.5 141.7)">Hydroxy acids and derivatives</text>
<text x="507.6" y="141.7" dy=".35em" textLength="42.0" lengthAdjust="spacingAndGlyphs" transform="rotate(53.21 416.5 141.7)">Tricarboxylic acids and derivatives</text>
<text x="507.6" y="141.7" dy=".35em" textLength="33.8" lengthAdjust="spacingAndGlyphs" transform="rotate(54.79 416.5 141.7)">2-Hydroxy-4-methylpentanoic acid</text>
<text x="507.6" y="141.7" dy=".35em" textLength="21.4" lengthAdjust="spacingAndGlyphs" transform="rotate(56.38 416.5 141.7)">Carbamoyl phosphate</text>
<text x="507.6" y="141.7" dy=".35em" textLength="39.3" lengthAdjust="spacingAndGlyphs" transform="rotate(57.97 416.5 141.7)">Dicarboxylic acids and derivatives</text>
<text x="507.6" y="141.7" dy=".35em" textLength="36.9" lengthAdjust="spacingAndGlyphs" transform="rotate(59.56 416.5 141.7)">Guanosine diphosphate mannose</text>
<text x="507.6" y="141.7" dy=".35em" textLength="35.4" lengthAdjust="spacingAndGlyphs" transform="rotate(61.15 416.5 141.7)">Deoxyguanosine monophosphate</text>
<text x="507.6" y="141.7" dy=".35em" textLength="40.0" lengthAdjust="spacingAndGlyphs" transform="rotate(62.74 416.5 141.7)">Glycerophosphoethanolamines</text>
<text x="507.6" y="141.7" dy=".35em" textLength="36.5" lengthAdjust="spacingAndGlyphs" transform="rotate(64.32 416.5 141.7)">N-Acetylaspartylglutamic acid</text>
<text x="507.6" y="141.7" dy=".35em" textLength="37.4" lengthAdjust="spacingAndGlyphs" transform="rotate(65.91 416.5 141.7)">Organic nitrogen compounds</text>
<text x="507.6" y="141.7" dy=".35em" textLength="26.3" lengthAdjust="spacingAndGlyphs" transform="rotate(67.50 416.5 141.7)">5-Hydroxyindoleacetic acid</text>
<text x="507.6" y="141.7" dy=".35em" textLength="42.7" lengthAdjust="spacingAndGlyphs" transform="rotate(69.09 416.5 141.7)">Cytidine diphosphate choline</text>
<text x="507.6" y="141.7" dy=".35em" textLength="42.4" lengthAdjust="spacingAndGlyphs" transform="rotate(70.68 416.5 141.7)">4-Hydroxyphenylpyruvic acid</text>
<text x="507.6" y="141.7" dy=".35em" textLength="21.7" lengthAdjust="spacingAndGlyphs" transform="rotate(72.26 416.5 141.7)">Pyridoxal 5-phosphate</text>
<text x="507.6" y="141.7" dy=".35em" textLength="37.4" lengthAdjust="spacingAndGlyphs" transform="rotate(73.85 416.5 141.7)">Benzoic acid and derivatives</text>
<text x="507.6" y="141.7" dy=".35em" textLength="36.5" lengthAdjust="spacingAndGlyphs" transform="rotate(75.44 416.5 141.7)">Uridine diphosphate glucose</text>
<text x="507.6" y="141.7" dy=".35em" textLength="30.0" lengthAdjust="spacingAndGlyphs" transform="rotate(77.03 416.5 141.7)">Sphingomyelin (d18:1/16:0)</text>
<text x="507.6" y="141.7" dy=".35em" textLength="31.9" lengthAdjust="spacingAndGlyphs" transform="rotate(78.62 416.5 141.7)">Organooxygen compounds</text>
<text x="507.6" y="141.7" dy=".35em" textLength="31.0" lengthAdjust="spacingAndGlyphs" transform="rotate(80.21 416.5 141.7)">Inositol 1,4,5-trisphosphate</text>
<text x="507.6" y="141.7" dy=".35em" textLength="42.9" lengthAdjust="spacingAndGlyphs" transform="rotate(81.79 416.5 141.7)">Fatty acids and conjugates</text>
<text x="507.6" y="141.7" dy=".35em" textLength="31.6" lengthAdjust="spacingAndGlyphs" transform="rotate(83.38 416.5 141.7)">Fructose 1,6-bisphosphate</text>
<text x="507.6" y="141.7" dy=".35em" textLength="40.7" lengthAdjust="spacingAndGlyphs" transform="rotate(84.97 416.5 141.7)">Phosphatidylinositol (38:4)</text>
<text x="507.6" y="141.7" dy=".35em" textLength="27.9" lengthAdjust="spacingAndGlyphs" transform="rotate(86.56 416.5 141.7)">Keto acids and derivatives</text>
<text x="507.6" y="141.7" dy=".35em" textLength="42.5" lengthAdjust="spacingAndGlyphs" transform="rotate(88.15 416.5 141.7)">gamma-Aminobutyric acid</text>
<text x="507.6" y="141.7" dy=".35em" textLength="43.2" lengthAdjust="spacingAndGlyphs" transform="rotate(89.74 416.5 141.7)">4-Guanidinobutanoic acid</text>
<text x="325.4" y="141.7" dy=".35em" text-anchor="end" textLength="31.0" lengthAdjust="spacingAndGlyphs" transform="rotate(271.32 416.5 141.7)">Organic phosphoric acids</text>
<text x="325.4" y="141.7" dy=".35em" text-anchor="end" textLength="33.9" lengthAdjust="spacingAndGlyphs" transform="rotate(272.91 416.5 141.7)">Diacylglycerol (16:0/18:1)</text>
<text x="325.4" y="141.7" dy=".35em" text-anchor="end" textLength="43.4" lengthAdjust="spacingAndGlyphs" transform="rotate(274.50 416.5 141.7)">3-Hydroxyanthranilic acid</text>
<text x="325.4" y="141.7" dy=".35em" text-anchor="end" textLength="37.9" lengthAdjust="spacingAndGlyphs" transform="rotate(276.09 416.5 141.7)">Glycerophosphocholines</text>
<text x="325.4" y="141.7" dy=".35em" text-anchor="end" textLength="31.3" lengthAdjust="spacingAndGlyphs" transform="rotate(277.68 416.5 141.7)">5-Methyltetrahydrofolate</text>
<text x="325.4" y="141.7" dy=".35em" text-anchor="end" textLength="24.0" lengthAdjust="spacingAndGlyphs" transform="rotate(279.26 416.5 141.7)">N-Acetylneuraminic acid</text>
<text x="325.4" y="141.7" dy=".35em" text-anchor="end" textLength="26.7" lengthAdjust="spacingAndGlyphs" transform="rotate(280.85 416.5 141.7)">Monoacylglycerol (18:1)</text>
<text x="325.4" y="141.7" dy=".35em" text-anchor="end" textLength="36.7" lengthAdjust="spacingAndGlyphs" transform="rotate(282.44 416.5 141.7)">N-Acetyl-L-aspartic acid</text>
<text x="325.4" y="141.7" dy=".35em" text-anchor="end" textLength="22.3" lengthAdjust="spacingAndGlyphs" transform="rotate(284.03 416.5 141.7)">2-Arachidonoylglycerol</text>
<text x="325.4" y="141.7" dy=".35em" text-anchor="end" textLength="42.0" lengthAdjust="spacingAndGlyphs" transform="rotate(285.62 416.5 141.7)">N-Acetyl-L-aspartic acid</text>
<text x="325.4" y="141.7" dy=".35em" text-anchor="end" textLength="24.8" lengthAdjust="spacingAndGlyphs" transform="rotate(287.21 416.5 141.7)">Trimethylamine N-oxide</text>
<text x="325.4" y="141.7" dy=".35em" text-anchor="end" textLength="41.8" lengthAdjust="spacingAndGlyphs" transform="rotate(288.79 416.5 141.7)">Trimethylamine N-oxide</text>
<text x="325.4" y="141.7" dy=".35em" text-anchor="end" textLength="25.8" lengthAdjust="spacingAndGlyphs" transform="rotate(290.38 416.5 141.7)">Glycerophosphocholine</text>
<text x="325.4" y="141.7" dy=".35em" text-anchor="end" textLength="42.7" lengthAdjust="spacingAndGlyphs" transform="rotate(291.97 416.5 141.7)">Imidazolepropionic acid</text>
<text x="325.4" y="141.7" dy=".35em" text-anchor="end" textLength="36.0" lengthAdjust="spacingAndGlyphs" transform="rotate(293.56 416.5 141.7)">Chenodeoxycholic acid</text>
<text x="325.4" y="141.7" dy=".35em" text-anchor="end" textLength="62.0" lengthAdjust="spacingAndGlyphs" transform="rotate(295.15 416.5 141.7)">Indoles and derivatives</text>
<text x="325.4" y="141.7" dy=".35em" text-anchor="end" textLength="30.8" lengthAdjust="spacingAndGlyphs" transform="rotate(296.74 416.5 141.7)">Pyrimidine nucleosides</text>
<text x="325.4" y="141.7" dy=".35em" text-anchor="end" textLength="34.1" lengthAdjust="spacingAndGlyphs" transform="rotate(298.32 416.5 141.7)">Docosahexaenoic acid</text>
<text x="325.4" y="141.7" dy=".35em" text-anchor="end" textLength="32.4" lengthAdjust="spacingAndGlyphs" transform="rotate(299.91 416.5 141.7)">Phenylpropanoic acids</text>
<text x="325.4" y="141.7" dy=".35em" text-anchor="end" textLength="25.2" lengthAdjust="spacingAndGlyphs" transform="rotate(301.50 416.5 141.7)">Palmitoylethanolamide</text>
<text x="325.4" y="141.7" dy=".35em" text-anchor="end" textLength="22.4" lengthAdjust="spacingAndGlyphs" transform="rotate(303.09 416.5 141.7)">S-Adenosylmethionine</text>
<text x="325.4" y="141.7" dy=".35em" text-anchor="end" textLength="30.1" lengthAdjust="spacingAndGlyphs" transform="rotate(304.68 416.5 141.7)">Flavin mononucleotide</text>
<text x="325.4" y="141.7" dy=".35em" text-anchor="end" textLength="40.7" lengthAdjust="spacingAndGlyphs" transform="rotate(306.26 416.5 141.7)">Ceramide (d18:1/16:0)</text>
<text x="325.4" y="141.7" dy=".35em" text-anchor="end" textLength="32.7" lengthAdjust="spacingAndGlyphs" transform="rotate(307.85 416.5 141.7)">3-Hydroxybutyric acid</text>
<text x="325.4" y="141.7" dy=".35em" text-anchor="end" textLength="18.7" lengthAdjust="spacingAndGlyphs" transform="rotate(309.44 416.5 141.7)">2-Aminoadipic acid</text>
<text x="325.4" y="141.7" dy=".35em" text-anchor="end" textLength="37.6" lengthAdjust="spacingAndGlyphs" transform="rotate(311.03 416.5 141.7)">2-Hydroxybutyric acid</text>
<text x="325.4" y="141.7" dy=".35em" text-anchor="end" textLength="35.3" lengthAdjust="spacingAndGlyphs" transform="rotate(312.62 416.5 141.7)">Nicotinamide riboside</text>
<text x="325.4" y="141.7" dy=".35em" text-anchor="end" textLength="40.1" lengthAdjust="spacingAndGlyphs" transform="rotate(314.21 416.5 141.7)">Glucose 6-phosphate</text>
<text x="325.4" y="141.7" dy=".35em" text-anchor="end" textLength="21.9" lengthAdjust="spacingAndGlyphs" transform="rotate(315.79 416.5 141.7)">Glycerol 3-phosphate</text>
<text x="325.4" y="141.7" dy=".35em" text-anchor="end" textLength="36.2" lengthAdjust="spacingAndGlyphs" transform="rotate(317.38 416.5 141.7)">Glycerol 3-phosphate</text>
<text x="325.4" y="141.7" dy=".35em" text-anchor="end" textLength="18.7" lengthAdjust="spacingAndGlyphs" transform="rotate(318.97 416.5 141.7)">N-Acetylputrescine</text>
<text x="325.4" y="141.7" dy=".35em" text-anchor="end" textLength="34.1" lengthAdjust="spacingAndGlyphs" transform="rotate(320.56 416.5 141.7)">5-Aminolevulinic acid</text>
<text x="325.4" y="141.7" dy=".35em" text-anchor="end" textLength="24.4" lengthAdjust="spacingAndGlyphs" transform="rotate(322.15 416.5 141.7)">N-Acetylglucosamine</text>
<text x="325.4" y="141.7" dy=".35em" text-anchor="end" textLength="23.2" lengthAdjust="spacingAndGlyphs" transform="rotate(323.74 416.5 141.7)">Argininosuccinic acid</text>
<text x="325.4" y="141.7" dy=".35em" text-anchor="end" textLength="40.3" lengthAdjust="spacingAndGlyphs" transform="rotate(325.32 416.5 141.7)">N-Acetyl-L-glutamine</text>
<text x="325.4" y="141.7" dy=".35em" text-anchor="end" textLength="20.3" lengthAdjust="spacingAndGlyphs" transform="rotate(326.91 416.5 141.7)">Triacylglycerol (52:2)</text>
<text x="325.4" y="141.7" dy=".35em" text-anchor="end" textLength="31.3" lengthAdjust="spacingAndGlyphs" transform="rotate(328.50 416.5 141.7)">Guanidinoacetic acid</text>
<text x="325.4" y="141.7" dy=".35em" text-anchor="end" textLength="40.2" lengthAdjust="spacingAndGlyphs" transform="rotate(330.09 416.5 141.7)">N,N-Dimethylglycine</text>
<text x="325.4" y="141.7" dy=".35em" text-anchor="end" textLength="24.2" lengthAdjust="spacingAndGlyphs" transform="rotate(331.68 416.5 141.7)">Prolylhydroxyproline</text>
<text x="325.4" y="141.7" dy=".35em" text-anchor="end" textLength="23.3" lengthAdjust="spacingAndGlyphs" transform="rotate(333.26 416.5 141.7)">Ribose 5-phosphate</text>
<text x="325.4" y="141.7" dy=".35em" text-anchor="end" textLength="41.3" lengthAdjust="spacingAndGlyphs" transform="rotate(334.85 416.5 141.7)">Oleoylethanolamide</text>
<text x="325.4" y="141.7" dy=".35em" text-anchor="end" textLength="29.2" lengthAdjust="spacingAndGlyphs" transform="rotate(336.44 416.5 141.7)">Phenylacetylglycine</text>
<text x="325.4" y="141.7" dy=".35em" text-anchor="end" textLength="37.2" lengthAdjust="spacingAndGlyphs" transform="rotate(338.03 416.5 141.7)">Indole-3-acetic acid</text>
<text x="325.4" y="141.7" dy=".35em" text-anchor="end" textLength="18.8" lengthAdjust="spacingAndGlyphs" transform="rotate(339.62 416.5 141.7)">Phenylpyruvic acid</text>
<text x="325.4" y="141.7" dy=".35em" text-anchor="end" textLength="27.9" lengthAdjust="spacingAndGlyphs" transform="rotate(341.21 416.5 141.7)">Homogentisic acid</text>
<text x="325.4" y="141.7" dy=".35em" text-anchor="end" textLength="22.8" lengthAdjust="spacingAndGlyphs" transform="rotate(342.79 416.5 141.7)">N6-Acetyl-L-lysine</text>
<text x="325.4" y="141.7" dy=".35em" text-anchor="end" textLength="36.5" lengthAdjust="spacingAndGlyphs" transform="rotate(344.38 416.5 141.7)">Pyroglutamic acid</text>
<text x="325.4" y="141.7" dy=".35em" text-anchor="end" textLength="20.5" lengthAdjust="spacingAndGlyphs" transform="rotate(345.97 416.5 141.7)">Homovanillic acid</text>
<text x="325.4" y="141.7" dy=".35em" text-anchor="end" textLength="44.5" lengthAdjust="spacingAndGlyphs" transform="rotate(347.56 416.5 141.7)">LysoPC(16:0/0:0)</text>
<text x="325.4" y="141.7" dy=".35em" text-anchor="end" textLength="19.1" lengthAdjust="spacingAndGlyphs" transform="rotate(349.15 416.5 141.7)">LysoPC(18:0/0:0)</text>
<text x="325.4" y="141.7" dy=".35em" text-anchor="end" textLength="38.5" lengthAdjust="spacingAndGlyphs" transform="rotate(350.74 416.5 141.7)">Normetanephrine</text>
<text x="325.4" y="141.7" dy=".35em" text-anchor="end" textLength="18.9" lengthAdjust="spacingAndGlyphs" transform="rotate(352.32 416.5 141.7)">LysoPE(20:4/0:0)</text>
<text x="325.4" y="141.7" dy=".35em" text-anchor="end" textLength="25.2" lengthAdjust="spacingAndGlyphs" transform="rotate(353.91 416.5 141.7)">alpha-Tocopherol</text>
<text x="325.4" y="141.7" dy=".35em" text-anchor="end" textLength="40.4" lengthAdjust="spacingAndGlyphs" transform="rotate(355.50 416.5 141.7)">Thromboxane B2</text>
<text x="325.4" y="141.7" dy=".35em" text-anchor="end" textLength="22.4" lengthAdjust="spacingAndGlyphs" transform="rotate(357.09 416.5 141.7)">Prostaglandin E2</text>
<text x="325.4" y="141.7" dy=".35em" text-anchor="end" textLength="23.0" lengthAdjust="spacingAndGlyphs" transform="rotate(358.68 416.5 141.7)">Cardiolipin (72:8)</text>
<text x="325.4" y="141.7" dy=".35em" text-anchor="end" textLength="36.6" lengthAdjust="spacingAndGlyphs" transform="rotate(360.26 416.5 141.7)">N-Acetylornithine</text>
<text x="325.4" y="141.7" dy=".35em" text-anchor="end" textLength="28.3" lengthAdjust="spacingAndGlyphs" transform="rotate(361.85 416.5 141.7)">Phosphocreatine</text>
<text x="325.4" y="141.7" dy=".35em" text-anchor="end" textLength="19.0" lengthAdjust="spacingAndGlyphs" transform="rotate(363.44 416.5 141.7)">Deoxycholic acid</text>
<text x="325.4" y="141.7" dy=".35em" text-anchor="end" textLength="44.2" lengthAdjust="spacingAndGlyphs" transform="rotate(365.03 416.5 141.7)">3-Methylhistidine</text>
<text x="325.4" y="141.7" dy=".35em" text-anchor="end" textLength="21.8" lengthAdjust="spacingAndGlyphs" transform="rotate(366.62 416.5 141.7)">Xanthurenic acid</text>
<text x="325.4" y="141.7" dy=".35em" text-anchor="end" textLength="18.6" lengthAdjust="spacingAndGlyphs" transform="rotate(368.21 416.5 141.7)">Cyanocobalamin</text>
<text x="325.4" y="141.7" dy=".35em" text-anchor="end" textLength="26.7" lengthAdjust="spacingAndGlyphs" transform="rotate(369.79 416.5 141.7)">Phenyllactic acid</text>
<text x="325.4" y="141.7" dy=".35em" text-anchor="end" textLength="33.7" lengthAdjust="spacingAndGlyphs" transform="rotate(371.38 416.5 141.7)">N-Acetylhistidine</text>
<text x="325.4" y="141.7" dy=".35em" text-anchor="end" textLength="36.9" lengthAdjust="spacingAndGlyphs" transform="rotate(372.97 416.5 141.7)">Pantothenic acid</text>
<text x="325.4" y="141.7" dy=".35em" text-anchor="end" textLength="20.4" lengthAdjust="spacingAndGlyphs" transform="rotate(374.56 416.5 141.7)">Arachidonic acid</text>
<text x="325.4" y="141.7" dy=".35em" text-anchor="end" textLength="26.1" lengthAdjust="spacingAndGlyphs" transform="rotate(376.15 416.5 141.7)">Isovalerylglycine</text>
<text x="325.4" y="141.7" dy=".35em" text-anchor="end" textLength="18.1" lengthAdjust="spacingAndGlyphs" transform="rotate(377.74 416.5 141.7)">Acetoacetic acid</text>
<text x="325.4" y="141.7" dy=".35em" text-anchor="end" textLength="28.8" lengthAdjust="spacingAndGlyphs" transform="rotate(379.32 416.5 141.7)">Porphobilinogen</text>
<text x="325.4" y="141.7" dy=".35em" text-anchor="end" textLength="36.9" lengthAdjust="spacingAndGlyphs" transform="rotate(380.91 416.5 141.7)">Glycocholic acid</text>
<text x="325.4" y="141.7" dy=".35em" text-anchor="end" textLength="36.1" lengthAdjust="spacingAndGlyphs" transform="rotate(382.50 416.5 141.7)">5-Methylcytidine</text>
<text x="325.4" y="141.7" dy=".35em" text-anchor="end" textLength="40.1" lengthAdjust="spacingAndGlyphs" transform="rotate(384.09 416.5 141.7)">L-Phenylalanine</text>
<text x="325.4" y="141.7" dy=".35em" text-anchor="end" textLength="36.2" lengthAdjust="spacingAndGlyphs" transform="rotate(385.68 416.5 141.7)">Taurocholic acid</text>
<text x="325.4" y="141.7" dy=".35em" text-anchor="end" textLength="38.8" lengthAdjust="spacingAndGlyphs" transform="rotate(387.26 416.5 141.7)">Oxoglutaric acid</text>
<text x="325.4" y="141.7" dy=".35em" text-anchor="end" textLength="34.7" lengthAdjust="spacingAndGlyphs" transform="rotate(388.85 416.5 141.7)">Phosphocholine</text>
<text x="325.4" y="141.7" dy=".35em" text-anchor="end" textLength="28.7" lengthAdjust="spacingAndGlyphs" transform="rotate(390.44 416.5 141.7)">4-Pyridoxic acid</text>
<text x="325.4" y="141.7" dy=".35em" text-anchor="end" textLength="22.3" lengthAdjust="spacingAndGlyphs" transform="rotate(392.03 416.5 141.7)">p-Cresol sulfate</text>
<text x="325.4" y="141.7" dy=".35em" text-anchor="end" textLength="32.9" lengthAdjust="spacingAndGlyphs" transform="rotate(393.62 416.5 141.7)">L-Glutamic acid</text>
<text x="325.4" y="141.7" dy=".35em" text-anchor="end" textLength="24.2" lengthAdjust="spacingAndGlyphs" transform="rotate(395.21 416.5 141.7)">Coproporphyrin</text>
<text x="325.4" y="141.7" dy=".35em" text-anchor="end" textLength="18.7" lengthAdjust="spacingAndGlyphs" transform="rotate(396.79 416.5 141.7)">Glucuronic acid</text>
<text x="325.4" y="141.7" dy=".35em" text-anchor="end" textLength="27.0" lengthAdjust="spacingAndGlyphs" transform="rotate(398.38 416.5 141.7)">Norepinephrine</text>
<text x="325.4" y="141.7" dy=".35em" text-anchor="end" textLength="60.0" lengthAdjust="spacingAndGlyphs" transform="rotate(399.97 416.5 141.7)">Lithocholic acid</text>
<text x="325.4" y="141.7" dy=".35em" text-anchor="end" textLength="18.9" lengthAdjust="spacingAndGlyphs" transform="rotate(401.56 416.5 141.7)">Anthranilic acid</text>
<text x="325.4" y="141.7" dy=".35em" text-anchor="end" textLength="29.6" lengthAdjust="spacingAndGlyphs" transform="rotate(403.15 416.5 141.7)">Leukotriene B4</text>
<text x="325.4" y="141.7" dy=".35em" text-anchor="end" textLength="24.8" lengthAdjust="spacingAndGlyphs" transform="rotate(404.74 416.5 141.7)">Sedoheptulose</text>
<text x="325.4" y="141.7" dy=".35em" text-anchor="end" textLength="27.5" lengthAdjust="spacingAndGlyphs" transform="rotate(406.32 416.5 141.7)">Hydroxyproline</text>
<text x="325.4" y="141.7" dy=".35em" text-anchor="end" textLength="18.7" lengthAdjust="spacingAndGlyphs" transform="rotate(407.91 416.5 141.7)">L-Aspartic acid</text>
<text x="325.4" y="141.7" dy=".35em" text-anchor="end" textLength="37.2" lengthAdjust="spacingAndGlyphs" transform="rotate(409.50 416.5 141.7)">Dimethylamine</text>
<text x="325.4" y="141.7" dy=".35em" text-anchor="end" textLength="21.0" lengthAdjust="spacingAndGlyphs" transform="rotate(411.09 416.5 141.7)">Kynurenic acid</text>
<text x="325.4" y="141.7" dy=".35em" text-anchor="end" textLength="28.6" lengthAdjust="spacingAndGlyphs" transform="rotate(412.68 416.5 141.7)">Quinolinic acid</text>
<text x="325.4" y="141.7" dy=".35em" text-anchor="end" textLength="24.2" lengthAdjust="spacingAndGlyphs" transform="rotate(414.26 416.5 141.7)">Acetylcarnitine</text>
<text x="325.4" y="141.7" dy=".35em" text-anchor="end" textLength="15.1" lengthAdjust="spacingAndGlyphs" transform="rotate(415.85 416.5 141.7)">Corticosterone</text>
<text x="325.4" y="141.7" dy=".35em" text-anchor="end" textLength="26.8" lengthAdjust="spacingAndGlyphs" transform="rotate(417.44 416.5 141.7)">Indoxyl sulfate</text>
<text x="325.4" y="141.7" dy=".35em" text-anchor="end" textLength="17.5" lengthAdjust="spacingAndGlyphs" transform="rotate(419.03 416.5 141.7)">Homocysteine</text>
<text x="325.4" y="141.7" dy=".35em" text-anchor="end" textLength="15.7" lengthAdjust="spacingAndGlyphs" transform="rotate(420.62 416.5 141.7)">PC(16:0/18:1)</text>
<text x="325.4" y="141.7" dy=".35em" text-anchor="end" textLength="15.2" lengthAdjust="spacingAndGlyphs" transform="rotate(422.21 416.5 141.7)">PC(18:0/20:4)</text>
<text x="325.4" y="141.7" dy=".35em" text-anchor="end" textLength="18.1" lengthAdjust="spacingAndGlyphs" transform="rotate(423.79 416.5 141.7)">PE(18:0/22:6)</text>
<text x="325.4" y="141.7" dy=".35em" text-anchor="end" textLength="16.8" lengthAdjust="spacingAndGlyphs" transform="rotate(425.38 416.5 141.7)">Saccharopine</text>
<text x="325.4" y="141.7" dy=".35em" text-anchor="end" textLength="28.8" lengthAdjust="spacingAndGlyphs" transform="rotate(426.97 416.5 141.7)">Ethanolamine</text>
<text x="325.4" y="141.7" dy=".35em" text-anchor="end" textLength="26.2" lengthAdjust="spacingAndGlyphs" transform="rotate(428.56 416.5 141.7)">Hypoxanthine</text>
<text x="325.4" y="141.7" dy=".35em" text-anchor="end" textLength="37.0" lengthAdjust="spacingAndGlyphs" transform="rotate(430.15 416.5 141.7)">Metanephrine</text>
<text x="325.4" y="141.7" dy=".35em" text-anchor="end" textLength="36.1" lengthAdjust="spacingAndGlyphs" transform="rotate(431.74 416.5 141.7)">Pipecolic acid</text>
<text x="325.4" y="141.7" dy=".35em" text-anchor="end" textLength="37.7" lengthAdjust="spacingAndGlyphs" transform="rotate(433.32 416.5 141.7)">Cystathionine</text>
<text x="325.4" y="141.7" dy=".35em" text-anchor="end" textLength="20.5" lengthAdjust="spacingAndGlyphs" transform="rotate(434.91 416.5 141.7)">Urocanic acid</text>
<text x="325.4" y="141.7" dy=".35em" text-anchor="end" textLength="25.5" lengthAdjust="spacingAndGlyphs" transform="rotate(436.50 416.5 141.7)">Progesterone</text>
<text x="325.4" y="141.7" dy=".35em" text-anchor="end" textLength="21.1" lengthAdjust="spacingAndGlyphs" transform="rotate(438.09 416.5 141.7)">Gluconic acid</text>
<text x="325.4" y="141.7" dy=".35em" text-anchor="end" textLength="29.2" lengthAdjust="spacingAndGlyphs" transform="rotate(439.68 416.5 141.7)">Threonic acid</text>
<text x="325.4" y="141.7" dy=".35em" text-anchor="end" textLength="30.1" lengthAdjust="spacingAndGlyphs" transform="rotate(441.26 416.5 141.7)">Ascorbic acid</text>
<text x="325.4" y="141.7" dy=".35em" text-anchor="end" textLength="34.4" lengthAdjust="spacingAndGlyphs" transform="rotate(442.85 416.5 141.7)">Acetylcholine</text>
<text x="325.4" y="141.7" dy=".35em" text-anchor="end" textLength="32.4" lengthAdjust="spacingAndGlyphs" transform="rotate(444.44 416.5 141.7)">Succinic acid</text>
<text x="325.4" y="141.7" dy=".35em" text-anchor="end" textLength="21.9" lengthAdjust="spacingAndGlyphs" transform="rotate(446.03 416.5 141.7)">Picolinic acid</text>
<text x="325.4" y="141.7" dy=".35em" text-anchor="end" textLength="25.9" lengthAdjust="spacingAndGlyphs" transform="rotate(447.62 416.5 141.7)">Nicotinamide</text>
<text x="325.4" y="141.7" dy=".35em" text-anchor="end" textLength="28.6" lengthAdjust="spacingAndGlyphs" transform="rotate(449.21 416.5 141.7)">Hippuric acid</text>
</g>
<path d="M181.0 161.2A39.0 39.0 0 0 1 180.7 163.8M181.0 161.2L183.1 161.4M180.7 163.8L182.8 164.1M179.7 162.3A37.8 37.8 0 0 1 179.0 166.0M179.7 162.3L180.9 162.5M179.0 166.0L182.2 166.7M178.6 164.0A37.0 37.0 0 0 1 177.6 168.1M178.6 164.0L179.4 164.2M177.6 168.1L181.5 169.3M178.2 158.6A36.0 36.0 0 0 1 177.2 165.9M178.2 158.6L183.3 158.7M177.2 165.9L178.2 166.1M178.4 171.0A38.7 38.7 0 0 1 177.5 173.4M178.4 171.0L180.7 171.9M177.5 173.4L179.6 174.4M177.2 171.9A37.9 37.9 0 0 1 175.6 175.3M177.2 171.9L178.0 172.2M175.6 175.3L178.4 176.8M176.8 162.1A34.9 34.9 0 0 1 173.7 172.3M176.8 162.1L177.9 162.2M173.7 172.3L176.5 173.6M174.7 177.6A38.2 38.2 0 0 1 173.3 179.7M174.7 177.6L177.1 179.1M173.3 179.7L175.6 181.3M172.3 182.1A39.0 39.0 0 0 1 170.6 184.0M172.3 182.1L174.0 183.5M170.6 184.0L172.2 185.5M173.2 178.1A37.3 37.3 0 0 1 170.2 182.0M173.2 178.1L174.0 178.6M170.2 182.0L171.5 183.1M174.9 167.1A34.1 34.1 0 0 1 169.2 178.2M174.9 167.1L175.7 167.3M169.2 178.2L171.8 180.1M165.0 189.3A39.2 39.2 0 0 1 162.9 190.7M165.0 189.3L166.1 190.8M162.9 190.7L163.9 192.3M163.5 189.3A38.4 38.4 0 0 1 160.3 191.3M163.5 189.3L164.0 190.0M160.3 191.3L161.6 193.6M166.1 186.5A37.6 37.6 0 0 1 161.5 189.7M166.1 186.5L168.3 189.2M161.5 189.7L161.9 190.3M167.4 184.3A36.8 36.8 0 0 1 163.4 187.5M167.4 184.3L170.3 187.4M163.4 187.5L163.9 188.1M158.1 192.4A38.5 38.5 0 0 1 155.7 193.4M158.1 192.4L159.2 194.8M155.7 193.4L156.7 195.9M153.3 194.0A38.2 38.2 0 0 1 150.9 194.6M153.3 194.0L154.1 196.7M150.9 194.6L151.5 197.4M156.2 191.1A36.5 36.5 0 0 1 151.6 192.7M156.2 191.1L156.9 192.9M151.6 192.7L152.1 194.3M164.5 184.8A35.4 35.4 0 0 1 153.6 190.9M164.5 184.8L165.4 186.0M153.6 190.9L153.9 192.0M169.8 171.5A31.0 31.0 0 0 1 157.2 184.5M169.8 171.5L172.6 172.9M157.2 184.5L159.3 188.4M148.6 195.9A39.0 39.0 0 0 1 146.0 196.2M148.6 195.9L148.9 198.0M146.0 196.2L146.2 198.3M143.5 196.5A39.1 39.1 0 0 1 140.9 196.5M143.5 196.5L143.5 198.5M140.9 196.5L140.9 198.5M142.2 195.3A37.9 37.9 0 0 1 138.5 195.1M142.2 195.3L142.2 196.5M138.5 195.1L138.2 198.3M147.0 193.7A36.6 36.6 0 0 1 140.4 193.9M147.0 193.7L147.3 196.1M140.4 193.9L140.3 195.2M133.4 195.2A38.8 38.8 0 0 1 130.9 194.5M133.4 195.2L132.9 197.4M130.9 194.5L130.3 196.7M136.1 194.2A37.3 37.3 0 0 1 132.5 193.5M136.1 194.2L135.5 198.0M132.5 193.5L132.2 194.9M124.1 191.3A38.4 38.4 0 0 1 121.9 190.0M124.1 191.3L122.8 193.6M121.9 190.0L120.5 192.3M126.7 191.6A37.6 37.6 0 0 1 123.4 189.9M126.7 191.6L125.2 194.8M123.4 189.9L123.0 190.6M129.2 191.8A36.8 36.8 0 0 1 125.4 190.1M129.2 191.8L127.7 195.9M125.4 190.1L125.0 190.8M134.6 192.4A35.8 35.8 0 0 1 127.7 190.1M134.6 192.4L134.3 193.9M127.7 190.1L127.3 191.0M143.6 191.3A33.9 33.9 0 0 1 131.7 189.7M143.6 191.3L143.7 193.9M131.7 189.7L131.1 191.4M119.4 189.2A39.1 39.1 0 0 1 117.4 187.6M119.4 189.2L118.3 190.8M117.4 187.6L116.1 189.2M118.9 187.7A38.3 38.3 0 0 1 116.0 185.3M118.9 187.7L118.4 188.4M116.0 185.3L114.1 187.4M118.0 186.0A37.5 37.5 0 0 1 114.9 183.0M118.0 186.0L117.5 186.6M114.9 183.0L112.2 185.5M138.1 187.1A30.0 30.0 0 0 1 121.5 179.1M138.1 187.1L137.6 191.0M121.5 179.1L116.4 184.5M160.9 175.5A26.0 26.0 0 0 1 130.9 180.8M160.9 175.5L164.5 178.9M130.9 180.8L129.2 184.4M112.7 181.6A38.2 38.2 0 0 1 111.1 179.7M112.7 181.6L110.4 183.5M111.1 179.7L108.8 181.3M112.5 180.2A37.4 37.4 0 0 1 110.4 177.2M112.5 180.2L111.9 180.7M110.4 177.2L107.3 179.1M107.2 173.2A38.4 38.4 0 0 1 106.3 170.9M107.2 173.2L104.8 174.4M106.3 170.9L103.7 171.9M109.2 175.0A37.4 37.4 0 0 1 107.7 171.7M109.2 175.0L106.0 176.8M107.7 171.7L106.7 172.1M105.0 166.1A38.2 38.2 0 0 1 104.5 163.6M105.0 166.1L102.2 166.7M104.5 163.6L101.6 164.1M106.5 168.2A37.3 37.3 0 0 1 105.6 164.7M106.5 168.2L102.9 169.3M105.6 164.7L104.7 164.9M109.5 172.9A36.1 36.1 0 0 1 107.1 166.2M109.5 172.9L108.4 173.4M107.1 166.2L106.0 166.5M113.8 177.1A34.6 34.6 0 0 1 109.6 169.0M113.8 177.1L111.4 178.7M109.6 169.0L108.2 169.6M103.6 161.2A38.8 38.8 0 0 1 103.4 158.7M103.6 161.2L101.3 161.4M103.4 158.7L101.1 158.7M103.3 156.1A39.0 39.0 0 0 1 103.4 153.6M103.3 156.1L101.1 156.1M103.4 153.6L101.3 153.4M105.7 159.8A36.5 36.5 0 0 1 105.7 155.0M105.7 159.8L103.5 159.9M105.7 155.0L103.3 154.9M104.3 148.6A38.9 38.9 0 0 1 105.0 146.1M104.3 148.6L102.2 148.1M105.0 146.1L102.9 145.5M105.4 147.5A38.1 38.1 0 0 1 106.5 144.0M105.4 147.5L104.6 147.3M106.5 144.0L103.7 142.9M105.5 151.3A37.2 37.2 0 0 1 106.8 146.0M105.5 151.3L101.6 150.7M106.8 146.0L105.9 145.7M106.8 141.3A38.9 38.9 0 0 1 107.9 139.1M106.8 141.3L104.8 140.4M107.9 139.1L106.0 138.0M106.9 148.9A36.4 36.4 0 0 1 109.6 141.3M106.9 148.9L106.1 148.7M109.6 141.3L107.3 140.2M107.8 157.4A34.4 34.4 0 0 1 109.9 145.7M107.8 157.4L105.7 157.4M109.9 145.7L108.0 145.0M112.3 132.9A38.7 38.7 0 0 1 114.0 131.0M112.3 132.9L110.4 131.3M114.0 131.0L112.2 129.3M111.4 135.4A37.9 37.9 0 0 1 113.7 132.4M111.4 135.4L108.8 133.5M113.7 132.4L113.1 131.9M110.7 137.8A37.1 37.1 0 0 1 113.2 134.4M110.7 137.8L107.3 135.7M113.2 134.4L112.6 133.9M116.1 129.5A38.2 38.2 0 0 1 118.0 127.9M116.1 129.5L114.1 127.4M118.0 127.9L116.1 125.6M119.9 126.2A38.3 38.3 0 0 1 121.9 124.8M119.9 126.2L118.3 124.0M121.9 124.8L120.5 122.5M117.6 129.3A37.3 37.3 0 0 1 121.5 126.4M117.6 129.3L117.0 128.7M121.5 126.4L120.9 125.5M113.6 137.3A35.0 35.0 0 0 1 120.9 129.6M113.6 137.3L111.9 136.1M120.9 129.6L119.5 127.8M109.2 151.6A33.5 33.5 0 0 1 118.0 134.2M109.2 151.6L108.4 151.5M118.0 134.2L117.0 133.2M116.8 170.4A28.5 28.5 0 0 1 116.8 144.5M116.8 170.4L111.4 173.2M116.8 144.5L112.3 142.2M126.1 121.9A38.9 38.9 0 0 1 128.5 121.0M126.1 121.9L125.2 120.0M128.5 121.0L127.7 118.9M124.2 123.8A38.1 38.1 0 0 1 127.6 122.2M124.2 123.8L122.8 121.2M127.6 122.2L127.3 121.4M126.2 123.7A37.3 37.3 0 0 1 131.4 121.7M126.2 123.7L125.9 122.9M131.4 121.7L130.3 118.1M133.4 119.8A38.6 38.6 0 0 1 135.9 119.3M133.4 119.8L132.9 117.4M135.9 119.3L135.5 116.8M138.4 118.9A38.7 38.7 0 0 1 140.9 118.8M138.4 118.9L138.2 116.5M140.9 118.8L140.9 116.3M135.1 121.6A36.5 36.5 0 0 1 139.8 121.0M135.1 121.6L134.7 119.5M139.8 121.0L139.7 118.8M130.0 125.7A34.0 34.0 0 0 1 137.8 123.7M130.0 125.7L128.8 122.6M137.8 123.7L137.4 121.2M116.7 157.5A25.5 25.5 0 0 1 135.9 132.7M116.7 157.5L113.7 157.5M135.9 132.7L133.8 124.5M142.2 157.4L146.8 183.0M142.2 157.4L122.0 141.8" fill="none" stroke="#111" stroke-width="0.55"/>
<path d="M455.7 142.2A39.2 39.2 0 0 1 455.6 143.3M455.7 142.2L457.7 142.3M455.6 143.3L457.7 143.4M455.6 144.4A39.2 39.2 0 0 1 455.5 145.5M455.6 144.4L457.6 144.6M455.5 145.5L457.5 145.7M454.8 142.8A38.3 38.3 0 0 1 454.7 144.9M454.8 142.8L455.7 142.8M454.7 144.9L455.5 145.0M456.9 147.9A40.8 40.8 0 0 1 456.7 149.0M456.9 147.9L457.2 148.0M456.7 149.0L457.0 149.1M456.0 148.3A40.0 40.0 0 0 1 455.7 150.0M456.0 148.3L456.8 148.5M455.7 150.0L456.8 150.2M455.4 146.6A39.2 39.2 0 0 1 455.1 149.0M455.4 146.6L457.4 146.8M455.1 149.0L455.8 149.1M455.4 151.0A40.0 40.0 0 0 1 455.2 152.1M455.4 151.0L456.6 151.3M455.2 152.1L456.3 152.4M454.5 151.4A39.2 39.2 0 0 1 454.1 153.0M454.5 151.4L455.3 151.6M454.1 153.0L456.0 153.5M454.5 147.7A38.4 38.4 0 0 1 453.6 152.0M454.5 147.7L455.3 147.8M453.6 152.0L454.3 152.2M454.2 155.3A40.0 40.0 0 0 1 453.8 156.3M454.2 155.3L455.3 155.7M453.8 156.3L454.8 156.8M453.8 154.0A39.2 39.2 0 0 1 453.2 155.5M453.8 154.0L455.6 154.6M453.2 155.5L454.0 155.8M452.8 154.5A38.4 38.4 0 0 1 451.9 156.7M452.8 154.5L453.5 154.8M451.9 156.7L454.4 157.8M453.3 149.7A37.6 37.6 0 0 1 451.6 155.3M453.3 149.7L454.1 149.8M451.6 155.3L452.3 155.6M453.3 143.7A36.8 36.8 0 0 1 451.8 152.3M453.3 143.7L454.7 143.8M451.8 152.3L452.6 152.5M452.2 158.0A39.2 39.2 0 0 1 451.7 159.0M452.2 158.0L454.0 158.9M451.7 159.0L453.5 159.9M451.4 160.1A39.4 39.4 0 0 1 450.8 161.0M451.4 160.1L452.9 160.9M450.8 161.0L452.4 161.9M451.2 158.2A38.4 38.4 0 0 1 450.2 160.1M451.2 158.2L451.9 158.5M450.2 160.1L451.1 160.6M450.9 163.7A40.8 40.8 0 0 1 450.3 164.6M450.9 163.7L451.2 163.9M450.3 164.6L450.6 164.8M449.6 165.5A40.8 40.8 0 0 1 449.0 166.4M449.6 165.5L449.9 165.8M449.0 166.4L449.3 166.7M449.9 163.7A40.0 40.0 0 0 1 448.7 165.5M449.9 163.7L450.6 164.1M448.7 165.5L449.3 166.0M450.1 161.9A39.2 39.2 0 0 1 448.6 164.2M450.1 161.9L451.8 162.9M448.6 164.2L449.3 164.6M447.2 166.5A39.4 39.4 0 0 1 446.5 167.3M447.2 166.5L448.6 167.6M446.5 167.3L447.8 168.5M448.7 162.6A38.4 38.4 0 0 1 446.1 166.2M448.7 162.6L449.4 163.0M446.1 166.2L446.8 166.9M450.0 158.8A37.6 37.6 0 0 1 446.8 164.0M450.0 158.8L450.7 159.1M446.8 164.0L447.4 164.5M446.0 168.3A39.7 39.7 0 0 1 445.2 169.1M446.0 168.3L447.1 169.3M445.2 169.1L446.3 170.2M444.5 170.0A39.8 39.8 0 0 1 443.7 170.7M444.5 170.0L445.5 171.0M443.7 170.7L444.7 171.8M444.6 167.8A38.3 38.3 0 0 1 443.1 169.3M444.6 167.8L445.6 168.7M443.1 169.3L444.1 170.4M447.8 161.0A36.8 36.8 0 0 1 442.8 167.5M447.8 161.0L448.5 161.4M442.8 167.5L443.8 168.5M451.3 147.8A35.3 35.3 0 0 1 444.3 163.5M451.3 147.8L452.8 148.1M444.3 163.5L445.5 164.4M442.5 171.1A39.3 39.3 0 0 1 441.7 171.8M442.5 171.1L443.8 172.5M441.7 171.8L443.0 173.3M441.4 173.1A40.1 40.1 0 0 1 440.5 173.8M441.4 173.1L442.1 174.0M440.5 173.8L441.2 174.7M439.6 174.4A40.1 40.1 0 0 1 438.7 175.1M439.6 174.4L440.3 175.4M438.7 175.1L439.3 176.0M440.5 172.8A39.3 39.3 0 0 1 438.7 174.1M440.5 172.8L440.9 173.4M438.7 174.1L439.1 174.8M441.6 170.8A38.5 38.5 0 0 1 439.1 172.8M441.6 170.8L442.1 171.4M439.1 172.8L439.6 173.5M437.5 175.2A39.5 39.5 0 0 1 436.5 175.8M437.5 175.2L438.4 176.6M436.5 175.8L437.4 177.2M435.7 176.5A39.7 39.7 0 0 1 434.7 177.0M435.7 176.5L436.4 177.8M434.7 177.0L435.4 178.3M436.5 174.7A38.5 38.5 0 0 1 434.6 175.7M436.5 174.7L437.0 175.5M434.6 175.7L435.2 176.7M439.9 171.2A37.7 37.7 0 0 1 435.1 174.4M439.9 171.2L440.4 171.9M435.1 174.4L435.6 175.2M433.4 176.9A39.1 39.1 0 0 1 432.5 177.4M433.4 176.9L434.4 178.8M432.5 177.4L433.3 179.3M431.6 178.1A39.4 39.4 0 0 1 430.6 178.5M431.6 178.1L432.3 179.8M430.6 178.5L431.2 180.2M432.5 176.2A38.1 38.1 0 0 1 430.6 177.1M432.5 176.2L433.0 177.2M430.6 177.1L431.1 178.3M428.6 179.7A39.8 39.8 0 0 1 427.6 180.0M428.6 179.7L429.1 180.9M427.6 180.0L428.0 181.3M429.3 178.2A38.7 38.7 0 0 1 427.8 178.7M429.3 178.2L430.1 180.6M427.8 178.7L428.1 179.8M431.2 175.9A37.3 37.3 0 0 1 428.1 177.1M431.2 175.9L431.6 176.7M428.1 177.1L428.5 178.4M436.7 171.6A36.1 36.1 0 0 1 429.3 175.4M436.7 171.6L437.6 172.9M429.3 175.4L429.7 176.6M446.6 155.1A33.0 33.0 0 0 1 431.7 171.0M446.6 155.1L448.8 156.1M431.7 171.0L433.1 173.7M426.6 180.5A40.0 40.0 0 0 1 425.5 180.7M426.6 180.5L426.9 181.6M425.5 180.7L425.7 181.8M425.8 179.8A39.2 39.2 0 0 1 424.2 180.2M425.8 179.8L426.0 180.6M424.2 180.2L424.6 182.1M423.4 181.6A40.4 40.4 0 0 1 422.3 181.7M423.4 181.6L423.5 182.3M422.3 181.7L422.4 182.5M422.7 180.9A39.6 39.6 0 0 1 421.1 181.1M422.7 180.9L422.8 181.7M421.1 181.1L421.2 182.6M418.9 182.1A40.4 40.4 0 0 1 417.8 182.1M418.9 182.1L419.0 182.8M417.8 182.1L417.8 182.9M420.0 181.2A39.6 39.6 0 0 1 418.3 181.3M420.0 181.2L420.1 182.7M418.3 181.3L418.4 182.1M421.8 180.2A38.8 38.8 0 0 1 419.1 180.5M421.8 180.2L421.9 181.0M419.1 180.5L419.2 181.3M415.6 181.3A39.6 39.6 0 0 1 414.5 181.3M415.6 181.3L415.5 182.9M414.5 181.3L414.4 182.8M416.7 180.5A38.8 38.8 0 0 1 415.1 180.5M416.7 180.5L416.7 182.9M415.1 180.5L415.0 181.3M420.4 179.6A38.0 38.0 0 0 1 415.9 179.7M420.4 179.6L420.4 180.3M415.9 179.7L415.9 180.5M424.6 178.1A37.2 37.2 0 0 1 418.1 178.9M424.6 178.1L425.0 180.0M418.1 178.9L418.1 179.7M412.3 181.0A39.6 39.6 0 0 1 411.2 180.9M412.3 181.0L412.1 182.7M411.2 180.9L411.0 182.5M413.5 180.3A38.8 38.8 0 0 1 411.9 180.2M413.5 180.3L413.3 182.8M411.9 180.2L411.8 181.0M410.1 180.8A39.6 39.6 0 0 1 409.0 180.6M410.1 180.8L409.9 182.4M409.0 180.6L408.7 182.2M409.8 179.7A38.6 38.6 0 0 1 408.2 179.4M409.8 179.7L409.6 180.7M408.2 179.4L407.6 181.9M412.8 179.0A37.5 37.5 0 0 1 409.2 178.4M412.8 179.0L412.7 180.3M409.2 178.4L409.0 179.5M421.3 177.8A36.4 36.4 0 0 1 411.1 177.7M421.3 177.8L421.4 178.6M411.1 177.7L411.0 178.8M406.7 180.9A40.4 40.4 0 0 1 405.6 180.6M406.7 180.9L406.5 181.7M405.6 180.6L405.4 181.4M406.4 179.9A39.6 39.6 0 0 1 404.8 179.5M406.4 179.9L406.2 180.7M404.8 179.5L404.3 181.1M403.7 179.3A39.7 39.7 0 0 1 402.7 178.9M403.7 179.3L403.2 180.7M402.7 178.9L402.2 180.3M405.8 179.0A38.8 38.8 0 0 1 403.5 178.2M405.8 179.0L405.6 179.7M403.5 178.2L403.2 179.1M400.7 178.0A39.6 39.6 0 0 1 399.7 177.5M400.7 178.0L400.0 179.5M399.7 177.5L399.0 179.0M402.0 177.6A38.8 38.8 0 0 1 400.5 177.0M402.0 177.6L401.1 179.9M400.5 177.0L400.2 177.7M404.9 177.8A38.0 38.0 0 0 1 401.6 176.6M404.9 177.8L404.7 178.6M401.6 176.6L401.3 177.3M398.7 177.1A39.6 39.6 0 0 1 397.7 176.6M398.7 177.1L398.0 178.5M397.7 176.6L397.0 178.0M396.7 176.0A39.6 39.6 0 0 1 395.8 175.5M396.7 176.0L396.0 177.4M395.8 175.5L395.0 176.8M398.6 176.1A38.8 38.8 0 0 1 396.7 175.1M398.6 176.1L398.2 176.8M396.7 175.1L396.3 175.8M394.7 175.2A40.0 40.0 0 0 1 393.8 174.6M394.7 175.2L394.0 176.2M393.8 174.6L393.1 175.6M394.7 174.2A39.2 39.2 0 0 1 393.3 173.3M394.7 174.2L394.2 174.9M393.3 173.3L392.1 174.9M391.9 173.3A40.0 40.0 0 0 1 391.1 172.6M391.9 173.3L391.2 174.2M391.1 172.6L390.3 173.5M392.0 172.3A39.2 39.2 0 0 1 390.7 171.3M392.0 172.3L391.5 173.0M390.7 171.3L389.5 172.8M394.4 173.1A38.4 38.4 0 0 1 391.9 171.2M394.4 173.1L394.0 173.8M391.9 171.2L391.4 171.8M398.2 174.5A37.6 37.6 0 0 1 393.6 171.5M398.2 174.5L397.6 175.6M393.6 171.5L393.2 172.2M389.1 171.5A40.5 40.5 0 0 1 388.2 170.8M389.1 171.5L388.6 172.0M388.2 170.8L387.8 171.2M389.2 170.6A39.7 39.7 0 0 1 388.0 169.4M389.2 170.6L388.6 171.1M388.0 169.4L387.0 170.4M389.2 169.4A38.9 38.9 0 0 1 387.8 168.1M389.2 169.4L388.6 170.0M387.8 168.1L386.2 169.6M386.5 167.8A39.7 39.7 0 0 1 385.8 166.9M386.5 167.8L385.4 168.7M385.8 166.9L384.7 167.9M385.0 166.2A39.9 39.9 0 0 1 384.4 165.3M385.0 166.2L384.0 167.0M384.4 165.3L383.3 166.1M386.8 166.9A38.9 38.9 0 0 1 385.4 165.2M386.8 166.9L386.2 167.4M385.4 165.2L384.7 165.7M389.1 168.2A38.1 38.1 0 0 1 386.7 165.5M389.1 168.2L388.5 168.8M386.7 165.5L386.1 166.0M383.7 163.1A39.2 39.2 0 0 1 383.1 162.2M383.7 163.1L382.0 164.2M383.1 162.2L381.4 163.2M384.9 163.5A38.4 38.4 0 0 1 384.1 162.2M384.9 163.5L382.6 165.1M384.1 162.2L383.4 162.6M388.5 166.4A37.3 37.3 0 0 1 385.4 162.3M388.5 166.4L387.9 166.9M385.4 162.3L384.5 162.9M396.4 172.2A36.5 36.5 0 0 1 387.5 163.9M396.4 172.2L395.9 173.1M387.5 163.9L386.8 164.4M404.0 175.2A35.7 35.7 0 0 1 392.2 167.9M404.0 175.2L403.2 177.3M392.2 167.9L391.6 168.4M416.2 174.7A33.0 33.0 0 0 1 399.2 169.8M416.2 174.7L416.2 178.1M399.2 169.8L397.7 172.1M438.3 162.3A30.0 30.0 0 0 1 408.2 170.5M438.3 162.3L440.5 164.3M408.2 170.5L407.4 173.4M381.5 160.6A39.8 39.8 0 0 1 381.0 159.6M381.5 160.6L380.2 161.2M381.0 159.6L379.7 160.2M382.8 161.1A38.8 38.8 0 0 1 382.1 159.6M382.8 161.1L380.8 162.2M382.1 159.6L381.2 160.1M380.2 158.7A40.1 40.1 0 0 1 379.7 157.7M380.2 158.7L379.2 159.2M379.7 157.7L378.7 158.2M380.7 157.9A39.3 39.3 0 0 1 380.0 156.4M380.7 157.9L380.0 158.2M380.0 156.4L378.3 157.1M383.3 159.9A37.9 37.9 0 0 1 381.7 156.6M383.3 159.9L382.5 160.4M381.7 156.6L380.4 157.2M378.7 155.7A40.3 40.3 0 0 1 378.4 154.7M378.7 155.7L377.9 156.0M378.4 154.7L377.5 155.0M378.0 153.6A40.3 40.3 0 0 1 377.7 152.5M378.0 153.6L377.1 153.9M377.7 152.5L376.8 152.8M379.3 154.9A39.5 39.5 0 0 1 378.6 152.9M379.3 154.9L378.5 155.2M378.6 152.9L377.9 153.1M378.2 151.3A39.5 39.5 0 0 1 377.9 150.2M378.2 151.3L376.5 151.7M377.9 150.2L376.3 150.6M379.7 153.7A38.7 38.7 0 0 1 378.8 150.6M379.7 153.7L378.9 153.9M378.8 150.6L378.1 150.7M376.7 148.2A40.3 40.3 0 0 1 376.6 147.1M376.7 148.2L375.8 148.3M376.6 147.1L375.7 147.2M377.7 149.1A39.5 39.5 0 0 1 377.4 147.5M377.7 149.1L376.0 149.5M377.4 147.5L376.6 147.6M376.4 146.0A40.3 40.3 0 0 1 376.3 144.9M376.4 146.0L375.5 146.1M376.3 144.9L375.4 144.9M374.6 141.5A41.9 41.9 0 0 1 374.6 140.3M374.6 141.5L375.3 141.5M374.6 140.3L375.3 140.4M375.4 142.6A41.1 41.1 0 0 1 375.4 140.9M375.4 142.6L375.3 142.7M375.4 140.9L374.6 140.9M376.3 143.7A40.3 40.3 0 0 1 376.2 141.8M376.3 143.7L375.4 143.8M376.2 141.8L375.4 141.8M377.2 145.3A39.5 39.5 0 0 1 377.0 142.7M377.2 145.3L376.4 145.4M377.0 142.7L376.2 142.8M378.4 148.2A38.7 38.7 0 0 1 377.9 144.0M378.4 148.2L377.6 148.3M377.9 144.0L377.1 144.0M380.0 151.9A37.9 37.9 0 0 1 378.9 146.0M380.0 151.9L379.2 152.1M378.9 146.0L378.1 146.1M383.1 157.9A37.1 37.1 0 0 1 380.1 148.8M383.1 157.9L382.4 158.3M380.1 148.8L379.3 149.0M376.8 138.2A39.8 39.8 0 0 1 376.9 137.1M376.8 138.2L375.5 138.1M376.9 137.1L375.6 137.0M377.5 139.4A39.0 39.0 0 0 1 377.7 137.7M377.5 139.4L375.4 139.2M377.7 137.7L376.9 137.7M377.1 136.0A39.8 39.8 0 0 1 377.3 134.9M377.1 136.0L375.7 135.8M377.3 134.9L375.9 134.7M378.0 135.6A39.0 39.0 0 0 1 378.2 134.0M378.0 135.6L377.2 135.5M378.2 134.0L376.1 133.6M378.0 132.8A39.6 39.6 0 0 1 378.2 131.8M378.0 132.8L376.4 132.5M378.2 131.8L376.6 131.3M378.9 134.9A38.2 38.2 0 0 1 379.4 132.6M378.9 134.9L378.1 134.8M379.4 132.6L378.1 132.3M379.2 138.7A37.4 37.4 0 0 1 379.9 133.9M379.2 138.7L377.6 138.5M379.9 133.9L379.1 133.8M382.1 153.2A36.3 36.3 0 0 1 380.6 136.5M382.1 153.2L381.3 153.5M380.6 136.5L379.5 136.3M378.5 129.6A39.9 39.9 0 0 1 378.9 128.5M378.5 129.6L377.3 129.1M378.9 128.5L377.6 128.1M379.3 130.9A38.7 38.7 0 0 1 379.8 129.4M379.3 130.9L376.9 130.2M379.8 129.4L378.7 129.0M379.9 127.7A39.2 39.2 0 0 1 380.3 126.7M379.9 127.7L378.0 127.0M380.3 126.7L378.4 125.9M379.8 124.1A40.7 40.7 0 0 1 380.3 123.1M379.8 124.1L379.4 123.8M380.3 123.1L379.9 122.8M380.8 123.9A39.9 39.9 0 0 1 381.5 122.4M380.8 123.9L380.1 123.6M381.5 122.4L380.4 121.8M381.9 123.5A39.1 39.1 0 0 1 382.8 121.9M381.9 123.5L381.2 123.2M382.8 121.9L381.0 120.8M381.5 126.1A38.3 38.3 0 0 1 383.0 123.1M381.5 126.1L378.9 124.9M383.0 123.1L382.3 122.7M381.7 127.8A37.5 37.5 0 0 1 383.0 124.9M381.7 127.8L380.1 127.2M383.0 124.9L382.2 124.6M381.5 130.8A36.7 36.7 0 0 1 383.0 126.7M381.5 130.8L379.5 130.2M383.0 126.7L382.3 126.4M381.1 144.9A35.5 35.5 0 0 1 383.3 129.1M381.1 144.9L380.4 144.9M383.3 129.1L382.2 128.7M383.1 119.5A40.0 40.0 0 0 1 383.8 118.6M383.1 119.5L382.2 118.9M383.8 118.6L382.8 117.9M384.1 119.5A39.2 39.2 0 0 1 385.1 118.2M384.1 119.5L383.5 119.1M385.1 118.2L383.5 117.0M384.0 121.4A38.3 38.3 0 0 1 385.4 119.4M384.0 121.4L381.6 119.8M385.4 119.4L384.6 118.9M385.4 117.1A39.6 39.6 0 0 1 386.1 116.2M385.4 117.1L384.2 116.1M386.1 116.2L384.9 115.2M386.8 115.3A39.7 39.7 0 0 1 387.5 114.5M386.8 115.3L385.7 114.4M387.5 114.5L386.4 113.5M386.4 117.2A38.8 38.8 0 0 1 387.8 115.6M386.4 117.2L385.8 116.7M387.8 115.6L387.1 114.9M388.3 113.7A39.7 39.7 0 0 1 389.1 113.0M388.3 113.7L387.2 112.7M389.1 113.0L388.0 111.9M389.3 114.0A38.8 38.8 0 0 1 390.5 112.9M389.3 114.0L388.7 113.4M390.5 112.9L388.9 111.1M387.7 116.9A38.0 38.0 0 0 1 390.5 114.0M387.7 116.9L387.1 116.4M390.5 114.0L389.9 113.5M385.6 121.0A37.2 37.2 0 0 1 389.6 116.0M385.6 121.0L384.7 120.4M389.6 116.0L389.1 115.4M390.3 111.0A40.3 40.3 0 0 1 391.2 110.3M390.3 111.0L389.7 110.4M391.2 110.3L390.6 109.6M392.1 109.6A40.3 40.3 0 0 1 393.0 109.0M392.1 109.6L391.5 108.9M393.0 109.0L392.4 108.3M391.3 111.3A39.5 39.5 0 0 1 393.0 109.9M391.3 111.3L390.7 110.7M393.0 109.9L392.5 109.3M392.6 111.2A38.7 38.7 0 0 1 394.8 109.7M392.6 111.2L392.1 110.6M394.8 109.7L393.4 107.6M395.2 108.4A39.6 39.6 0 0 1 396.1 107.8M395.2 108.4L394.3 107.0M396.1 107.8L395.3 106.4M394.1 111.1A37.9 37.9 0 0 1 396.5 109.5M394.1 111.1L393.7 110.4M396.5 109.5L395.7 108.1M388.1 118.9A36.4 36.4 0 0 1 396.2 111.5M388.1 118.9L387.5 118.4M396.2 111.5L395.3 110.2M383.8 137.2A33.0 33.0 0 0 1 394.2 117.4M383.8 137.2L381.3 136.9M394.2 117.4L391.9 114.9M399.3 104.3A41.2 41.2 0 0 1 400.4 103.8M399.3 104.3L399.3 104.2M400.4 103.8L400.4 103.8M398.7 105.5A40.4 40.4 0 0 1 400.2 104.8M398.7 105.5L398.3 104.7M400.2 104.8L399.9 104.0M398.0 106.7A39.6 39.6 0 0 1 399.8 105.8M398.0 106.7L397.3 105.3M399.8 105.8L399.4 105.1M397.5 107.9A38.8 38.8 0 0 1 399.3 107.0M397.5 107.9L396.3 105.8M399.3 107.0L398.9 106.3M402.0 104.7A39.8 39.8 0 0 1 403.0 104.3M402.0 104.7L401.4 103.4M403.0 104.3L402.5 102.9M403.8 103.4A40.4 40.4 0 0 1 404.9 103.0M403.8 103.4L403.6 102.6M404.9 103.0L404.7 102.2M404.6 103.9A39.6 39.6 0 0 1 406.2 103.5M404.6 103.9L404.4 103.2M406.2 103.5L405.8 101.9M402.8 105.4A38.8 38.8 0 0 1 405.6 104.5M402.8 105.4L402.5 104.5M405.6 104.5L405.4 103.7M398.7 108.1A38.0 38.0 0 0 1 404.5 105.7M398.7 108.1L398.4 107.4M404.5 105.7L404.2 104.9M407.3 103.3A39.4 39.4 0 0 1 408.4 103.1M407.3 103.3L406.9 101.6M408.4 103.1L408.0 101.4M409.4 102.6A39.8 39.8 0 0 1 410.5 102.4M409.4 102.6L409.1 101.2M410.5 102.4L410.2 101.0M408.1 104.2A38.4 38.4 0 0 1 410.1 103.8M408.1 104.2L407.8 103.2M410.1 103.8L409.9 102.5M401.9 107.5A37.2 37.2 0 0 1 409.3 105.2M401.9 107.5L401.6 106.8M409.3 105.2L409.1 104.0M411.6 102.8A39.3 39.3 0 0 1 412.7 102.6M411.6 102.8L411.4 100.8M412.7 102.6L412.5 100.7M413.7 101.7A40.1 40.1 0 0 1 414.8 101.7M413.7 101.7L413.6 100.6M414.8 101.7L414.8 100.5M414.3 102.5A39.3 39.3 0 0 1 416.0 102.4M414.3 102.5L414.3 101.7M416.0 102.4L415.9 100.5M412.2 103.5A38.5 38.5 0 0 1 415.2 103.3M412.2 103.5L412.2 102.7M415.2 103.3L415.1 102.5M406.2 108.3A35.0 35.0 0 0 1 414.0 106.8M406.2 108.3L405.5 106.2M414.0 106.8L413.7 103.3M390.8 128.3A29.0 29.0 0 0 1 411.1 113.2M390.8 128.3L387.3 126.4M411.1 113.2L410.0 107.3M416.5 141.7L424.4 170.6M416.5 141.7L399.2 118.4" fill="none" stroke="#111" stroke-width="0.50"/>
<defs>
<linearGradient id="gR" x1="0" x2="1"><stop offset="0" stop-color="#f47a5e"/><stop offset="0.45" stop-color="#f7a58f"/><stop offset="1" stop-color="#fdebe5"/></linearGradient>
<linearGradient id="gT" x1="0" x2="1"><stop offset="0" stop-color="#2fa283"/><stop offset="0.45" stop-color="#7fc4b0"/><stop offset="1" stop-color="#e3f2ed"/></linearGradient>
<linearGradient id="gRb" x1="0" x2="1"><stop offset="0" stop-color="#f4785c"/><stop offset="0.1" stop-color="#f8a48f"/><stop offset="0.4" stop-color="#fcd3c6"/><stop offset="1" stop-color="#fff6f3"/></linearGradient>
<linearGradient id="gTb" x1="0" x2="1"><stop offset="0" stop-color="#2ea383"/><stop offset="0.1" stop-color="#5dbb9f"/><stop offset="0.4" stop-color="#b5e0d2"/><stop offset="1" stop-color="#f3faf8"/></linearGradient>
<linearGradient id="gLeg" x1="0" x2="0" y1="0" y2="1"><stop offset="0" stop-color="#f4755c"/><stop offset="0.3" stop-color="#f9b8a8"/><stop offset="0.5" stop-color="#ffffff"/><stop offset="0.7" stop-color="#b8dcd1"/><stop offset="1" stop-color="#4fa690"/></linearGradient>
<linearGradient id="gP" x1="0" x2="0" y1="0" y2="1"><stop offset="0" stop-color="#7a1a1a"/><stop offset="0.3" stop-color="#d0281f"/><stop offset="0.5" stop-color="#f0522c"/><stop offset="0.7" stop-color="#f89a3c"/><stop offset="1" stop-color="#fff6c0"/></linearGradient>
</defs>
<rect x="142.2" y="64.6" width="14" height="23.72" fill="url(#gR)"/>
<rect x="142.2" y="88.32" width="14" height="27.68" fill="url(#gT)"/>
<g font-size="2.80" fill="#3a2a28">
<text x="143.7" y="66.58" dy=".35em" textLength="7.3" lengthAdjust="spacingAndGlyphs">DCD6</text>
<text x="143.7" y="70.53" dy=".35em" textLength="7.3" lengthAdjust="spacingAndGlyphs">DCD5</text>
<text x="143.7" y="74.48" dy=".35em" textLength="7.3" lengthAdjust="spacingAndGlyphs">DCD4</text>
<text x="143.7" y="78.44" dy=".35em" textLength="7.3" lengthAdjust="spacingAndGlyphs">DCD3</text>
<text x="143.7" y="82.39" dy=".35em" textLength="7.3" lengthAdjust="spacingAndGlyphs">DCD2</text>
<text x="143.7" y="86.35" dy=".35em" textLength="7.3" lengthAdjust="spacingAndGlyphs">DCD1</text>
<text x="143.7" y="90.30" dy=".35em" textLength="8.6" lengthAdjust="spacingAndGlyphs">T2DM7</text>
<text x="143.7" y="94.25" dy=".35em" textLength="8.6" lengthAdjust="spacingAndGlyphs">T2DM6</text>
<text x="143.7" y="98.21" dy=".35em" textLength="8.6" lengthAdjust="spacingAndGlyphs">T2DM5</text>
<text x="143.7" y="102.16" dy=".35em" textLength="8.6" lengthAdjust="spacingAndGlyphs">T2DM4</text>
<text x="143.7" y="106.12" dy=".35em" textLength="8.6" lengthAdjust="spacingAndGlyphs">T2DM3</text>
<text x="143.7" y="110.07" dy=".35em" textLength="8.6" lengthAdjust="spacingAndGlyphs">T2DM2</text>
<text x="143.7" y="114.02" dy=".35em" textLength="8.6" lengthAdjust="spacingAndGlyphs">T2DM1</text>
</g>
<rect x="183.6" y="150.6" width="27.68" height="6.6" fill="#36a98a"/>
<rect x="211.28" y="150.6" width="23.72" height="6.6" fill="#f77a5c"/>
<rect x="416.5" y="51.8" width="14" height="22.34" fill="url(#gRb)"/>
<rect x="416.5" y="74.14" width="14" height="26.06" fill="url(#gTb)"/>
<g font-size="2.50" fill="#3a2a28">
<text x="418.0" y="53.66" dy=".35em" textLength="6.4" lengthAdjust="spacingAndGlyphs">DCD6</text>
<text x="418.0" y="57.38" dy=".35em" textLength="6.4" lengthAdjust="spacingAndGlyphs">DCD5</text>
<text x="418.0" y="61.11" dy=".35em" textLength="6.4" lengthAdjust="spacingAndGlyphs">DCD4</text>
<text x="418.0" y="64.83" dy=".35em" textLength="6.4" lengthAdjust="spacingAndGlyphs">DCD3</text>
<text x="418.0" y="68.55" dy=".35em" textLength="6.4" lengthAdjust="spacingAndGlyphs">DCD2</text>
<text x="418.0" y="72.28" dy=".35em" textLength="6.4" lengthAdjust="spacingAndGlyphs">DCD1</text>
<text x="418.0" y="76.00" dy=".35em" textLength="8.0" lengthAdjust="spacingAndGlyphs">T2DM7</text>
<text x="418.0" y="79.72" dy=".35em" textLength="8.0" lengthAdjust="spacingAndGlyphs">T2DM6</text>
<text x="418.0" y="83.45" dy=".35em" textLength="8.0" lengthAdjust="spacingAndGlyphs">T2DM5</text>
<text x="418.0" y="87.17" dy=".35em" textLength="8.0" lengthAdjust="spacingAndGlyphs">T2DM4</text>
<text x="418.0" y="90.89" dy=".35em" textLength="8.0" lengthAdjust="spacingAndGlyphs">T2DM3</text>
<text x="418.0" y="94.62" dy=".35em" textLength="8.0" lengthAdjust="spacingAndGlyphs">T2DM2</text>
<text x="418.0" y="98.34" dy=".35em" textLength="8.0" lengthAdjust="spacingAndGlyphs">T2DM1</text>
</g>
<rect x="458.0" y="134.9" width="26.06" height="6.6" fill="#36a98a"/>
<rect x="484.06" y="134.9" width="22.34" height="6.6" fill="#f77a5c"/>
<rect x="252.9" y="73.4" width="6.9" height="69.2" fill="url(#gLeg)"/>
<g font-size="5.5" fill="#333" text-anchor="end">
<text x="253.2" y="73.4" dy=".35em">3-</text>
<text x="253.2" y="84.9" dy=".35em">2-</text>
<text x="253.2" y="96.5" dy=".35em">1-</text>
<text x="253.2" y="108.0" dy=".35em">0-</text>
<text x="253.2" y="119.5" dy=".35em">-1-</text>
<text x="253.2" y="131.1" dy=".35em">-2-</text>
<text x="253.2" y="142.6" dy=".35em">-3-</text>
</g>
<rect x="205.3" y="119.0" width="8.7" height="8.3" fill="#36a98a"/>
<rect x="205.3" y="130.2" width="8.7" height="8.3" fill="#f77a5c"/>
<g font-size="5.7" fill="#333"><text x="215.5" y="123.2" dy=".35em">T2DM</text><text x="215.5" y="134.4" dy=".35em">DCD</text></g>
<rect x="531.8" y="52.0" width="6.9" height="69.3" fill="url(#gLeg)"/>
<g font-size="5.5" fill="#333" text-anchor="end">
<text x="532.1" y="52.0" dy=".35em">3-</text>
<text x="532.1" y="63.5" dy=".35em">2-</text>
<text x="532.1" y="75.1" dy=".35em">1-</text>
<text x="532.1" y="86.7" dy=".35em">0-</text>
<text x="532.1" y="98.2" dy=".35em">-1-</text>
<text x="532.1" y="109.8" dy=".35em">-2-</text>
<text x="532.1" y="121.3" dy=".35em">-3-</text>
</g>
<rect x="481.0" y="110.5" width="8.7" height="8.3" fill="#36a98a"/>
<rect x="481.0" y="121.6" width="8.7" height="8.3" fill="#f77a5c"/>
<g font-size="5.7" fill="#333"><text x="491.2" y="114.7" dy=".35em">T2DM</text><text x="491.2" y="125.8" dy=".35em">DCD</text></g>
<g font-size="21.4" fill="#000"><text x="13.8" y="47.4">A</text><text x="278.4" y="47.2">B</text><text x="6.8" y="291.7">C</text><text x="279.5" y="293.9">D</text></g>
<defs>
<marker id="ah" viewBox="0 0 10 10" refX="9" refY="5" markerWidth="4" markerHeight="4" orient="auto-start-reverse" markerUnits="userSpaceOnUse"><path d="M0 1L10 5L0 9Z" fill="#222"/></marker>
<marker id="ahg" viewBox="0 0 10 10" refX="9" refY="5" markerWidth="4" markerHeight="4" orient="auto" markerUnits="userSpaceOnUse"><path d="M0 1L10 5L0 9Z" fill="#bbb"/></marker>
</defs>
<rect x="17.8" y="297.8" width="250" height="221" fill="none" stroke="#333" stroke-width="0.9"/>
<path d="M126.5 335.5H209" stroke="#e0dbd7" stroke-width="0.8"/>
<text x="124.0" y="335.5" font-size="4.45" fill="#111" dy=".35em" text-anchor="end">Glutamine and glutamate metabolism</text>
<path d="M126.5 349.8H209" stroke="#e0dbd7" stroke-width="0.8"/>
<text x="124.0" y="349.8" font-size="4.45" fill="#111" dy=".35em" text-anchor="end">Alanine, aspartate and glutamate metabolism</text>
<path d="M126.5 364.1H209" stroke="#e0dbd7" stroke-width="0.8"/>
<text x="124.0" y="364.1" font-size="4.45" fill="#111" dy=".35em" text-anchor="end">TCA cycle</text>
<path d="M126.5 378.5H209" stroke="#e0dbd7" stroke-width="0.8"/>
<text x="124.0" y="378.5" font-size="4.45" fill="#111" dy=".35em" text-anchor="end">Arginine biosynthesis</text>
<path d="M126.5 392.8H209" stroke="#e0dbd7" stroke-width="0.8"/>
<text x="124.0" y="392.8" font-size="4.45" fill="#111" dy=".35em" text-anchor="end">Glycerophospholipid metabolism</text>
<path d="M126.5 407.1H209" stroke="#e0dbd7" stroke-width="0.8"/>
<text x="124.0" y="407.1" font-size="4.45" fill="#111" dy=".35em" text-anchor="end">Taurine and hypotaurine metabolism</text>
<path d="M126.5 421.4H209" stroke="#e0dbd7" stroke-width="0.8"/>
<text x="124.0" y="421.4" font-size="4.45" fill="#111" dy=".35em" text-anchor="end">Phenylalanine, tyrosine and tryptophan biosynthesis</text>
<path d="M126.5 435.7H209" stroke="#e0dbd7" stroke-width="0.8"/>
<text x="124.0" y="435.7" font-size="4.45" fill="#111" dy=".35em" text-anchor="end">Phenylalanine metabolism</text>
<path d="M126.5 450.1H168.5" stroke="#d9d3ce" stroke-width="0.8"/>
<path d="M168.5 450.1H209" stroke="#ebe7e4" stroke-width="0.8"/>
<text x="124.0" y="450.1" font-size="4.45" fill="#111" dy=".35em" text-anchor="end">Arginine and proline metabolism</text>
<path d="M126.5 464.4H168.5" stroke="#d9d3ce" stroke-width="0.8"/>
<text x="124.0" y="464.4" font-size="4.45" fill="#111" dy=".35em" text-anchor="end">Pyruvate metabolism</text>
<path d="M126.5 478.7H168.5" stroke="#d9d3ce" stroke-width="0.8"/>
<path d="M168.5 478.7H209" stroke="#ebe7e4" stroke-width="0.8"/>
<text x="124.0" y="478.7" font-size="4.45" fill="#111" dy=".35em" text-anchor="end">Alanine metabolism</text>
<path d="M126.5 493.0H168.5" stroke="#d9d3ce" stroke-width="0.8"/>
<path d="M168.5 493.0H209" stroke="#ebe7e4" stroke-width="0.8"/>
<text x="124.0" y="493.0" font-size="4.45" fill="#111" dy=".35em" text-anchor="end">Glycolysis / Gluconeogenesis</text>
<text x="152.4" y="322.4" font-size="5.00" fill="#1a1a1a" dy=".35em" text-anchor="middle">Hippocampus</text>
<text x="187.6" y="322.6" font-size="5.00" fill="#1a1a1a" dy=".35em" text-anchor="middle">Urine</text>
<circle cx="150.4" cy="335.5" r="5.20" fill="#f89a40" stroke="#111" stroke-width="0.9"/>
<circle cx="188.2" cy="335.5" r="5.00" fill="#f26b3a" stroke="#111" stroke-width="0.9"/>
<circle cx="150.4" cy="349.8" r="4.10" fill="#f57e3b" stroke="#111" stroke-width="0.9"/>
<circle cx="188.2" cy="349.8" r="4.30" fill="#f8a04a" stroke="#111" stroke-width="0.9"/>
<circle cx="150.4" cy="364.1" r="3.50" fill="#f25c36" stroke="#111" stroke-width="0.9"/>
<circle cx="188.2" cy="364.1" r="2.80" fill="#fddc7a" stroke="#111" stroke-width="0.9"/>
<circle cx="150.4" cy="378.5" r="3.20" fill="#f58a3a" stroke="#111" stroke-width="0.9"/>
<circle cx="188.2" cy="378.5" r="4.50" fill="#7a1f1a" stroke="#111" stroke-width="0.9"/>
<circle cx="150.4" cy="392.8" r="3.20" fill="#fdd580"/>
<circle cx="187.2" cy="407.1" r="5.60" fill="#fbb25a"/>
<circle cx="187.2" cy="421.4" r="4.35" fill="#fcca72"/>
<circle cx="187.2" cy="435.7" r="3.80" fill="#fdd888"/>
<circle cx="187.2" cy="450.1" r="3.20" fill="#f8a24c"/>
<circle cx="187.2" cy="464.4" r="3.00" fill="#fde394"/>
<circle cx="187.2" cy="478.7" r="2.90" fill="#fcc96e"/>
<circle cx="187.2" cy="493.0" r="2.70" fill="#fde29a"/>
<text x="241.2" y="326.5" font-size="4.60" fill="#1a1a1a" dy=".35em" text-anchor="middle" font-weight="bold">-Log10(p)</text>
<rect x="239.4" y="333.8" width="6.2" height="61.6" fill="url(#gP)"/>
<text x="245.6" y="333.8" font-size="3.40" fill="#1a1a1a" dy=".35em">-7</text>
<text x="245.6" y="342.6" font-size="3.40" fill="#1a1a1a" dy=".35em">-6</text>
<text x="245.6" y="351.4" font-size="3.40" fill="#1a1a1a" dy=".35em">-5</text>
<text x="245.6" y="360.2" font-size="3.40" fill="#1a1a1a" dy=".35em">-4</text>
<text x="245.6" y="369.0" font-size="3.40" fill="#1a1a1a" dy=".35em">-3</text>
<text x="245.6" y="377.8" font-size="3.40" fill="#1a1a1a" dy=".35em">-2</text>
<text x="245.6" y="386.6" font-size="3.40" fill="#1a1a1a" dy=".35em">-1</text>
<text x="245.6" y="395.4" font-size="3.40" fill="#1a1a1a" dy=".35em">-0</text>
<text x="242.4" y="413.5" font-size="4.56" fill="#1a1a1a" dy=".35em" text-anchor="middle" font-weight="bold">Impact</text>
<rect x="235.5" y="419.4" width="14.2" height="78.8" fill="#f2edea"/>
<circle cx="242.6" cy="423.7" r="2.60" fill="#72655f"/>
<text x="251.4" y="423.7" font-size="3.70" fill="#1a1a1a" dy=".35em">0.1</text>
<circle cx="242.6" cy="432.4" r="3.10" fill="#72655f"/>
<text x="251.4" y="432.4" font-size="3.70" fill="#1a1a1a" dy=".35em">0.2</text>
<circle cx="242.6" cy="442.1" r="3.55" fill="#72655f"/>
<text x="251.4" y="442.1" font-size="3.70" fill="#1a1a1a" dy=".35em">0.3</text>
<circle cx="242.6" cy="452.8" r="4.00" fill="#72655f"/>
<text x="251.4" y="452.8" font-size="3.70" fill="#1a1a1a" dy=".35em">0.4</text>
<circle cx="242.6" cy="464.4" r="4.50" fill="#72655f"/>
<text x="251.4" y="464.4" font-size="3.70" fill="#1a1a1a" dy=".35em">0.5</text>
<circle cx="242.6" cy="477.4" r="5.00" fill="#72655f"/>
<text x="251.4" y="477.4" font-size="3.70" fill="#1a1a1a" dy=".35em">0.6</text>
<circle cx="242.6" cy="491.1" r="5.45" fill="#72655f"/>
<text x="251.4" y="491.1" font-size="3.70" fill="#1a1a1a" dy=".35em">0.7</text>
<rect x="308.4" y="297.4" width="211.2" height="221.4" fill="none" stroke="#333" stroke-width="0.9"/>
<rect x="310.5" y="305.6" width="78.9" height="64.1" rx="6" fill="#e9f1de"/>
<rect x="327.7" y="428.4" width="44.6" height="50" rx="5" fill="#e0eaf2"/>
<rect x="434.3" y="437.7" width="75.7" height="62.7" rx="6" fill="#fdebf0"/>
<ellipse cx="442.5" cy="386" rx="47.7" ry="36" fill="#fde9bc" stroke="#f9e0b0" stroke-width="0.8"/>
<ellipse cx="442.5" cy="386" rx="42.5" ry="31" fill="#feecc0" stroke="#f4e2d4" stroke-width="1.2"/>
<path d="M403.4 371.2V392.9A2.1 2.1 0 0 0 407.6 392.9V371.2M411.6 408.3V375.7A2.1 2.1 0 0 1 415.8 375.7V408.3M419.8 359.4V398.2A2.1 2.1 0 0 0 424.0 398.2V359.4M428.0 415.2V372.7A2.1 2.1 0 0 1 432.2 372.7V415.2M436.2 355.7V399.9A2.1 2.1 0 0 0 440.4 399.9V355.7M444.4 416.4V372.1A2.1 2.1 0 0 1 448.6 372.1V416.4M452.6 356.8V399.4A2.1 2.1 0 0 0 456.8 399.4V356.8M460.8 412.7V373.8A2.1 2.1 0 0 1 465.0 373.8V412.7M469.0 363.6V396.3A2.1 2.1 0 0 0 473.2 396.3V363.6M477.2 401.0V379.0A2.1 2.1 0 0 1 481.4 379.0V401.0" fill="none" stroke="#f4e2d4" stroke-width="1.2"/>
<rect x="421.3" y="304" width="87.7" height="22.7" fill="#fff" stroke="#222" stroke-width="0.9"/>
<path d="M425.2 320.5V312.0" stroke="#f0140f" stroke-width="1.1"/>
<path d="M423.5 312.9L425.2 309.5L426.9 312.9Z" fill="#f0140f"/>
<path d="M429.6 309.5V318.0" stroke="#1a9a3a" stroke-width="1.1"/>
<path d="M427.9 317.1L429.6 320.5L431.3 317.1Z" fill="#1a9a3a"/>
<text x="435.0" y="311.0" font-size="6.00" fill="#1a1a1a" dy=".35em" textLength="66.7" lengthAdjust="spacingAndGlyphs" stroke="#1a1a1a" stroke-width="0.08">Change from DCD group</text>
<text x="435.0" y="319.0" font-size="6.00" fill="#1a1a1a" dy=".35em" stroke="#1a1a1a" stroke-width="0.08">to T2DM group</text>
<text x="314.4" y="312.0" font-size="6.00" fill="#1a1a1a" dy=".35em" textLength="78.8" lengthAdjust="spacingAndGlyphs" stroke="#1a1a1a" stroke-width="0.08">N-Acetylaspartylglutamic acid</text>
<path d="M397.0 307.0V315.0" stroke="#1a9a3a" stroke-width="1.1"/>
<path d="M395.3 314.1L397.0 317.5L398.7 314.1Z" fill="#1a9a3a"/>
<text x="348.1" y="341.8" font-size="6.00" fill="#1a1a1a" dy=".35em" textLength="52.0" lengthAdjust="spacingAndGlyphs" text-anchor="middle" stroke="#1a1a1a" stroke-width="0.08">N-Acetyl-L-aspartyl</text>
<text x="332.0" y="366.7" font-size="6.00" fill="#1a1a1a" dy=".35em" textLength="30.0" lengthAdjust="spacingAndGlyphs" stroke="#1a1a1a" stroke-width="0.08">L-Asparate</text>
<text x="383.3" y="366.4" font-size="6.00" fill="#1a1a1a" dy=".35em" textLength="33.4" lengthAdjust="spacingAndGlyphs" stroke="#1a1a1a" stroke-width="0.08">Fumaric acid</text>
<path d="M420.3 370.5V362.5" stroke="#f0140f" stroke-width="1.1"/>
<path d="M418.6 363.4L420.3 360.0L422.0 363.4Z" fill="#f0140f"/>
<text x="314.4" y="377.0" font-size="6.00" fill="#1a1a1a" dy=".35em" textLength="59.6" lengthAdjust="spacingAndGlyphs" stroke="#1a1a1a" stroke-width="0.08">Alanine, aspartate and</text>
<text x="315.1" y="385.0" font-size="6.00" fill="#1a1a1a" dy=".35em" textLength="59.6" lengthAdjust="spacingAndGlyphs" stroke="#1a1a1a" stroke-width="0.08">glutamate metabolism</text>
<text x="436.5" y="346.0" font-size="6.00" fill="#1a1a1a" dy=".35em" textLength="35.5" lengthAdjust="spacingAndGlyphs" text-anchor="middle" stroke="#1a1a1a" stroke-width="0.08">Oxaloacetate</text>
<text x="447.0" y="366.4" font-size="6.00" fill="#1a1a1a" dy=".35em" textLength="33.0" lengthAdjust="spacingAndGlyphs" stroke="#1a1a1a" stroke-width="0.08">Aconitic acid</text>
<path d="M483.4 371.0V363.0" stroke="#f0140f" stroke-width="1.1"/>
<path d="M481.7 363.9L483.4 360.5L485.1 363.9Z" fill="#f0140f"/>
<text x="428.9" y="391.9" font-size="9.3" fill="#111" stroke="#111" stroke-width="0.15" textLength="13.9" lengthAdjust="spacingAndGlyphs">TCA</text>
<text x="386.8" y="408.4" font-size="6.00" fill="#1a1a1a" dy=".35em" textLength="26.8" lengthAdjust="spacingAndGlyphs" stroke="#1a1a1a" stroke-width="0.08">Malic acid</text>
<path d="M416.4 413.0V405.0" stroke="#f0140f" stroke-width="1.1"/>
<path d="M414.7 405.9L416.4 402.5L418.1 405.9Z" fill="#f0140f"/>
<text x="460.0" y="408.4" font-size="6.00" fill="#1a1a1a" dy=".35em" textLength="14.3" lengthAdjust="spacingAndGlyphs" stroke="#1a1a1a" stroke-width="0.08">2-KG</text>
<text x="433.9" y="428.9" font-size="6.00" fill="#1a1a1a" dy=".35em" textLength="26.1" lengthAdjust="spacingAndGlyphs" text-anchor="middle" stroke="#1a1a1a" stroke-width="0.08">Succinate</text>
<text x="452.3" y="441.8" font-size="6.00" fill="#1a1a1a" dy=".35em" textLength="42.5" lengthAdjust="spacingAndGlyphs" stroke="#1a1a1a" stroke-width="0.08">Oxoglutaric acid</text>
<path d="M497.0 447.0V439.0" stroke="#f0140f" stroke-width="1.1"/>
<path d="M495.3 439.9L497.0 436.5L498.7 439.9Z" fill="#f0140f"/>
<text x="448.5" y="468.5" font-size="6.00" fill="#1a1a1a" dy=".35em" textLength="42.5" lengthAdjust="spacingAndGlyphs" stroke="#1a1a1a" stroke-width="0.08">L-Glutamic acid</text>
<path d="M494.0 473.5V465.5" stroke="#f0140f" stroke-width="1.1"/>
<path d="M492.3 466.4L494.0 463.0L495.7 466.4Z" fill="#f0140f"/>
<text x="435.0" y="493.8" font-size="6.00" fill="#1a1a1a" dy=".35em" textLength="70.2" lengthAdjust="spacingAndGlyphs" stroke="#1a1a1a" stroke-width="0.08">gamma-Aminobutyric acid</text>
<path d="M506.9 488.5V496.5" stroke="#1a9a3a" stroke-width="1.1"/>
<path d="M505.2 495.6L506.9 499.0L508.6 495.6Z" fill="#1a9a3a"/>
<text x="413.0" y="506.3" font-size="6.00" fill="#1a1a1a" dy=".35em" textLength="100.0" lengthAdjust="spacingAndGlyphs" stroke="#1a1a1a" stroke-width="0.08">Glutamine and glutamate metabolism</text>
<text x="352.3" y="434.8" font-size="6.00" fill="#1a1a1a" dy=".35em" textLength="21.6" lengthAdjust="spacingAndGlyphs" text-anchor="middle" stroke="#1a1a1a" stroke-width="0.08">Arginine</text>
<text x="333.6" y="457.5" font-size="6.00" fill="#1a1a1a" dy=".35em" textLength="9.1" lengthAdjust="spacingAndGlyphs" stroke="#1a1a1a" stroke-width="0.08">NO</text>
<text x="338.6" y="468.9" font-size="6.00" fill="#1a1a1a" dy=".35em" textLength="23.9" lengthAdjust="spacingAndGlyphs" stroke="#1a1a1a" stroke-width="0.08">Citrulline</text>
<path d="M364.8 474.0V466.0" stroke="#f0140f" stroke-width="1.1"/>
<path d="M363.1 466.9L364.8 463.5L366.5 466.9Z" fill="#f0140f"/>
<text x="322.7" y="485.7" font-size="6.00" fill="#1a1a1a" dy=".35em" textLength="56.8" lengthAdjust="spacingAndGlyphs" stroke="#1a1a1a" stroke-width="0.08">Arginine biosynthesis</text>
<path d="M348.2 318V333.5" stroke="#222" stroke-width="0.7" fill="none" marker-start="url(#ah)" marker-end="url(#ah)"/>
<path d="M348.2 347.6V362.9" stroke="#222" stroke-width="0.7" fill="none" marker-start="url(#ah)" marker-end="url(#ah)"/>
<path d="M362.8 366.7H381" stroke="#222" stroke-width="0.7" fill="none" marker-end="url(#ah)"/>
<path d="M381.8 373L352.9 426.6" stroke="#222" stroke-width="0.7" fill="none" marker-end="url(#ah)"/>
<path d="M410.3 358.1A39.5 38.0 0 0 1 421.7 352.1" stroke="#222" stroke-width="0.7" fill="none" marker-end="url(#ah)"/>
<path d="M446.1 351.7A39.5 38.0 0 0 1 454.9 355.4" stroke="#222" stroke-width="0.7" fill="none" marker-end="url(#ah)"/>
<path d="M473.4 380.7A39.5 38.0 0 0 1 473.1 396.5" stroke="#222" stroke-width="0.7" fill="none" marker-end="url(#ah)"/>
<path d="M462.0 415.3A39.5 38.0 0 0 1 453.1 421.6" stroke="#222" stroke-width="0.7" fill="none" marker-end="url(#ah)"/>
<path d="M415.5 421.2A39.5 38.0 0 0 1 406.2 414.4" stroke="#222" stroke-width="0.7" fill="none" marker-end="url(#ah)"/>
<path d="M396.0 395.9A39.5 38.0 0 0 1 396.3 378.8" stroke="#222" stroke-width="0.7" fill="none" marker-end="url(#ah)"/>
<path d="M469.6 413.5V432" stroke="#222" stroke-width="0.7" fill="none" marker-end="url(#ah)"/>
<path d="M469.4 446V460.2" stroke="#222" stroke-width="0.7" fill="none" marker-end="url(#ah)"/>
<path d="M469.4 474.8V487.6" stroke="#222" stroke-width="0.7" fill="none" marker-end="url(#ah)"/>
<path d="M351.8 443.2V461" stroke="#222" stroke-width="0.7" fill="none" marker-start="url(#ah)" marker-end="url(#ah)"/>
<path d="M351.6 449Q350.5 456.5 343.6 457.6" stroke="#222" stroke-width="0.7" fill="none" marker-end="url(#ah)"/>
<path d="M367 468.9H445" stroke="#c9c4c4" stroke-width="0.8" stroke-dasharray="3 2" fill="none" marker-end="url(#ahg)"/>
</svg>
</body></html>
